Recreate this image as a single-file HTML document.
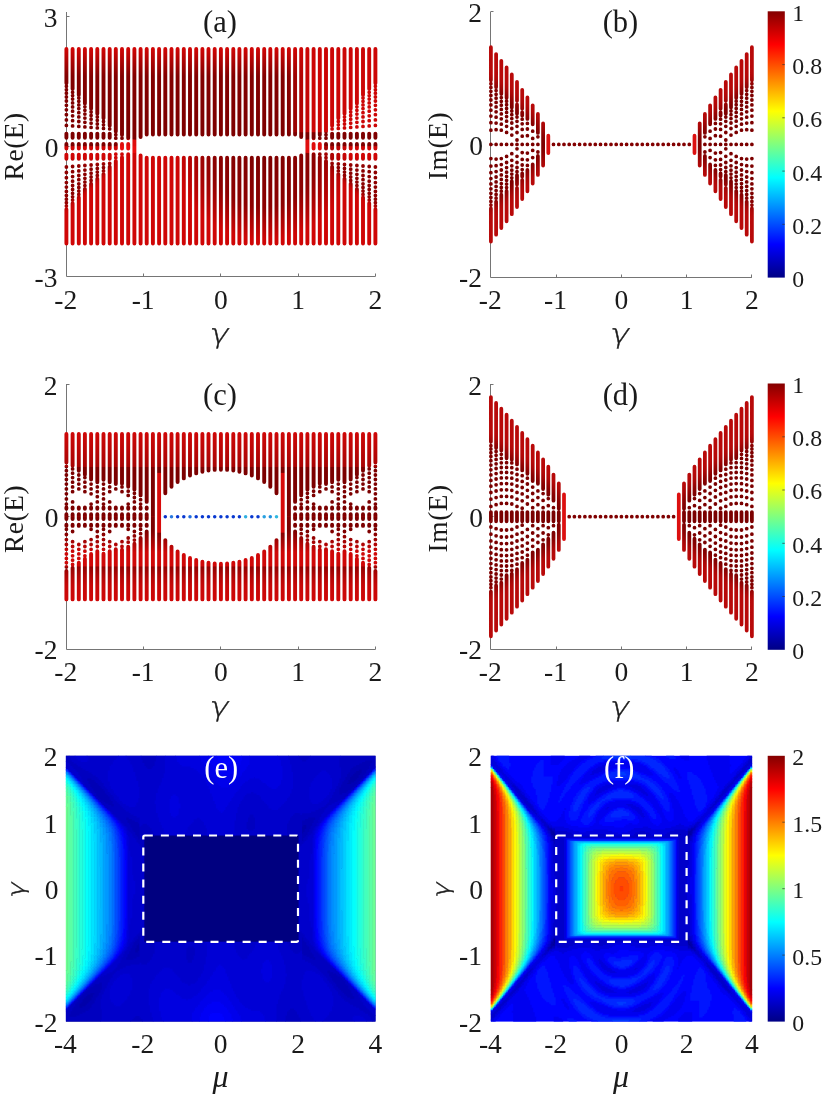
<!DOCTYPE html>
<html><head><meta charset="utf-8"><title>Figure</title>
<style>html,body{margin:0;padding:0;background:#fff}svg{display:block}text{font-family:'Liberation Serif','DejaVu Serif',serif;fill:#1a1a1a}</style>
</head><body>
<svg width="825" height="1097" viewBox="0 0 825 1097">
<rect width="825" height="1097" fill="#fff"/>
<rect x="66" y="755.8" width="309.4" height="265.8" fill="#000080"/>
<g fill="none" stroke-width="2">
<path stroke="#0000aa" d="M80.3 1003.3v5M81.8 1001.8v6.5M83.3 998.8v8M84.8 997.3v9.5M86.3 995.8v9.5M87.8 994.3v9.5M89.3 994.3v8M90.8 992.8v8M92.3 992.8v5M93.8 992.8v2M135.8 947.8v5M137.3 944.8v8M138.8 943.3v8M302.6 826.1v8M304.1 824.6v8M305.6 824.6v5M347.6 782.6v2M349.1 779.6v5M350.6 776.6v8M352.1 775.1v8M353.6 773.6v9.5M355.1 772.1v9.5M356.6 770.6v9.5M358.1 770.6v8M359.6 769.1v6.5M361.1 769.1v5"/>
<path stroke="#0000b5" d="M69.8 1013.8v3.5M71.3 1010.8v6.5M72.8 1007.8v9.5M74.3 1006.3v11M75.8 1003.3v14M77.3 1001.8v14M78.8 998.8v17M80.3 997.3v6.5M80.3 1007.8v6.5M81.8 995.8v6.5M81.8 1007.8v6.5M83.3 994.3v5M83.3 1006.3v6.5M84.8 992.8v5M84.8 1006.3v6.5M86.3 991.3v5M86.3 1004.8v6.5M87.8 778.1v3.5M87.8 989.8v5M87.8 1003.3v8M89.3 778.1v6.5M89.3 988.3v6.5M89.3 1001.8v8M90.8 778.1v9.5M90.8 986.8v6.5M90.8 1000.3v8M92.3 779.6v9.5M92.3 986.8v6.5M92.3 997.3v8M93.8 779.6v12.5M93.8 985.3v8M93.8 994.3v9.5M95.3 781.1v12.5M95.3 983.8v17M96.8 782.6v14M96.8 983.8v14M98.3 784.1v14M98.3 983.8v12.5M99.8 785.6v14M99.8 982.3v11M101.3 787.1v14M101.3 982.3v8M102.8 788.6v12.5M104.3 790.1v12.5M105.8 793.1v11M107.3 794.6v9.5M108.8 796.1v9.5M110.3 799.1v6.5M111.8 800.6v6.5M113.3 803.6v3.5M126.8 817.1v3.5M126.8 956.8v3.5M128.3 817.1v6.5M128.3 953.8v6.5M129.8 818.6v6.5M129.8 950.8v9.5M131.3 818.6v9.5M131.3 947.8v12.5M132.8 820.1v11M132.8 944.8v15.5M134.3 820.1v12.5M134.3 941.8v17M135.8 821.6v14M135.8 940.3v8M135.8 952.3v6.5M137.3 821.6v15.5M137.3 938.8v6.5M137.3 952.3v5M138.8 823.1v17M138.8 935.8v8M138.8 950.8v6.5M302.6 820.1v6.5M302.6 833.6v8M302.6 937.3v17M304.1 820.1v5M304.1 832.1v6.5M304.1 940.3v15.5M305.6 818.6v6.5M305.6 829.1v8M305.6 941.8v14M307.1 818.6v17M307.1 944.8v12.5M308.6 817.1v15.5M308.6 946.3v11M310.1 817.1v12.5M310.1 949.3v9.5M311.6 817.1v9.5M311.6 952.3v6.5M313.1 817.1v6.5M313.1 953.8v6.5M314.6 817.1v3.5M314.6 956.8v3.5M328.1 970.3v3.5M329.6 970.3v6.5M331.1 971.8v6.5M332.6 971.8v9.5M334.1 973.3v9.5M335.6 973.3v11M337.1 974.8v12.5M338.6 976.3v12.5M340.1 787.1v8M340.1 976.3v14M341.6 784.1v11M341.6 977.8v14M343.1 781.1v12.5M343.1 979.3v14M344.6 779.6v14M344.6 980.8v14M346.1 776.6v17M346.1 983.8v12.5M347.6 773.6v9.5M347.6 784.1v8M347.6 985.3v12.5M349.1 772.1v8M349.1 784.1v6.5M349.1 988.3v9.5M350.6 769.1v8M350.6 784.1v6.5M350.6 989.8v9.5M352.1 767.6v8M352.1 782.6v6.5M352.1 992.8v6.5M353.6 766.1v8M353.6 782.6v5M353.6 995.8v3.5M355.1 766.1v6.5M355.1 781.1v5M356.6 764.6v6.5M356.6 779.6v5M358.1 764.6v6.5M358.1 778.1v5M359.6 763.1v6.5M359.6 775.1v6.5M361.1 763.1v6.5M361.1 773.6v6.5M362.6 761.6v17M364.1 761.6v14M365.6 760.1v14M367.1 760.1v11M368.6 760.1v9.5M370.1 760.1v6.5M371.6 760.1v3.5"/>
<path stroke="#0000c0" d="M66.8 755.8v6.3M66.8 1010.8v10.8M68.3 755.8v7.8M68.3 1007.8v13.8M69.8 757.1v8M69.8 1006.3v8M69.8 1016.8v4.8M71.3 760.1v6.5M71.3 1004.8v6.5M71.3 1016.8v4.8M72.8 761.6v6.5M72.8 1003.3v5M72.8 1016.8v4.8M74.3 763.1v6.5M74.3 1001.8v5M74.3 1016.8v4.8M75.8 763.1v8M75.8 1000.3v3.5M75.8 1016.8v4.8M77.3 764.6v8M77.3 998.8v3.5M77.3 1015.3v6.3M78.8 766.1v9.5M78.8 997.3v2M78.8 1015.3v6.3M80.3 766.1v11M80.3 995.8v2M80.3 1013.8v7.8M81.8 767.6v12.5M81.8 992.8v3.5M81.8 1013.8v7.8M83.3 769.1v14M83.3 991.3v3.5M83.3 1012.3v9.3M84.8 769.1v17M84.8 989.8v3.5M84.8 1012.3v9.3M86.3 770.6v17M86.3 988.3v3.5M86.3 1010.8v10.8M87.8 770.6v8M87.8 781.1v8M87.8 986.8v3.5M87.8 1010.8v10.8M89.3 772.1v6.5M89.3 784.1v6.5M89.3 986.8v2M89.3 1009.3v12.3M90.8 772.1v6.5M90.8 787.1v5M90.8 985.3v2M90.8 1007.8v13.8M92.3 773.6v6.5M92.3 788.6v5M92.3 983.8v3.5M92.3 1004.8v16.8M93.8 775.1v5M93.8 791.6v5M93.8 982.3v3.5M93.8 1003.3v18.3M95.3 775.1v6.5M95.3 793.1v5M95.3 980.8v3.5M95.3 1000.3v21.3M96.8 776.6v6.5M96.8 796.1v3.5M96.8 979.3v5M96.8 997.3v24.3M98.3 778.1v6.5M98.3 797.6v3.5M98.3 977.8v6.5M98.3 995.8v25.8M99.8 779.6v6.5M99.8 799.1v3.5M99.8 977.8v5M99.8 992.8v28.8M101.3 781.1v6.5M101.3 800.6v3.5M101.3 976.3v6.5M101.3 989.8v9.5M101.3 1009.3v11M102.8 782.6v6.5M102.8 800.6v5M102.8 976.3v18.5M104.3 785.6v5M104.3 802.1v5M104.3 974.8v17M105.8 787.1v6.5M105.8 803.6v5M105.8 974.8v14M107.3 788.6v6.5M107.3 803.6v6.5M107.3 973.3v12.5M108.8 791.6v5M108.8 805.1v5M108.8 973.3v9.5M110.3 793.1v6.5M110.3 805.1v6.5M110.3 971.8v8M111.8 794.6v6.5M111.8 806.6v6.5M111.8 971.8v6.5M113.3 796.1v8M113.3 806.6v8M113.3 970.3v5M114.8 799.1v17M114.8 968.8v5M116.3 800.6v17M116.3 967.3v5M117.8 802.1v17M117.8 964.3v6.5M119.3 803.6v17M119.3 962.8v8M120.8 805.1v17M120.8 959.8v9.5M122.3 806.6v17M122.3 956.8v12.5M123.8 808.1v17M123.8 953.8v14M125.3 809.6v17M125.3 950.8v17M126.8 811.1v6.5M126.8 820.1v8M126.8 949.3v8M126.8 959.8v6.5M128.3 811.1v6.5M128.3 823.1v8M128.3 946.3v8M128.3 959.8v6.5M129.8 812.6v6.5M129.8 824.6v8M129.8 943.3v8M129.8 959.8v6.5M131.3 814.1v5M131.3 827.6v6.5M131.3 941.8v6.5M131.3 959.8v5M131.3 1019.8v1.8M132.8 814.1v6.5M132.8 830.6v6.5M132.8 940.3v5M132.8 959.8v5M132.8 1018.3v3.3M134.3 815.6v5M134.3 832.1v6.5M134.3 937.3v5M134.3 958.3v6.5M134.3 1016.8v4.8M135.8 815.6v6.5M135.8 835.1v5M135.8 935.8v5M135.8 958.3v6.5M135.8 1015.3v6.3M137.3 817.1v5M137.3 836.6v6.5M137.3 934.3v5M137.3 956.8v8M137.3 1015.3v6.3M138.8 817.1v6.5M138.8 839.6v5M138.8 932.8v3.5M138.8 956.8v8M138.8 1015.3v6.3M140.3 826.1v20M140.3 931.2v32M140.3 1016.8v4.8M141.8 755.8v4.8M141.8 824.6v23M141.8 929.7v35M141.8 1018.3v3.3M143.3 755.8v7.8M143.3 823.1v26M143.3 928.2v36.5M144.9 755.8v10.8M144.9 823.1v12.5M144.9 941.8v23M146.4 755.8v12.3M146.4 823.1v12.5M146.4 941.8v23M147.9 755.8v13.8M147.9 824.6v11M147.9 941.8v21.5M149.4 755.8v13.8M149.4 826.1v9.5M149.4 941.8v20M150.9 755.8v13.8M150.9 827.6v8M150.9 941.8v18.5M152.4 755.8v12.3M152.4 830.6v5M152.4 941.8v15.5M153.9 755.8v10.8M153.9 833.6v2M153.9 941.8v12.5M155.4 755.8v6.3M186.9 947.8v12.5M188.4 946.3v17M189.9 946.3v17M191.4 946.3v17M192.9 946.3v14M194.4 947.8v8M247 821.6v8M248.5 817.1v14M250 814.1v17M251.5 814.1v17M253 814.1v17M254.5 817.1v12.5M286 1015.3v6.3M287.5 823.1v12.5M287.5 941.8v2M287.5 1010.8v10.8M289 820.1v15.5M289 941.8v5M289 1009.3v12.3M290.5 817.1v18.5M290.5 941.8v8M290.5 1007.8v13.8M292 815.6v20M292 941.8v9.5M292 1007.8v13.8M293.5 814.1v21.5M293.5 941.8v11M293.5 1007.8v13.8M295 812.6v23M295 941.8v12.5M295 1009.3v12.3M296.5 812.6v23M296.5 941.8v12.5M296.5 1010.8v10.8M298 812.6v23M298 941.8v12.5M298 1013.8v7.8M299.6 755.8v3.3M299.6 812.6v35M299.6 929.7v23M299.6 1016.8v4.8M301.1 755.8v4.8M301.1 814.1v32M301.1 931.2v20M302.6 755.8v6.3M302.6 812.6v8M302.6 841.1v3.5M302.6 932.8v5M302.6 953.8v6.5M304.1 755.8v6.3M304.1 812.6v8M304.1 838.1v5M304.1 934.3v6.5M304.1 955.3v5M305.6 755.8v6.3M305.6 812.6v6.5M305.6 836.6v5M305.6 937.3v5M305.6 955.3v6.5M307.1 755.8v4.8M307.1 812.6v6.5M307.1 835.1v5M307.1 938.8v6.5M307.1 956.8v5M308.6 755.8v3.3M308.6 812.6v5M308.6 832.1v5M308.6 940.3v6.5M308.6 956.8v6.5M310.1 755.8v1.8M310.1 812.6v5M310.1 829.1v6.5M310.1 943.3v6.5M310.1 958.3v5M311.6 811.1v6.5M311.6 826.1v8M311.6 944.8v8M311.6 958.3v6.5M313.1 811.1v6.5M313.1 823.1v8M313.1 946.3v8M313.1 959.8v6.5M314.6 811.1v6.5M314.6 820.1v8M314.6 949.3v8M314.6 959.8v6.5M316.1 809.6v17M316.1 950.8v17M317.6 809.6v14M317.6 952.3v17M319.1 808.1v12.5M319.1 953.8v17M320.6 808.1v9.5M320.6 955.3v17M322.1 806.6v8M322.1 956.8v17M323.6 806.6v6.5M323.6 958.3v17M325.1 805.1v5M325.1 959.8v17M326.6 803.6v5M326.6 961.3v17M328.1 802.1v5M328.1 962.8v8M328.1 973.3v8M329.6 799.1v6.5M329.6 964.3v6.5M329.6 976.3v6.5M331.1 797.6v8M331.1 965.8v6.5M331.1 977.8v6.5M332.6 794.6v9.5M332.6 967.3v5M332.6 980.8v5M334.1 791.6v12.5M334.1 967.3v6.5M334.1 982.3v6.5M335.6 788.6v14M335.6 968.8v5M335.6 983.8v6.5M337.1 785.6v17M337.1 970.3v5M337.1 986.8v5M338.6 782.6v18.5M338.6 971.8v5M338.6 988.3v6.5M340.1 757.1v11M340.1 778.1v9.5M340.1 794.6v6.5M340.1 973.3v3.5M340.1 989.8v6.5M341.6 755.8v28.8M341.6 794.6v5M341.6 974.8v3.5M341.6 991.3v6.5M343.1 755.8v25.8M343.1 793.1v6.5M343.1 976.3v3.5M343.1 992.8v6.5M344.6 755.8v24.3M344.6 793.1v5M344.6 977.8v3.5M344.6 994.3v6.5M346.1 755.8v21.3M346.1 793.1v3.5M346.1 979.3v5M346.1 995.8v6.5M347.6 755.8v18.3M347.6 791.6v3.5M347.6 980.8v5M347.6 997.3v5M349.1 755.8v16.8M349.1 790.1v3.5M349.1 983.8v5M349.1 997.3v6.5M350.6 755.8v13.8M350.6 790.1v2M350.6 985.3v5M350.6 998.8v6.5M352.1 755.8v12.3M352.1 788.6v2M352.1 986.8v6.5M352.1 998.8v6.5M353.6 755.8v10.8M353.6 787.1v3.5M353.6 988.3v8M353.6 998.8v8M355.1 755.8v10.8M355.1 785.6v3.5M355.1 989.8v17M356.6 755.8v9.3M356.6 784.1v3.5M356.6 991.3v17M358.1 755.8v9.3M358.1 782.6v3.5M358.1 994.3v14M359.6 755.8v7.8M359.6 781.1v3.5M359.6 997.3v12.5M361.1 755.8v7.8M361.1 779.6v2M361.1 1000.3v11M362.6 755.8v6.3M362.6 778.1v2M362.6 1001.8v9.5M364.1 755.8v6.3M364.1 775.1v3.5M364.1 1004.8v8M365.6 755.8v4.8M365.6 773.6v3.5M365.6 1006.3v8M367.1 755.8v4.8M367.1 770.6v5M367.1 1007.8v6.5M368.6 755.8v4.8M368.6 769.1v5M368.6 1009.3v6.5M370.1 755.8v4.8M370.1 766.1v6.5M370.1 1010.8v6.5M371.6 755.8v4.8M371.6 763.1v8M371.6 1012.3v8M373.1 755.8v13.8M373.1 1013.8v7.8M374.6 755.8v10.8M374.6 1015.3v6.3"/>
<path stroke="#0000cb" d="M66.8 761.6v6.5M66.8 1009.3v2M68.3 763.1v6.5M68.3 1006.3v2M69.8 755.8v1.8M69.8 764.6v6.5M69.8 1004.8v2M71.3 755.8v4.8M71.3 766.1v6.5M71.3 1003.3v2M72.8 755.8v6.3M72.8 767.6v6.5M72.8 1001.8v2M74.3 755.8v7.8M74.3 769.1v6.5M74.3 1000.3v2M75.8 757.1v6.5M75.8 770.6v6.5M75.8 998.8v2M77.3 758.6v6.5M77.3 772.1v6.5M77.3 997.3v2M78.8 760.1v6.5M78.8 775.1v5M78.8 995.8v2M80.3 760.1v6.5M80.3 776.6v5M80.3 994.3v2M81.8 761.6v6.5M81.8 779.6v3.5M83.3 761.6v8M83.3 782.6v3.5M84.8 761.6v8M84.8 785.6v2M86.3 761.6v9.5M86.3 787.1v2M87.8 755.8v1.8M87.8 760.1v11M87.8 788.6v2M89.3 755.8v16.8M89.3 790.1v2M89.3 985.3v2M90.8 755.8v16.8M90.8 791.6v2M90.8 983.8v2M92.3 755.8v18.3M92.3 793.1v2M92.3 982.3v2M93.8 755.8v19.8M93.8 980.8v2M95.3 755.8v19.8M95.3 979.3v2M96.8 755.8v21.3M96.8 977.8v2M98.3 755.8v22.8M98.3 976.3v2M99.8 755.8v24.3M99.8 974.8v3.5M101.3 755.8v25.8M101.3 973.3v3.5M101.3 998.8v11M101.3 1019.8v1.8M102.8 755.8v27.3M102.8 971.8v5M102.8 994.3v27.3M104.3 755.8v30.3M104.3 971.8v3.5M104.3 991.3v30.3M105.8 755.8v31.8M105.8 970.3v5M105.8 988.3v33.3M107.3 755.8v33.3M107.3 968.8v5M107.3 985.3v36.3M108.8 755.8v15.3M108.8 781.1v11M108.8 809.6v2M108.8 967.3v6.5M108.8 982.3v39.3M110.3 755.8v10.8M110.3 785.6v8M110.3 811.1v2M110.3 965.8v6.5M110.3 979.3v9.5M110.3 998.8v22.8M111.8 755.8v9.3M111.8 788.6v6.5M111.8 812.6v2M111.8 964.3v8M111.8 977.8v8M111.8 1001.8v19.8M113.3 755.8v6.3M113.3 790.1v6.5M113.3 814.1v2M113.3 962.8v8M113.3 974.8v8M113.3 1003.3v18.3M114.8 755.8v4.8M114.8 793.1v6.5M114.8 815.6v2M114.8 961.3v8M114.8 973.3v8M114.8 1004.8v16.8M116.3 755.8v3.3M116.3 794.6v6.5M116.3 817.1v2M116.3 959.8v8M116.3 971.8v8M116.3 1006.3v15.3M117.8 755.8v1.8M117.8 796.1v6.5M117.8 818.6v2M117.8 958.3v6.5M117.8 970.3v8M117.8 1006.3v15.3M119.3 799.1v5M119.3 820.1v2M119.3 955.3v8M119.3 970.3v6.5M119.3 1006.3v15.3M120.8 800.6v5M120.8 821.6v2M120.8 953.8v6.5M120.8 968.8v6.5M120.8 1004.8v16.8M122.3 802.1v5M122.3 823.1v2M122.3 952.3v5M122.3 968.8v6.5M122.3 1003.3v18.3M123.8 803.6v5M123.8 824.6v2M123.8 950.8v3.5M123.8 967.3v6.5M123.8 1001.8v19.8M125.3 803.6v6.5M125.3 826.1v2M125.3 949.3v2M125.3 967.3v6.5M125.3 1000.3v21.3M126.8 755.8v1.8M126.8 805.1v6.5M126.8 827.6v3.5M126.8 946.3v3.5M126.8 965.8v8M126.8 998.8v22.8M128.3 755.8v4.8M128.3 805.1v6.5M128.3 830.6v6.5M128.3 938.8v8M128.3 965.8v8M128.3 995.8v25.8M129.8 755.8v6.3M129.8 806.6v6.5M129.8 832.1v18.5M129.8 923.7v20M129.8 965.8v9.5M129.8 994.3v27.3M131.3 755.8v9.3M131.3 806.6v8M131.3 833.6v23M131.3 917.7v24.5M131.3 964.3v14M131.3 989.8v30.5M132.8 755.8v12.3M132.8 806.6v8M132.8 836.6v38M132.8 898.2v42.5M132.8 964.3v54.6M134.3 755.8v16.8M134.3 806.6v9.5M134.3 838.1v42.5M134.3 893.7v44M134.3 964.3v53.1M135.8 755.8v21.3M135.8 805.1v11M135.8 839.6v96.6M135.8 964.3v51.6M137.3 755.8v25.8M137.3 802.1v15.5M137.3 842.6v92.1M137.3 964.3v51.6M138.8 755.8v31.8M138.8 797.6v20M138.8 844.1v89.1M138.8 964.3v51.6M140.3 755.8v70.8M140.3 845.7v86.1M140.3 962.8v54.6M141.8 760.1v65.1M141.8 847.2v83.1M141.8 964.3v54.6M143.3 763.1v60.6M143.3 848.7v80.1M143.3 964.3v57.3M144.9 766.1v57.6M144.9 964.3v57.3M146.4 767.6v56.1M146.4 964.3v57.3M147.9 769.1v56.1M147.9 962.8v58.8M149.4 769.1v57.6M149.4 961.3v27.5M149.4 1004.8v16.8M150.9 769.1v59.1M150.9 959.8v24.5M150.9 1012.3v9.3M152.4 767.6v63.6M152.4 956.8v24.5M152.4 1016.8v4.8M153.9 766.1v68.1M153.9 953.8v26M155.4 761.6v39.5M155.4 803.6v32M155.4 941.8v35M156.9 755.8v37.8M156.9 812.6v23M156.9 941.8v33.5M158.4 755.8v33.3M158.4 817.1v18.5M158.4 941.8v32M159.9 755.8v30.3M159.9 821.6v14M159.9 941.8v30.5M161.4 755.8v27.3M161.4 824.6v11M161.4 941.8v29M162.9 755.8v22.8M162.9 827.6v8M162.9 941.8v27.5M164.4 755.8v18.3M164.4 832.1v3.5M164.4 941.8v26M165.9 941.8v26M167.4 941.8v26M168.9 941.8v26M170.4 941.8v27.5M171.9 941.8v27.5M173.4 941.8v30.5M174.9 941.8v32M176.4 941.8v33.5M177.9 941.8v35M179.4 941.8v36.5M180.9 941.8v39.5M182.4 941.8v41M183.9 941.8v41M185.4 832.1v3.5M185.4 941.8v42.5M186.9 829.1v6.5M186.9 941.8v6.5M186.9 959.8v24.5M188.4 826.1v9.5M188.4 941.8v5M188.4 962.8v23M189.9 824.6v11M189.9 941.8v5M189.9 962.8v23M191.4 823.1v12.5M191.4 941.8v5M191.4 962.8v21.5M192.9 821.6v14M192.9 941.8v5M192.9 959.8v24.5M194.4 818.6v17M194.4 941.8v6.5M194.4 955.3v29M195.9 818.6v17M195.9 941.8v41M197.4 817.1v18.5M197.4 941.8v39.5M198.9 817.1v18.5M198.9 941.8v36.5M200.4 818.6v17M200.4 941.8v35M201.9 820.1v15.5M201.9 941.8v32M203.4 821.6v14M203.4 941.8v29M204.9 824.6v11M204.9 941.8v23M206.4 827.6v8M206.4 943.3v14M235 820.1v14M235 941.8v8M236.5 812.6v23M236.5 941.8v11M238 806.6v29M238 941.8v14M239.5 803.6v32M239.5 941.8v15.5M241 800.6v35M241 941.8v17M242.5 799.1v36.5M242.5 941.8v18.5M244 796.1v39.5M244 941.8v18.5M245.5 794.6v41M245.5 941.8v17M247 793.1v29M247 829.1v6.5M247 941.8v17M248.5 793.1v24.5M248.5 830.6v5M248.5 941.8v14M250 793.1v21.5M250 830.6v5M250 941.8v12.5M251.5 791.6v23M251.5 830.6v5M251.5 941.8v11M253 791.6v23M253 830.6v5M253 941.8v9.5M254.5 793.1v24.5M254.5 829.1v6.5M254.5 941.8v6.5M256 793.1v42.5M256 941.8v3.5M257.5 794.6v41M259 794.6v41M260.5 796.1v39.5M262 799.1v36.5M263.5 800.6v35M265 802.1v33.5M266.5 803.6v32M268 805.1v30.5M269.5 808.1v27.5M271 808.1v27.5M272.5 809.6v26M274 809.6v26M275.5 809.6v26M277 809.6v26M277 941.8v3.5M277 1003.3v18.3M278.5 808.1v27.5M278.5 941.8v8M278.5 998.8v22.8M280 806.6v29M280 941.8v11M280 994.3v27.3M281.5 805.1v30.5M281.5 941.8v14M281.5 991.3v30.3M283 803.6v32M283 941.8v18.5M283 988.3v33.3M284.5 802.1v33.5M284.5 941.8v23M284.5 983.8v37.8M286 800.6v35M286 941.8v32M286 976.3v39.5M287.5 797.6v26M287.5 943.3v68.1M289 755.8v4.8M289 796.1v24.5M289 946.3v63.6M290.5 755.8v9.3M290.5 793.1v24.5M290.5 949.3v59.1M292 755.8v16.8M292 788.6v27.5M292 950.8v57.6M293.5 755.8v58.8M293.5 952.3v56.1M295 755.8v57.3M295 953.8v56.1M296.5 755.8v57.3M296.5 953.8v57.6M298 755.8v57.3M298 953.8v60.6M299.6 758.6v54.6M299.6 847.2v83.1M299.6 952.3v65.1M301.1 760.1v54.6M301.1 845.7v86.1M301.1 950.8v70.8M302.6 761.6v51.6M302.6 844.1v89.1M302.6 959.8v20M302.6 989.8v31.8M304.1 761.6v51.6M304.1 842.6v92.1M304.1 959.8v15.5M304.1 995.8v25.8M305.6 761.6v51.6M305.6 841.1v96.6M305.6 961.3v11M305.6 1000.3v21.3M307.1 760.1v53.1M307.1 839.6v44M307.1 896.7v42.5M307.1 961.3v9.5M307.1 1004.8v16.8M308.6 758.6v54.6M308.6 836.6v42.5M308.6 902.7v38M308.6 962.8v8M308.6 1009.3v12.3M310.1 757.1v30.5M310.1 799.1v14M310.1 835.1v24.5M310.1 920.7v23M310.1 962.8v8M310.1 1012.3v9.3M311.6 755.8v27.3M311.6 802.1v9.5M311.6 833.6v20M311.6 926.7v18.5M311.6 964.3v6.5M311.6 1015.3v6.3M313.1 755.8v25.8M313.1 803.6v8M313.1 830.6v8M313.1 940.3v6.5M313.1 965.8v6.5M313.1 1016.8v4.8M314.6 755.8v22.8M314.6 803.6v8M314.6 827.6v3.5M314.6 946.3v3.5M314.6 965.8v6.5M314.6 1019.8v1.8M316.1 755.8v21.3M316.1 803.6v6.5M316.1 826.1v2M316.1 949.3v2M316.1 967.3v6.5M317.6 755.8v19.8M317.6 803.6v6.5M317.6 823.1v3.5M317.6 950.8v2M317.6 968.8v5M319.1 755.8v18.3M319.1 802.1v6.5M319.1 820.1v5M319.1 952.3v2M319.1 970.3v5M320.6 755.8v16.8M320.6 802.1v6.5M320.6 817.1v6.5M320.6 953.8v2M320.6 971.8v5M322.1 755.8v15.3M322.1 800.6v6.5M322.1 814.1v8M322.1 955.3v2M322.1 973.3v5M323.6 755.8v15.3M323.6 799.1v8M323.6 812.6v6.5M323.6 956.8v2M323.6 974.8v6.5M323.6 1019.8v1.8M325.1 755.8v15.3M325.1 797.6v8M325.1 809.6v8M325.1 958.3v2M325.1 976.3v6.5M325.1 1018.3v3.3M326.6 755.8v16.8M326.6 796.1v8M326.6 808.1v8M326.6 959.8v2M326.6 977.8v6.5M326.6 1016.8v4.8M328.1 755.8v18.3M328.1 794.6v8M328.1 806.6v8M328.1 961.3v2M328.1 980.8v6.5M328.1 1015.3v6.3M329.6 755.8v19.8M329.6 791.6v8M329.6 805.1v8M329.6 962.8v2M329.6 982.3v6.5M329.6 1012.3v9.3M331.1 755.8v22.8M331.1 788.6v9.5M331.1 805.1v6.5M331.1 964.3v2M331.1 983.8v8M331.1 1010.8v10.8M332.6 755.8v39.3M332.6 803.6v6.5M332.6 965.8v2M332.6 985.3v11M332.6 1006.3v15.3M334.1 755.8v36.3M334.1 803.6v5M334.1 988.3v33.3M335.6 755.8v33.3M335.6 802.1v5M335.6 989.8v31.8M337.1 755.8v30.3M337.1 802.1v3.5M337.1 991.3v30.3M338.6 755.8v27.3M338.6 800.6v5M338.6 994.3v27.3M340.1 755.8v1.8M340.1 767.6v11M340.1 800.6v3.5M340.1 995.8v25.8M341.6 799.1v3.5M341.6 997.3v24.3M343.1 799.1v2M343.1 998.8v22.8M344.6 797.6v2M344.6 1000.3v21.3M346.1 796.1v2M346.1 1001.8v19.8M347.6 794.6v2M347.6 1001.8v19.8M349.1 793.1v2M349.1 982.3v2M349.1 1003.3v18.3M350.6 791.6v2M350.6 983.8v2M350.6 1004.8v16.8M352.1 790.1v2M352.1 985.3v2M352.1 1004.8v16.8M353.6 986.8v2M353.6 1006.3v11M353.6 1019.8v1.8M355.1 988.3v2M355.1 1006.3v9.5M356.6 989.8v2M356.6 1007.8v8M358.1 991.3v3.5M358.1 1007.8v8M359.6 994.3v3.5M359.6 1009.3v6.5M361.1 781.1v2M361.1 995.8v5M361.1 1010.8v6.5M362.6 779.6v2M362.6 997.3v5M362.6 1010.8v6.5M364.1 778.1v2M364.1 998.8v6.5M364.1 1012.3v6.5M365.6 776.6v2M365.6 1000.3v6.5M365.6 1013.8v6.5M367.1 775.1v2M367.1 1001.8v6.5M367.1 1013.8v7.8M368.6 773.6v2M368.6 1003.3v6.5M368.6 1015.3v6.3M370.1 772.1v2M370.1 1004.8v6.5M370.1 1016.8v4.8M371.6 770.6v2M371.6 1006.3v6.5M371.6 1019.8v1.8M373.1 769.1v2M373.1 1007.8v6.5M374.6 766.1v2M374.6 1009.3v6.5"/>
<path stroke="#0000d5" d="M66.8 767.6v2M66.8 1007.8v2M68.3 769.1v2M69.8 770.6v2M71.3 772.1v2M72.8 773.6v2M74.3 775.1v2M75.8 755.8v1.8M75.8 776.6v2M77.3 755.8v3.3M77.3 778.1v2M78.8 755.8v4.8M78.8 779.6v2M80.3 755.8v4.8M80.3 781.1v2M81.8 755.8v6.3M81.8 782.6v2M83.3 755.8v6.3M84.8 755.8v6.3M86.3 755.8v6.3M87.8 757.1v3.5M104.3 970.3v2M105.8 968.8v2M107.3 967.3v2M108.8 770.6v11M108.8 965.8v2M110.3 766.1v20M110.3 964.3v2M110.3 988.3v11M111.8 764.6v24.5M111.8 962.8v2M111.8 985.3v17M113.3 761.6v29M113.3 961.3v2M113.3 982.3v21.5M114.8 760.1v33.5M114.8 959.8v2M114.8 980.8v24.5M116.3 758.6v36.5M116.3 958.3v2M116.3 979.3v27.5M117.8 757.1v39.5M117.8 956.8v2M117.8 977.8v29M119.3 755.8v43.8M119.3 976.3v30.5M120.8 755.8v45.3M120.8 823.1v2M120.8 974.8v30.5M122.3 755.8v46.8M122.3 824.6v2M122.3 950.8v2M122.3 974.8v29M123.8 755.8v48.3M123.8 826.1v2M123.8 949.3v2M123.8 973.3v29M125.3 755.8v48.3M125.3 827.6v3.5M125.3 946.3v3.5M125.3 973.3v27.5M126.8 757.1v48.6M126.8 830.6v5M126.8 941.8v5M126.8 973.3v26M128.3 760.1v45.6M128.3 836.6v102.6M128.3 973.3v23M129.8 761.6v45.6M129.8 850.2v74.1M129.8 974.8v20M131.3 764.6v42.5M131.3 856.2v62.1M131.3 977.8v12.5M132.8 767.6v39.5M132.8 874.2v24.5M134.3 772.1v35M134.3 880.2v14M135.8 776.6v29M137.3 781.1v21.5M138.8 787.1v11M149.4 988.3v17M150.9 983.8v29M152.4 980.8v36.5M153.9 979.3v42.3M155.4 800.6v3.5M155.4 976.3v45.3M156.9 793.1v20M156.9 974.8v46.8M158.4 788.6v29M158.4 973.3v48.3M159.9 785.6v36.5M159.9 971.8v26M159.9 1010.8v10.8M161.4 782.6v42.5M161.4 970.3v23M161.4 1016.8v4.8M162.9 778.1v50.1M162.9 968.8v23M162.9 1019.8v1.8M164.4 773.6v59.1M164.4 967.3v23M165.9 755.8v79.8M165.9 967.3v21.5M167.4 755.8v79.8M167.4 967.3v21.5M168.9 755.8v79.8M168.9 967.3v21.5M170.4 755.8v43.8M170.4 812.6v23M170.4 968.8v21.5M171.9 755.8v40.8M171.9 815.6v20M171.9 968.8v21.5M173.4 755.8v39.3M173.4 817.1v18.5M173.4 971.8v20M174.9 755.8v39.3M174.9 817.1v18.5M174.9 973.3v20M176.4 757.1v39.5M176.4 815.6v20M176.4 974.8v20M177.9 761.6v36.5M177.9 814.1v21.5M177.9 976.3v18.5M179.4 763.1v41M179.4 808.1v27.5M179.4 977.8v18.5M180.9 764.6v71.1M180.9 980.8v17M182.4 766.1v69.6M182.4 982.3v17M183.9 766.1v69.6M183.9 982.3v17M185.4 766.1v66.6M185.4 983.8v15.5M186.9 766.1v63.6M186.9 983.8v17M188.4 766.1v60.6M188.4 985.3v14M189.9 766.1v59.1M189.9 985.3v14M191.4 767.6v56.1M191.4 983.8v15.5M192.9 767.6v54.6M192.9 983.8v14M194.4 769.1v50.1M194.4 983.8v12.5M195.9 769.1v50.1M195.9 982.3v14M197.4 770.6v47.1M197.4 980.8v14M198.9 772.1v45.6M198.9 977.8v15.5M200.4 773.6v45.6M200.4 976.3v15.5M201.9 775.1v45.6M201.9 973.3v15.5M203.4 778.1v44M203.4 970.3v17M204.9 779.6v45.6M204.9 964.3v21.5M206.4 782.6v45.6M206.4 941.8v2M206.4 956.8v27.5M207.9 785.6v50.1M207.9 941.8v39.5M209.4 788.6v47.1M209.4 941.8v38M210.9 793.1v42.5M210.9 941.8v35M212.4 796.1v39.5M212.4 941.8v33.5M213.9 800.6v35M213.9 941.8v30.5M215.4 803.6v32M215.4 941.8v29M216.9 808.1v27.5M216.9 941.8v26M218.4 809.6v26M218.4 941.8v24.5M219.9 811.1v24.5M219.9 941.8v23M221.5 812.6v23M221.5 941.8v24.5M223 811.1v24.5M223 941.8v26M224.5 809.6v26M224.5 941.8v27.5M226 806.6v29M226 941.8v32M227.5 805.1v30.5M227.5 941.8v35M229 802.1v33.5M229 941.8v39.5M230.5 800.6v35M230.5 941.8v42.5M232 797.6v38M232 941.8v47.1M233.5 796.1v39.5M233.5 941.8v50.1M235 793.1v27.5M235 833.6v2M235 949.3v45.6M236.5 791.6v21.5M236.5 952.3v45.6M238 790.1v17M238 955.3v44M239.5 788.6v15.5M239.5 956.8v45.6M241 785.6v15.5M241 958.3v45.6M242.5 784.1v15.5M242.5 959.8v45.6M244 782.6v14M244 959.8v47.1M245.5 781.1v14M245.5 958.3v50.1M247 781.1v12.5M247 958.3v50.1M248.5 779.6v14M248.5 955.3v54.6M250 778.1v15.5M250 953.8v56.1M251.5 778.1v14M251.5 952.3v59.1M253 778.1v14M253 950.8v60.6M254.5 776.6v17M254.5 947.8v63.6M256 778.1v15.5M256 944.8v66.6M257.5 778.1v17M257.5 941.8v69.6M259 778.1v17M259 941.8v69.6M260.5 779.6v17M260.5 941.8v71.1M262 781.1v18.5M262 941.8v27.5M262 973.3v41M263.5 782.6v18.5M263.5 941.8v21.5M263.5 979.3v36.5M265 782.6v20M265 941.8v20M265 980.8v39.5M266.5 784.1v20M266.5 941.8v18.5M266.5 982.3v39.3M268 785.6v20M268 941.8v18.5M268 982.3v39.3M269.5 787.1v21.5M269.5 941.8v20M269.5 980.8v40.8M271 787.1v21.5M271 941.8v23M271 977.8v43.8M272.5 788.6v21.5M272.5 941.8v79.8M274 788.6v21.5M274 941.8v79.8M275.5 788.6v21.5M275.5 941.8v79.8M277 787.1v23M277 944.8v59.1M278.5 755.8v1.8M278.5 785.6v23M278.5 949.3v50.1M280 755.8v4.8M280 784.1v23M280 952.3v42.5M281.5 755.8v10.8M281.5 779.6v26M281.5 955.3v36.5M283 755.8v48.3M283 959.8v29M284.5 755.8v46.8M284.5 964.3v20M286 755.8v45.3M286 973.3v3.5M287.5 755.8v42.3M289 760.1v36.5M290.5 764.6v29M292 772.1v17M302.6 979.3v11M304.1 974.8v21.5M305.6 971.8v29M307.1 883.2v14M307.1 970.3v35M308.6 878.7v24.5M308.6 970.3v39.5M310.1 787.1v12.5M310.1 859.2v62.1M310.1 970.3v42.5M311.6 782.6v20M311.6 853.2v74.1M311.6 970.3v45.6M313.1 781.1v23M313.1 838.1v102.6M313.1 971.8v45.6M314.6 778.1v26M314.6 830.6v5M314.6 941.8v5M314.6 971.8v48.6M316.1 776.6v27.5M316.1 827.6v3.5M316.1 946.3v3.5M316.1 973.3v48.3M317.6 775.1v29M317.6 826.1v2M317.6 949.3v2M317.6 973.3v48.3M319.1 773.6v29M319.1 824.6v2M319.1 950.8v2M319.1 974.8v46.8M320.6 772.1v30.5M320.6 952.3v2M320.6 976.3v45.3M322.1 770.6v30.5M322.1 977.8v43.8M323.6 770.6v29M323.6 818.6v2M323.6 980.8v39.5M325.1 770.6v27.5M325.1 817.1v2M325.1 982.3v36.5M326.6 772.1v24.5M326.6 815.6v2M326.6 983.8v33.5M328.1 773.6v21.5M328.1 814.1v2M328.1 986.8v29M329.6 775.1v17M329.6 812.6v2M329.6 988.3v24.5M331.1 778.1v11M331.1 811.1v2M331.1 991.3v20M332.6 809.6v2M332.6 995.8v11M334.1 808.1v2M335.6 806.6v2M337.1 805.1v2M353.6 1016.8v3.5M355.1 1015.3v6.3M356.6 1015.3v6.3M358.1 1015.3v6.3M359.6 992.8v2M359.6 1015.3v6.3M361.1 994.3v2M361.1 1016.8v4.8M362.6 995.8v2M362.6 1016.8v4.8M364.1 997.3v2M364.1 1018.3v3.3M365.6 998.8v2M365.6 1019.8v1.8M367.1 1000.3v2M368.6 1001.8v2M370.1 1003.3v2M371.6 1004.8v2M373.1 1006.3v2M374.6 767.6v2M374.6 1007.8v2"/>
<path stroke="#0000e0" d="M111.8 814.1v2M113.3 815.6v2M114.8 817.1v2M116.3 818.6v2M117.8 820.1v2M117.8 955.3v2M119.3 821.6v2M119.3 953.8v2M120.8 952.3v2M122.3 826.1v2M122.3 949.3v2M123.8 827.6v3.5M123.8 946.3v3.5M125.3 830.6v3.5M125.3 943.3v3.5M126.8 835.1v11M126.8 929.7v12.5M159.9 997.3v14M161.4 992.8v24.5M162.9 991.3v29M164.4 989.8v31.8M165.9 988.3v33.3M167.4 988.3v33.3M168.9 988.3v33.3M170.4 799.1v14M170.4 989.8v31.8M171.9 796.1v20M171.9 989.8v31.8M173.4 794.6v23M173.4 991.3v30.3M174.9 794.6v23M174.9 992.8v28.8M176.4 755.8v1.8M176.4 796.1v20M176.4 994.3v27.3M177.9 755.8v6.3M177.9 797.6v17M177.9 994.3v27.3M179.4 755.8v7.8M179.4 803.6v5M179.4 995.8v25.8M180.9 755.8v9.3M180.9 997.3v24.3M182.4 755.8v10.8M182.4 998.8v22.8M183.9 755.8v10.8M183.9 998.8v22.8M185.4 755.8v10.8M185.4 998.8v22.8M186.9 755.8v10.8M186.9 1000.3v21.3M188.4 755.8v10.8M188.4 998.8v22.8M189.9 755.8v10.8M189.9 998.8v22.8M191.4 755.8v12.3M191.4 998.8v22.8M192.9 755.8v12.3M192.9 997.3v15.5M194.4 755.8v13.8M194.4 995.8v15.5M195.9 755.8v13.8M195.9 995.8v12.5M197.4 755.8v15.3M197.4 994.3v12.5M198.9 755.8v16.8M198.9 992.8v12.5M200.4 757.1v17M200.4 991.3v11M201.9 761.6v14M201.9 988.3v12.5M203.4 763.1v15.5M203.4 986.8v12.5M204.9 766.1v14M204.9 985.3v12.5M206.4 767.6v15.5M206.4 983.8v12.5M207.9 770.6v15.5M207.9 980.8v14M209.4 772.1v17M209.4 979.3v14M210.9 775.1v18.5M210.9 976.3v15.5M212.4 776.6v20M212.4 974.8v17M213.9 779.6v21.5M213.9 971.8v18.5M215.4 781.1v23M215.4 970.3v20M216.9 782.6v26M216.9 967.3v23M218.4 784.1v26M218.4 965.8v24.5M219.9 785.6v26M219.9 964.3v26M221.5 787.1v26M221.5 965.8v26M223 787.1v24.5M223 967.3v26M224.5 787.1v23M224.5 968.8v26M226 787.1v20M226 973.3v23M227.5 787.1v18.5M227.5 976.3v21.5M229 785.6v17M229 980.8v20M230.5 785.6v15.5M230.5 983.8v18.5M232 784.1v14M232 988.3v17M233.5 782.6v14M233.5 991.3v15.5M235 781.1v12.5M235 994.3v15.5M236.5 779.6v12.5M236.5 997.3v14M238 778.1v12.5M238 998.8v15.5M239.5 776.6v12.5M239.5 1001.8v14M241 775.1v11M241 1003.3v17M242.5 772.1v12.5M242.5 1004.8v16.8M244 770.6v12.5M244 1006.3v15.3M245.5 769.1v12.5M245.5 1007.8v13.8M247 766.1v15.5M247 1007.8v13.8M248.5 764.6v15.5M248.5 1009.3v12.3M250 755.8v22.8M250 1009.3v12.3M251.5 755.8v22.8M251.5 1010.8v10.8M253 755.8v22.8M253 1010.8v10.8M254.5 755.8v21.3M254.5 1010.8v10.8M256 755.8v22.8M256 1010.8v10.8M257.5 755.8v22.8M257.5 1010.8v10.8M259 755.8v22.8M259 1010.8v10.8M260.5 755.8v24.3M260.5 1012.3v9.3M262 755.8v25.8M262 968.8v5M262 1013.8v7.8M263.5 755.8v27.3M263.5 962.8v17M263.5 1015.3v6.3M265 755.8v27.3M265 961.3v20M265 1019.8v1.8M266.5 755.8v28.8M266.5 959.8v23M268 755.8v30.3M268 959.8v23M269.5 755.8v31.8M269.5 961.3v20M271 755.8v31.8M271 964.3v14M272.5 755.8v33.3M274 755.8v33.3M275.5 755.8v33.3M277 755.8v31.8M278.5 757.1v29M280 760.1v24.5M281.5 766.1v14M314.6 835.1v12.5M314.6 931.2v11M316.1 830.6v3.5M316.1 943.3v3.5M317.6 827.6v3.5M317.6 946.3v3.5M319.1 826.1v2M319.1 949.3v2M320.6 823.1v2M322.1 821.6v2M322.1 953.8v2M323.6 820.1v2M323.6 955.3v2M325.1 956.8v2M326.6 958.3v2M328.1 959.8v2M329.6 961.3v2"/>
<path stroke="#0000eb" d="M96.8 799.1v2M98.3 800.6v2M99.8 802.1v2M101.3 803.6v2M102.8 805.1v2M104.3 806.6v2M105.8 808.1v2M107.3 809.6v2M108.8 811.1v2M110.3 812.6v2M111.8 961.3v2M113.3 959.8v2M114.8 958.3v2M116.3 956.8v2M117.8 821.6v2M119.3 823.1v2M119.3 952.3v2M120.8 824.6v3.5M120.8 950.8v2M122.3 827.6v2M122.3 947.8v2M123.8 830.6v3.5M123.8 943.3v3.5M125.3 833.6v6.5M125.3 937.3v6.5M126.8 845.7v84.6M192.9 1012.3v9.3M194.4 1010.8v10.8M195.9 1007.8v13.8M197.4 1006.3v15.3M198.9 1004.8v16.8M200.4 755.8v1.8M200.4 1001.8v15.5M201.9 755.8v6.3M201.9 1000.3v12.5M203.4 755.8v7.8M203.4 998.8v12.5M204.9 755.8v10.8M204.9 997.3v11M206.4 755.8v12.3M206.4 995.8v11M207.9 755.8v15.3M207.9 994.3v11M209.4 758.6v14M209.4 992.8v11M210.9 763.1v12.5M210.9 991.3v12.5M212.4 764.6v12.5M212.4 991.3v11M213.9 767.6v12.5M213.9 989.8v12.5M215.4 769.1v12.5M215.4 989.8v12.5M216.9 770.6v12.5M216.9 989.8v12.5M218.4 772.1v12.5M218.4 989.8v12.5M219.9 773.6v12.5M219.9 989.8v12.5M221.5 775.1v12.5M221.5 991.3v12.5M223 775.1v12.5M223 992.8v12.5M224.5 775.1v12.5M224.5 994.3v12.5M226 775.1v12.5M226 995.8v12.5M227.5 775.1v12.5M227.5 997.3v12.5M229 775.1v11M229 1000.3v12.5M230.5 773.6v12.5M230.5 1001.8v12.5M232 773.6v11M232 1004.8v14M233.5 772.1v11M233.5 1006.3v15.3M235 770.6v11M235 1009.3v12.3M236.5 769.1v11M236.5 1010.8v10.8M238 766.1v12.5M238 1013.8v7.8M239.5 764.6v12.5M239.5 1015.3v6.3M241 760.1v15.5M241 1019.8v1.8M242.5 755.8v16.8M244 755.8v15.3M245.5 755.8v13.8M247 755.8v10.8M248.5 755.8v9.3M314.6 847.2v84.6M316.1 833.6v6.5M316.1 937.3v6.5M317.6 830.6v3.5M317.6 943.3v3.5M319.1 827.6v2M319.1 947.8v2M320.6 824.6v2M320.6 949.3v3.5M322.1 823.1v2M322.1 952.3v2M323.6 953.8v2M325.1 818.6v2M326.6 817.1v2M328.1 815.6v2M329.6 814.1v2M331.1 962.8v2M332.6 964.3v2M334.1 965.8v2M335.6 967.3v2M337.1 968.8v2M338.6 970.3v2M340.1 971.8v2M341.6 973.3v2M343.1 974.8v2M344.6 976.3v2"/>
<path stroke="#0000f6" d="M86.3 986.8v2M87.8 985.3v2M89.3 791.6v2M89.3 983.8v2M90.8 793.1v2M90.8 982.3v2M92.3 794.6v2M92.3 980.8v2M93.8 796.1v2M93.8 979.3v2M95.3 797.6v2M95.3 977.8v2M96.8 976.3v2M98.3 974.8v2M99.8 973.3v2M101.3 971.8v2M102.8 970.3v2M104.3 968.8v2M105.8 967.3v2M107.3 965.8v2M108.8 964.3v2M110.3 962.8v2M113.3 817.1v2M114.8 818.6v2M116.3 820.1v2M116.3 955.3v2M117.8 953.8v2M119.3 824.6v2M119.3 950.8v2M120.8 827.6v2M120.8 947.8v3.5M122.3 829.1v3.5M122.3 944.8v3.5M123.8 833.6v5M123.8 938.8v5M125.3 839.6v20M125.3 917.7v20M200.4 1016.8v4.8M201.9 1012.3v9.3M203.4 1010.8v10.8M204.9 1007.8v13.8M206.4 1006.3v15.3M207.9 1004.8v16.8M209.4 755.8v3.3M209.4 1003.3v12.5M210.9 755.8v7.8M210.9 1003.3v11M212.4 755.8v9.3M212.4 1001.8v11M213.9 755.8v12.3M213.9 1001.8v11M215.4 755.8v13.8M215.4 1001.8v11M216.9 757.1v14M216.9 1001.8v11M218.4 760.1v12.5M218.4 1001.8v11M219.9 763.1v11M219.9 1001.8v11M221.5 764.6v11M221.5 1003.3v11M223 764.6v11M223 1004.8v12.5M224.5 764.6v11M224.5 1006.3v14M226 764.6v11M226 1007.8v13.8M227.5 764.6v11M227.5 1009.3v12.3M229 764.6v11M229 1012.3v9.3M230.5 763.1v11M230.5 1013.8v7.8M232 761.6v12.5M232 1018.3v3.3M233.5 755.8v16.8M235 755.8v15.3M236.5 755.8v13.8M238 755.8v10.8M239.5 755.8v9.3M241 755.8v4.8M316.1 839.6v20M316.1 917.7v20M317.6 833.6v5M317.6 938.8v5M319.1 829.1v3.5M319.1 944.8v3.5M320.6 826.1v3.5M320.6 947.8v2M322.1 824.6v2M322.1 950.8v2M323.6 821.6v2M325.1 820.1v2M325.1 955.3v2M326.6 956.8v2M328.1 958.3v2M331.1 812.6v2M332.6 811.1v2M334.1 809.6v2M335.6 808.1v2M337.1 806.6v2M338.6 805.1v2M340.1 803.6v2M341.6 802.1v2M343.1 800.6v2M344.6 799.1v2M346.1 797.6v2M346.1 977.8v2M347.6 796.1v2M347.6 979.3v2M349.1 794.6v2M349.1 980.8v2M350.6 793.1v2M350.6 982.3v2M352.1 791.6v2M352.1 983.8v2M353.6 790.1v2M355.1 788.6v2"/>
<path stroke="#0001ff" d="M77.3 995.8v2M78.8 994.3v2M80.3 992.8v2M81.8 991.3v2M83.3 785.6v2M83.3 989.8v2M84.8 787.1v2M84.8 988.3v2M86.3 788.6v2M87.8 790.1v2M105.8 809.6v2M107.3 811.1v2M108.8 812.6v2M110.3 814.1v2M111.8 815.6v2M111.8 959.8v2M113.3 958.3v2M114.8 956.8v2M116.3 821.6v2M116.3 953.8v2M117.8 823.1v2M117.8 952.3v2M119.3 826.1v2M119.3 949.3v2M120.8 829.1v2M120.8 946.3v2M122.3 832.1v5M122.3 940.3v5M123.8 838.1v11M123.8 928.2v11M125.3 859.2v59.1M209.4 1015.3v6.3M210.9 1013.8v7.8M212.4 1012.3v9.3M213.9 1012.3v9.3M215.4 1012.3v9.3M216.9 755.8v1.8M216.9 1012.3v9.3M218.4 755.8v4.8M218.4 1012.3v9.3M219.9 755.8v7.8M219.9 1012.3v9.3M221.5 755.8v9.3M221.5 1013.8v7.8M223 755.8v9.3M223 1016.8v4.8M224.5 755.8v9.3M224.5 1019.8v1.8M226 755.8v9.3M227.5 755.8v9.3M229 755.8v9.3M230.5 755.8v7.8M232 755.8v6.3M316.1 859.2v59.1M317.6 838.1v11M317.6 928.2v11M319.1 832.1v5M319.1 940.3v5M320.6 829.1v2M320.6 946.3v2M322.1 826.1v2M322.1 949.3v2M323.6 823.1v2M323.6 952.3v2M325.1 821.6v2M325.1 953.8v2M326.6 818.6v2M328.1 817.1v2M329.6 815.6v2M329.6 959.8v2M331.1 961.3v2M332.6 962.8v2M334.1 964.3v2M335.6 965.8v2M353.6 985.3v2M355.1 986.8v2M356.6 787.1v2M356.6 988.3v2M358.1 785.6v2M358.1 989.8v2M359.6 784.1v2M361.1 782.6v2M362.6 781.1v2M364.1 779.6v2"/>
<path stroke="#000cff" d="M69.8 1003.3v2M71.3 1001.8v2M72.8 1000.3v2M74.3 998.8v2M75.8 778.1v2M75.8 997.3v2M77.3 779.6v2M78.8 781.1v2M80.3 782.6v2M81.8 784.1v2M98.3 802.1v2M99.8 803.6v2M101.3 805.1v2M102.8 806.6v2M104.3 808.1v2M105.8 965.8v2M107.3 964.3v2M108.8 962.8v2M110.3 961.3v2M111.8 817.1v2M113.3 818.6v2M114.8 820.1v2M114.8 955.3v2M116.3 823.1v2M117.8 824.6v3.5M117.8 950.8v2M119.3 827.6v3.5M119.3 946.3v3.5M120.8 830.6v5M120.8 941.8v5M122.3 836.6v8M122.3 932.8v8M123.8 848.7v80.1M317.6 848.7v80.1M319.1 836.6v8M319.1 932.8v8M320.6 830.6v5M320.6 941.8v5M322.1 827.6v3.5M322.1 946.3v3.5M323.6 824.6v2M323.6 949.3v3.5M325.1 952.3v2M326.6 820.1v2M326.6 955.3v2M328.1 956.8v2M329.6 958.3v2M331.1 814.1v2M332.6 812.6v2M334.1 811.1v2M335.6 809.6v2M337.1 967.3v2M338.6 968.8v2M340.1 970.3v2M341.6 971.8v2M343.1 973.3v2M359.6 991.3v2M361.1 992.8v2M362.6 994.3v2M364.1 995.8v2M365.6 778.1v2M365.6 997.3v2M367.1 776.6v2M368.6 775.1v2M370.1 773.6v2M371.6 772.1v2"/>
<path stroke="#0017ff" d="M66.8 769.1v2M66.8 1006.3v2M68.3 770.6v2M68.3 1004.8v2M69.8 772.1v2M71.3 773.6v2M72.8 775.1v2M74.3 776.6v2M93.8 797.6v2M95.3 799.1v2M95.3 976.3v2M96.8 800.6v2M96.8 974.8v2M98.3 973.3v2M99.8 971.8v2M101.3 970.3v2M102.8 968.8v2M104.3 967.3v2M107.3 812.6v2M108.8 814.1v2M110.3 815.6v2M111.8 958.3v2M113.3 820.1v2M113.3 956.8v2M114.8 821.6v2M114.8 953.8v2M116.3 824.6v2M116.3 950.8v3.5M117.8 827.6v2M117.8 947.8v3.5M119.3 830.6v3.5M119.3 943.3v3.5M120.8 835.1v6.5M120.8 935.8v6.5M122.3 844.1v89.1M319.1 844.1v89.1M320.6 835.1v6.5M320.6 935.8v6.5M322.1 830.6v3.5M322.1 943.3v3.5M323.6 826.1v3.5M323.6 947.8v2M325.1 823.1v3.5M325.1 950.8v2M326.6 821.6v2M326.6 953.8v2M328.1 818.6v2M328.1 955.3v2M329.6 817.1v2M331.1 959.8v2M332.6 961.3v2M334.1 962.8v2M337.1 808.1v2M338.6 806.6v2M340.1 805.1v2M341.6 803.6v2M343.1 802.1v2M344.6 800.6v2M344.6 974.8v2M346.1 799.1v2M346.1 976.3v2M347.6 977.8v2M367.1 998.8v2M368.6 1000.3v2M370.1 1001.8v2M371.6 1003.3v2M373.1 770.6v2M373.1 1004.8v2M374.6 769.1v2M374.6 1006.3v2"/>
<path stroke="#0022ff" d="M87.8 983.8v2M89.3 793.1v2M89.3 982.3v2M90.8 794.6v2M90.8 980.8v2M92.3 796.1v2M92.3 979.3v2M93.8 977.8v2M102.8 808.1v2M104.3 809.6v2M105.8 811.1v2M105.8 964.3v2M107.3 962.8v2M108.8 961.3v2M110.3 959.8v2M111.8 818.6v2M113.3 955.3v2M114.8 823.1v2M114.8 952.3v2M116.3 826.1v2M116.3 949.3v2M117.8 829.1v3.5M117.8 944.8v3.5M119.3 833.6v6.5M119.3 937.3v6.5M120.8 841.1v95.1M320.6 841.1v95.1M322.1 833.6v6.5M322.1 937.3v6.5M323.6 829.1v3.5M323.6 944.8v3.5M325.1 826.1v2M325.1 949.3v2M326.6 823.1v2M326.6 952.3v2M328.1 820.1v2M329.6 956.8v2M331.1 815.6v2M332.6 814.1v2M334.1 812.6v2M335.6 811.1v2M335.6 964.3v2M337.1 965.8v2M338.6 967.3v2M347.6 797.6v2M349.1 796.1v2M349.1 979.3v2M350.6 794.6v2M350.6 980.8v2M352.1 793.1v2M352.1 982.3v2M353.6 791.6v2"/>
<path stroke="#002cff" d="M80.3 991.3v2M81.8 989.8v2M83.3 988.3v2M84.8 788.6v2M84.8 986.8v2M86.3 790.1v2M86.3 985.3v2M87.8 791.6v2M98.3 803.6v2M99.8 805.1v2M101.3 806.6v2M101.3 968.8v2M102.8 967.3v2M104.3 965.8v2M107.3 814.1v2M108.8 815.6v2M108.8 959.8v2M110.3 817.1v2M110.3 958.3v2M111.8 820.1v2M111.8 956.8v2M113.3 821.6v2M113.3 953.8v2M114.8 824.6v2M114.8 950.8v2M116.3 827.6v3.5M116.3 946.3v3.5M117.8 832.1v5M117.8 940.3v5M119.3 839.6v17M119.3 920.7v17M322.1 839.6v17M322.1 920.7v17M323.6 832.1v5M323.6 940.3v5M325.1 827.6v3.5M325.1 946.3v3.5M326.6 824.6v2M326.6 950.8v2M328.1 821.6v2M328.1 953.8v2M329.6 818.6v2M329.6 955.3v2M331.1 817.1v2M331.1 958.3v2M332.6 815.6v2M332.6 959.8v2M334.1 961.3v2M337.1 809.6v2M338.6 808.1v2M340.1 806.6v2M340.1 968.8v2M341.6 970.3v2M343.1 971.8v2M353.6 983.8v2M355.1 790.1v2M355.1 985.3v2M356.6 788.6v2M356.6 986.8v2M358.1 787.1v2M359.6 785.6v2M361.1 784.1v2"/>
<path stroke="#0037ff" d="M75.8 995.8v2M77.3 994.3v2M78.8 782.6v2M78.8 992.8v2M80.3 784.1v2M81.8 785.6v2M83.3 787.1v2M93.8 799.1v2M95.3 800.6v2M95.3 974.8v2M96.8 802.1v2M96.8 973.3v2M98.3 971.8v2M99.8 970.3v2M102.8 809.6v2M104.3 811.1v2M105.8 812.6v2M105.8 962.8v2M107.3 961.3v2M108.8 817.1v2M110.3 818.6v2M110.3 956.8v2M111.8 821.6v2M111.8 955.3v2M113.3 823.1v3.5M113.3 952.3v2M114.8 826.1v3.5M114.8 947.8v3.5M116.3 830.6v5M116.3 941.8v5M117.8 836.6v11M117.8 929.7v11M119.3 856.2v65.1M322.1 856.2v65.1M323.6 836.6v11M323.6 929.7v11M325.1 830.6v5M325.1 941.8v5M326.6 826.1v3.5M326.6 947.8v3.5M328.1 823.1v2M328.1 950.8v3.5M329.6 820.1v2M329.6 953.8v2M331.1 818.6v2M331.1 956.8v2M332.6 958.3v2M334.1 814.1v2M335.6 812.6v2M335.6 962.8v2M337.1 964.3v2M338.6 965.8v2M341.6 805.1v2M343.1 803.6v2M344.6 802.1v2M344.6 973.3v2M346.1 800.6v2M346.1 974.8v2M347.6 976.3v2M358.1 988.3v2M359.6 989.8v2M361.1 991.3v2M362.6 782.6v2M362.6 992.8v2M364.1 781.1v2M365.6 779.6v2"/>
<path stroke="#0042ff" d="M69.8 1001.8v2M71.3 1000.3v2M72.8 998.8v2M74.3 778.1v2M74.3 997.3v2M75.8 779.6v2M77.3 781.1v2M89.3 794.6v2M89.3 980.8v2M90.8 796.1v2M90.8 979.3v2M92.3 797.6v2M92.3 977.8v2M93.8 976.3v2M98.3 805.1v2M99.8 806.6v2M101.3 808.1v2M101.3 967.3v2M102.8 965.8v2M104.3 964.3v2M105.8 814.1v2M107.3 815.6v2M107.3 959.8v2M108.8 958.3v2M110.3 820.1v2M110.3 955.3v2M111.8 823.1v2M111.8 953.8v2M113.3 826.1v2M113.3 949.3v3.5M114.8 829.1v5M114.8 944.8v3.5M116.3 835.1v8M116.3 934.3v8M117.8 847.2v83.1M323.6 847.2v83.1M325.1 835.1v8M325.1 934.3v8M326.6 829.1v3.5M326.6 943.3v5M328.1 824.6v3.5M328.1 949.3v2M329.6 821.6v2M329.6 952.3v2M331.1 820.1v2M331.1 955.3v2M332.6 817.1v2M334.1 815.6v2M334.1 959.8v2M335.6 961.3v2M337.1 811.1v2M338.6 809.6v2M340.1 808.1v2M340.1 967.3v2M341.6 968.8v2M343.1 970.3v2M347.6 799.1v2M349.1 797.6v2M349.1 977.8v2M350.6 796.1v2M350.6 979.3v2M352.1 794.6v2M352.1 980.8v2M364.1 994.3v2M365.6 995.8v2M367.1 778.1v2M367.1 997.3v2M368.6 776.6v2M370.1 775.1v2M371.6 773.6v2"/>
<path stroke="#004dff" d="M66.8 770.6v2M66.8 1004.8v2M68.3 772.1v2M68.3 1003.3v2M69.8 773.6v2M71.3 775.1v2M72.8 776.6v2M84.8 985.3v2M86.3 791.6v2M86.3 983.8v2M87.8 793.1v2M87.8 982.3v2M95.3 802.1v2M96.8 803.6v2M96.8 971.8v2M98.3 970.3v2M99.8 968.8v2M101.3 809.6v2M102.8 811.1v2M104.3 812.6v2M104.3 962.8v2M105.8 815.6v2M105.8 961.3v2M107.3 817.1v2M107.3 958.3v2M108.8 818.6v2M108.8 956.8v2M110.3 821.6v2M110.3 953.8v2M111.8 824.6v2M111.8 950.8v3.5M113.3 827.6v3.5M113.3 946.3v3.5M114.8 833.6v6.5M114.8 937.3v8M116.3 842.6v92.1M325.1 842.6v92.1M326.6 832.1v8M326.6 937.3v6.5M328.1 827.6v3.5M328.1 946.3v3.5M329.6 823.1v3.5M329.6 950.8v2M331.1 821.6v2M331.1 953.8v2M332.6 818.6v2M332.6 956.8v2M334.1 817.1v2M334.1 958.3v2M335.6 814.1v2M335.6 959.8v2M337.1 812.6v2M337.1 962.8v2M338.6 964.3v2M340.1 965.8v2M341.6 806.6v2M343.1 805.1v2M344.6 803.6v2M344.6 971.8v2M346.1 973.3v2M353.6 793.1v2M353.6 982.3v2M355.1 791.6v2M355.1 983.8v2M356.6 790.1v2M368.6 998.8v2M370.1 1000.3v2M371.6 1001.8v2M373.1 772.1v2M373.1 1003.3v2M374.6 770.6v2M374.6 1004.8v2"/>
<path stroke="#0057ff" d="M80.3 989.8v2M81.8 787.1v2M81.8 988.3v2M83.3 788.6v2M83.3 986.8v2M84.8 790.1v2M92.3 799.1v2M92.3 976.3v2M93.8 800.6v2M93.8 974.8v2M95.3 973.3v2M98.3 806.6v2M99.8 808.1v2M99.8 967.3v2M101.3 965.8v2M102.8 812.6v2M102.8 964.3v2M104.3 814.1v2M104.3 961.3v2M105.8 959.8v2M107.3 818.6v2M107.3 956.8v2M108.8 820.1v3.5M108.8 955.3v2M110.3 823.1v3.5M110.3 952.3v2M111.8 826.1v3.5M111.8 947.8v3.5M113.3 830.6v6.5M113.3 940.3v6.5M114.8 839.6v98.1M326.6 839.6v98.1M328.1 830.6v6.5M328.1 940.3v6.5M329.6 826.1v3.5M329.6 947.8v3.5M331.1 823.1v2M331.1 950.8v3.5M332.6 820.1v2M332.6 953.8v3.5M334.1 818.6v2M334.1 956.8v2M335.6 815.6v2M337.1 814.1v2M337.1 961.3v2M338.6 811.1v2M338.6 962.8v2M340.1 809.6v2M341.6 808.1v2M341.6 967.3v2M343.1 968.8v2M346.1 802.1v2M347.6 800.6v2M347.6 974.8v2M349.1 799.1v2M349.1 976.3v2M356.6 985.3v2M358.1 788.6v2M358.1 986.8v2M359.6 787.1v2M359.6 988.3v2M361.1 785.6v2"/>
<path stroke="#0062ff" d="M75.8 994.3v2M77.3 782.6v2M77.3 992.8v2M78.8 784.1v2M78.8 991.3v2M80.3 785.6v2M87.8 980.8v2M89.3 796.1v2M89.3 979.3v2M90.8 797.6v2M90.8 977.8v2M95.3 803.6v2M96.8 805.1v2M96.8 970.3v2M98.3 968.8v2M99.8 809.6v2M101.3 811.1v2M101.3 964.3v2M102.8 962.8v2M104.3 815.6v2M104.3 959.8v2M105.8 817.1v3.5M105.8 958.3v2M107.3 820.1v2M107.3 955.3v2M108.8 823.1v2M108.8 952.3v3.5M110.3 826.1v2M110.3 949.3v3.5M111.8 829.1v5M111.8 943.3v5M113.3 836.6v15.5M113.3 925.2v15.5M328.1 836.6v15.5M328.1 925.2v15.5M329.6 829.1v5M329.6 943.3v5M331.1 824.6v3.5M331.1 949.3v2M332.6 821.6v3.5M332.6 952.3v2M334.1 820.1v2M334.1 955.3v2M335.6 817.1v2M335.6 956.8v3.5M337.1 815.6v2M337.1 959.8v2M338.6 812.6v2M340.1 811.1v2M340.1 964.3v2M341.6 965.8v2M343.1 806.6v2M344.6 805.1v2M344.6 970.3v2M346.1 971.8v2M350.6 797.6v2M350.6 977.8v2M352.1 796.1v2M352.1 979.3v2M353.6 794.6v2M361.1 989.8v2M362.6 784.1v2M362.6 991.3v2M364.1 782.6v2M364.1 992.8v2M365.6 781.1v2"/>
<path stroke="#006dff" d="M71.3 998.8v2M72.8 778.1v2M72.8 997.3v2M74.3 779.6v2M74.3 995.8v2M75.8 781.1v2M84.8 791.6v2M84.8 983.8v2M86.3 793.1v2M86.3 982.3v2M87.8 794.6v2M92.3 800.6v2M93.8 802.1v2M93.8 973.3v2M95.3 971.8v2M96.8 806.6v2M98.3 808.1v2M98.3 967.3v2M99.8 965.8v2M101.3 812.6v2M102.8 814.1v2M102.8 961.3v2M104.3 817.1v2M104.3 958.3v2M105.8 820.1v2M105.8 956.8v2M107.3 821.6v3.5M107.3 952.3v3.5M108.8 824.6v3.5M108.8 949.3v3.5M110.3 827.6v5M110.3 944.8v5M111.8 833.6v11M111.8 932.8v11M113.3 851.7v74.1M328.1 851.7v74.1M329.6 833.6v11M329.6 932.8v11M331.1 827.6v5M331.1 944.8v5M332.6 824.6v3.5M332.6 949.3v3.5M334.1 821.6v3.5M334.1 952.3v3.5M335.6 818.6v2M335.6 955.3v2M337.1 817.1v2M337.1 958.3v2M338.6 814.1v2M338.6 961.3v2M340.1 962.8v2M341.6 809.6v2M343.1 808.1v2M343.1 967.3v2M344.6 968.8v2M346.1 803.6v2M347.6 802.1v2M347.6 973.3v2M349.1 974.8v2M353.6 980.8v2M355.1 793.1v2M355.1 982.3v2M356.6 791.6v2M356.6 983.8v2M365.6 994.3v2M367.1 779.6v2M367.1 995.8v2M368.6 778.1v2M368.6 997.3v2M370.1 776.6v2"/>
<path stroke="#0077ff" d="M66.8 1003.3v2M68.3 773.6v2M68.3 1001.8v2M69.8 775.1v2M69.8 1000.3v2M71.3 776.6v2M80.3 988.3v2M81.8 788.6v2M81.8 986.8v2M83.3 790.1v2M83.3 985.3v2M89.3 797.6v2M89.3 977.8v2M90.8 799.1v2M90.8 976.3v2M92.3 974.8v2M93.8 803.6v2M95.3 805.1v2M95.3 970.3v2M96.8 968.8v2M98.3 809.6v2M99.8 811.1v2M99.8 964.3v2M101.3 814.1v2M101.3 962.8v2M102.8 815.6v3.5M102.8 959.8v2M104.3 818.6v2M104.3 956.8v2M105.8 821.6v3.5M105.8 953.8v3.5M107.3 824.6v3.5M107.3 949.3v3.5M108.8 827.6v5M108.8 944.8v5M110.3 832.1v9.5M110.3 935.8v9.5M111.8 844.1v89.1M329.6 844.1v89.1M331.1 832.1v9.5M331.1 935.8v9.5M332.6 827.6v5M332.6 944.8v5M334.1 824.6v3.5M334.1 949.3v3.5M335.6 820.1v3.5M335.6 952.3v3.5M337.1 818.6v2M337.1 956.8v2M338.6 815.6v2M338.6 958.3v3.5M340.1 812.6v2M340.1 961.3v2M341.6 811.1v2M341.6 964.3v2M343.1 965.8v2M344.6 806.6v2M346.1 805.1v2M346.1 970.3v2M347.6 971.8v2M349.1 800.6v2M350.6 799.1v2M350.6 976.3v2M352.1 797.6v2M352.1 977.8v2M358.1 790.1v2M358.1 985.3v2M359.6 788.6v2M359.6 986.8v2M361.1 787.1v2M370.1 998.8v2M371.6 775.1v2M371.6 1000.3v2M373.1 773.6v2M373.1 1001.8v2M374.6 772.1v2"/>
<path stroke="#0082ff" d="M66.8 772.1v2M77.3 991.3v2M78.8 785.6v2M78.8 989.8v2M80.3 787.1v2M86.3 794.6v2M86.3 980.8v2M87.8 796.1v2M87.8 979.3v2M92.3 802.1v2M92.3 973.3v2M93.8 971.8v2M95.3 806.6v2M96.8 808.1v2M96.8 967.3v2M98.3 811.1v2M98.3 965.8v2M99.8 812.6v2M99.8 962.8v2M101.3 815.6v2M101.3 959.8v3.5M102.8 818.6v2M102.8 956.8v3.5M104.3 820.1v3.5M104.3 953.8v3.5M105.8 824.6v3.5M105.8 949.3v5M107.3 827.6v6.5M107.3 943.3v6.5M108.8 832.1v14M108.8 931.2v14M110.3 841.1v95.1M331.1 841.1v95.1M332.6 832.1v14M332.6 931.2v14M334.1 827.6v6.5M334.1 943.3v6.5M335.6 823.1v5M335.6 949.3v3.5M337.1 820.1v3.5M337.1 953.8v3.5M338.6 817.1v3.5M338.6 956.8v2M340.1 814.1v3.5M340.1 959.8v2M341.6 812.6v2M341.6 962.8v2M343.1 809.6v2M343.1 964.3v2M344.6 808.1v2M344.6 967.3v2M346.1 968.8v2M347.6 803.6v2M349.1 802.1v2M349.1 973.3v2M353.6 796.1v2M353.6 979.3v2M355.1 794.6v2M355.1 980.8v2M361.1 988.3v2M362.6 785.6v2M362.6 989.8v2M364.1 784.1v2M374.6 1003.3v2"/>
<path stroke="#008dff" d="M72.8 995.8v2M74.3 781.1v2M74.3 994.3v2M75.8 782.6v2M75.8 992.8v2M77.3 784.1v2M81.8 985.3v2M83.3 791.6v2M83.3 983.8v2M84.8 793.1v2M84.8 982.3v2M89.3 799.1v2M89.3 976.3v2M90.8 800.6v2M90.8 974.8v2M93.8 805.1v2M93.8 970.3v2M95.3 968.8v2M96.8 809.6v2M96.8 965.8v2M98.3 812.6v2M98.3 964.3v2M99.8 814.1v3.5M99.8 961.3v2M101.3 817.1v3.5M101.3 958.3v2M102.8 820.1v3.5M102.8 953.8v3.5M104.3 823.1v5M104.3 949.3v5M105.8 827.6v6.5M105.8 943.3v6.5M107.3 833.6v20M107.3 923.7v20M108.8 845.7v86.1M332.6 845.7v86.1M334.1 833.6v20M334.1 923.7v20M335.6 827.6v6.5M335.6 943.3v6.5M337.1 823.1v5M337.1 949.3v5M338.6 820.1v3.5M338.6 953.8v3.5M340.1 817.1v2M340.1 956.8v3.5M341.6 814.1v2M341.6 959.8v3.5M343.1 811.1v2M343.1 962.8v2M344.6 809.6v2M344.6 965.8v2M346.1 806.6v2M347.6 805.1v2M347.6 970.3v2M350.6 800.6v2M350.6 974.8v2M352.1 799.1v2M352.1 976.3v2M356.6 793.1v2M356.6 982.3v2M358.1 791.6v2M358.1 983.8v2M359.6 790.1v2M364.1 991.3v2M365.6 782.6v2M365.6 992.8v2M367.1 781.1v2M367.1 994.3v2M368.6 779.6v2"/>
<path stroke="#0098ff" d="M69.8 998.8v2M71.3 778.1v2M71.3 997.3v2M72.8 779.6v2M78.8 988.3v2M80.3 788.6v2M80.3 986.8v2M81.8 790.1v2M86.3 796.1v2M86.3 979.3v2M87.8 797.6v2M87.8 977.8v2M90.8 802.1v2M90.8 973.3v2M92.3 803.6v2M92.3 971.8v2M93.8 806.6v2M93.8 968.8v2M95.3 808.1v2M95.3 967.3v2M96.8 811.1v2M96.8 964.3v2M98.3 814.1v2M98.3 961.3v3.5M99.8 817.1v2M99.8 958.3v3.5M101.3 820.1v3.5M101.3 955.3v3.5M102.8 823.1v5M102.8 949.3v5M104.3 827.6v8M104.3 941.8v8M105.8 833.6v110.1M107.3 853.2v71.1M334.1 853.2v71.1M335.6 833.6v110.1M337.1 827.6v8M337.1 941.8v8M338.6 823.1v5M338.6 949.3v5M340.1 818.6v3.5M340.1 953.8v3.5M341.6 815.6v3.5M341.6 958.3v2M343.1 812.6v3.5M343.1 961.3v2M344.6 811.1v2M344.6 964.3v2M346.1 808.1v2M346.1 967.3v2M347.6 806.6v2M347.6 968.8v2M349.1 803.6v2M349.1 971.8v2M350.6 802.1v2M350.6 973.3v2M353.6 797.6v2M353.6 977.8v2M355.1 796.1v2M355.1 979.3v2M359.6 985.3v2M361.1 788.6v2M361.1 986.8v2M362.6 787.1v2M368.6 995.8v2M370.1 778.1v2M370.1 997.3v2M371.6 776.6v2"/>
<path stroke="#00a2ff" d="M66.8 773.6v2M66.8 1001.8v2M68.3 775.1v2M68.3 1000.3v2M69.8 776.6v2M75.8 991.3v2M77.3 785.6v2M77.3 989.8v2M78.8 787.1v2M83.3 793.1v2M83.3 982.3v2M84.8 794.6v2M84.8 980.8v2M87.8 799.1v2M87.8 976.3v2M89.3 800.6v2M89.3 974.8v2M90.8 803.6v2M92.3 805.1v2M92.3 970.3v2M93.8 808.1v2M93.8 967.3v2M95.3 809.6v3.5M95.3 965.8v2M96.8 812.6v3.5M96.8 962.8v2M98.3 815.6v3.5M98.3 958.3v3.5M99.8 818.6v5M99.8 955.3v3.5M101.3 823.1v5M101.3 949.3v6.5M102.8 827.6v11M102.8 938.8v11M104.3 835.1v107.1M337.1 835.1v107.1M338.6 827.6v11M338.6 938.8v11M340.1 821.6v6.5M340.1 949.3v5M341.6 818.6v3.5M341.6 953.8v5M343.1 815.6v3.5M343.1 958.3v3.5M344.6 812.6v2M344.6 961.3v3.5M346.1 809.6v2M346.1 964.3v3.5M347.6 808.1v2M347.6 967.3v2M349.1 805.1v2M349.1 970.3v2M350.6 971.8v2M352.1 800.6v2M352.1 974.8v2M353.6 799.1v2M353.6 976.3v2M356.6 794.6v2M356.6 980.8v2M358.1 793.1v2M358.1 982.3v2M362.6 988.3v2M364.1 785.6v2M364.1 989.8v2M365.6 784.1v2M371.6 998.8v2M373.1 775.1v2M373.1 1000.3v2M374.6 773.6v2M374.6 1001.8v2"/>
<path stroke="#00adff" d="M72.8 994.3v2M74.3 782.6v2M74.3 992.8v2M75.8 784.1v2M80.3 790.1v2M80.3 985.3v2M81.8 791.6v2M81.8 983.8v2M84.8 796.1v2M84.8 979.3v2M86.3 797.6v2M86.3 977.8v2M89.3 802.1v2M89.3 973.3v2M90.8 805.1v2M90.8 971.8v2M92.3 806.6v2M92.3 968.8v2M93.8 809.6v2M93.8 965.8v2M95.3 812.6v2M95.3 962.8v3.5M96.8 815.6v2M96.8 959.8v3.5M98.3 818.6v3.5M98.3 955.3v3.5M99.8 823.1v5M99.8 949.3v6.5M101.3 827.6v15.5M101.3 934.3v15.5M102.8 838.1v101.1M338.6 838.1v101.1M340.1 827.6v15.5M340.1 934.3v15.5M341.6 821.6v6.5M341.6 949.3v5M343.1 818.6v3.5M343.1 955.3v3.5M344.6 814.1v3.5M344.6 959.8v2M346.1 811.1v3.5M346.1 962.8v2M347.6 809.6v2M347.6 965.8v2M349.1 806.6v2M349.1 968.8v2M350.6 803.6v2M350.6 970.3v2M352.1 802.1v2M352.1 973.3v2M355.1 797.6v2M355.1 977.8v2M356.6 796.1v2M356.6 979.3v2M359.6 791.6v2M359.6 983.8v2M361.1 790.1v2M361.1 985.3v2M365.6 991.3v2M367.1 782.6v2M367.1 992.8v2M368.6 781.1v2"/>
<path stroke="#00b8ff" d="M69.8 778.1v2M69.8 997.3v2M71.3 779.6v2M71.3 995.8v2M72.8 781.1v2M77.3 787.1v2M77.3 988.3v2M78.8 788.6v2M78.8 986.8v2M81.8 982.3v2M83.3 794.6v2M83.3 980.8v2M86.3 799.1v2M86.3 976.3v2M87.8 800.6v2M87.8 974.8v2M89.3 803.6v2M89.3 971.8v2M90.8 806.6v2M90.8 970.3v2M92.3 808.1v3.5M92.3 967.3v2M93.8 811.1v3.5M93.8 964.3v2M95.3 814.1v3.5M95.3 959.8v3.5M96.8 817.1v5M96.8 955.3v5M98.3 821.6v8M98.3 947.8v8M99.8 827.6v39.5M99.8 908.7v41M101.3 842.6v92.1M340.1 842.6v92.1M341.6 827.6v41M341.6 910.2v39.5M343.1 821.6v8M343.1 947.8v8M344.6 817.1v5M344.6 955.3v5M346.1 814.1v3.5M346.1 959.8v3.5M347.6 811.1v2M347.6 962.8v3.5M349.1 808.1v2M349.1 965.8v3.5M350.6 805.1v2M350.6 968.8v2M352.1 803.6v2M352.1 971.8v2M353.6 800.6v2M353.6 974.8v2M355.1 799.1v2M355.1 976.3v2M358.1 794.6v2M358.1 980.8v2M359.6 793.1v2M362.6 788.6v2M362.6 986.8v2M364.1 787.1v2M364.1 988.3v2M368.6 994.3v2M370.1 779.6v2M370.1 995.8v2M371.6 778.1v2M371.6 997.3v2"/>
<path stroke="#00c3ff" d="M66.8 775.1v2M66.8 1000.3v2M68.3 776.6v2M68.3 998.8v2M74.3 784.1v2M74.3 991.3v2M75.8 785.6v2M75.8 989.8v2M78.8 985.3v2M80.3 791.6v2M80.3 983.8v2M81.8 793.1v2M83.3 796.1v2M83.3 979.3v2M84.8 797.6v2M84.8 977.8v2M86.3 800.6v2M86.3 974.8v2M87.8 802.1v2M87.8 973.3v2M89.3 805.1v2M89.3 970.3v2M90.8 808.1v2M90.8 967.3v3.5M92.3 811.1v2M92.3 964.3v3.5M93.8 814.1v3.5M93.8 959.8v5M95.3 817.1v5M95.3 955.3v5M96.8 821.6v9.5M96.8 946.3v9.5M98.3 829.1v119.1M99.8 866.7v42.5M341.6 868.2v42.5M343.1 829.1v119.1M344.6 821.6v9.5M344.6 946.3v9.5M346.1 817.1v5M346.1 955.3v5M347.6 812.6v5M347.6 959.8v3.5M349.1 809.6v3.5M349.1 964.3v2M350.6 806.6v3.5M350.6 967.3v2M352.1 805.1v2M352.1 970.3v2M353.6 802.1v2M353.6 973.3v2M355.1 800.6v2M355.1 974.8v2M356.6 797.6v2M356.6 977.8v2M358.1 796.1v2M358.1 979.3v2M359.6 982.3v2M361.1 791.6v2M361.1 983.8v2M362.6 790.1v2M365.6 785.6v2M365.6 989.8v2M367.1 784.1v2M367.1 991.3v2M373.1 776.6v2M373.1 998.8v2M374.6 775.1v2M374.6 1000.3v2"/>
<path stroke="#00cdff" d="M71.3 781.1v2M71.3 994.3v2M72.8 782.6v2M72.8 992.8v2M77.3 788.6v2M77.3 986.8v2M78.8 790.1v2M80.3 982.3v2M81.8 794.6v2M81.8 980.8v2M84.8 799.1v2M84.8 976.3v2M86.3 802.1v2M86.3 973.3v2M87.8 803.6v2M87.8 971.8v2M89.3 806.6v3.5M89.3 968.8v2M90.8 809.6v3.5M90.8 964.3v3.5M92.3 812.6v5M92.3 961.3v3.5M93.8 817.1v6.5M93.8 955.3v5M95.3 821.6v12.5M95.3 943.3v12.5M96.8 830.6v116.1M344.6 830.6v116.1M346.1 821.6v12.5M346.1 943.3v12.5M347.6 817.1v5M347.6 953.8v6.5M349.1 812.6v3.5M349.1 959.8v5M350.6 809.6v3.5M350.6 964.3v3.5M352.1 806.6v2M352.1 967.3v3.5M353.6 803.6v2M353.6 971.8v2M355.1 802.1v2M355.1 973.3v2M356.6 799.1v2M356.6 976.3v2M359.6 794.6v2M359.6 980.8v2M361.1 793.1v2M362.6 985.3v2M364.1 788.6v2M364.1 986.8v2M368.6 782.6v2M368.6 992.8v2M370.1 781.1v2M370.1 994.3v2"/>
<path stroke="#00d8ff" d="M68.3 778.1v2M68.3 997.3v2M69.8 779.6v2M69.8 995.8v2M74.3 785.6v2M74.3 989.8v2M75.8 787.1v2M75.8 988.3v2M78.8 791.6v2M78.8 983.8v2M80.3 793.1v2M81.8 796.1v2M81.8 979.3v2M83.3 797.6v2M83.3 977.8v2M84.8 800.6v2M84.8 974.8v2M86.3 803.6v2M86.3 971.8v2M87.8 805.1v3.5M87.8 968.8v3.5M89.3 809.6v2M89.3 965.8v3.5M90.8 812.6v5M90.8 961.3v3.5M92.3 817.1v6.5M92.3 953.8v8M93.8 823.1v18.5M93.8 935.8v20M95.3 833.6v110.1M346.1 833.6v110.1M347.6 821.6v20M347.6 935.8v18.5M349.1 815.6v8M349.1 953.8v6.5M350.6 812.6v3.5M350.6 959.8v5M352.1 808.1v3.5M352.1 965.8v2M353.6 805.1v3.5M353.6 968.8v3.5M355.1 803.6v2M355.1 971.8v2M356.6 800.6v2M356.6 974.8v2M358.1 797.6v2M358.1 977.8v2M359.6 796.1v2M359.6 979.3v2M361.1 982.3v2M362.6 791.6v2M362.6 983.8v2M365.6 787.1v2M365.6 988.3v2M367.1 785.6v2M367.1 989.8v2M371.6 779.6v2M371.6 995.8v2M373.1 778.1v2M373.1 997.3v2"/>
<path stroke="#00e3ff" d="M66.8 776.6v2M66.8 998.8v2M71.3 782.6v2M71.3 992.8v2M72.8 784.1v2M72.8 991.3v2M75.8 788.6v2M75.8 986.8v2M77.3 790.1v2M77.3 985.3v2M78.8 793.1v2M78.8 982.3v2M80.3 794.6v2M80.3 980.8v2M81.8 797.6v2M81.8 977.8v2M83.3 799.1v3.5M83.3 974.8v3.5M84.8 802.1v3.5M84.8 973.3v2M86.3 805.1v3.5M86.3 968.8v3.5M87.8 808.1v3.5M87.8 965.8v3.5M89.3 811.1v5M89.3 961.3v5M90.8 817.1v8M90.8 953.8v8M92.3 823.1v131.1M93.8 841.1v95.1M347.6 841.1v95.1M349.1 823.1v131.1M350.6 815.6v8M350.6 952.3v8M352.1 811.1v5M352.1 961.3v5M353.6 808.1v3.5M353.6 965.8v3.5M355.1 805.1v3.5M355.1 968.8v3.5M356.6 802.1v2M356.6 971.8v3.5M358.1 799.1v3.5M358.1 974.8v3.5M359.6 797.6v2M359.6 977.8v2M361.1 794.6v2M361.1 980.8v2M362.6 793.1v2M362.6 982.3v2M364.1 790.1v2M364.1 985.3v2M365.6 788.6v2M365.6 986.8v2M368.6 784.1v2M368.6 991.3v2M370.1 782.6v2M370.1 992.8v2M374.6 776.6v2M374.6 998.8v2"/>
<path stroke="#00eeff" d="M68.3 779.6v2M68.3 995.8v2M69.8 781.1v2M69.8 994.3v2M72.8 785.6v2M72.8 989.8v2M74.3 787.1v2M74.3 988.3v2M75.8 985.3v2M77.3 791.6v2M77.3 983.8v2M78.8 794.6v2M78.8 980.8v2M80.3 796.1v2M80.3 979.3v2M81.8 799.1v2M81.8 976.3v2M83.3 802.1v2M83.3 973.3v2M84.8 805.1v2M84.8 970.3v3.5M86.3 808.1v3.5M86.3 965.8v3.5M87.8 811.1v6.5M87.8 961.3v5M89.3 815.6v11M89.3 950.8v11M90.8 824.6v129.6M350.6 823.1v129.6M352.1 815.6v11M352.1 950.8v11M353.6 811.1v5M353.6 959.8v6.5M355.1 808.1v3.5M355.1 965.8v3.5M356.6 803.6v3.5M356.6 970.3v2M358.1 802.1v2M358.1 973.3v2M359.6 799.1v2M359.6 976.3v2M361.1 796.1v2M361.1 979.3v2M362.6 794.6v2M362.6 980.8v2M364.1 791.6v2M364.1 983.8v2M365.6 790.1v2M367.1 787.1v2M367.1 988.3v2M368.6 785.6v2M368.6 989.8v2M371.6 781.1v2M371.6 994.3v2M373.1 779.6v2M373.1 995.8v2"/>
<path stroke="#00f8ff" d="M66.8 778.1v2M66.8 997.3v2M69.8 782.6v2M69.8 992.8v2M71.3 784.1v2M71.3 991.3v2M74.3 788.6v2M74.3 986.8v2M75.8 790.1v2M77.3 793.1v2M77.3 982.3v2M78.8 796.1v2M78.8 979.3v2M80.3 797.6v3.5M80.3 976.3v3.5M81.8 800.6v3.5M81.8 973.3v3.5M83.3 803.6v3.5M83.3 970.3v3.5M84.8 806.6v5M84.8 965.8v5M86.3 811.1v6.5M86.3 959.8v6.5M87.8 817.1v14M87.8 946.3v15.5M89.3 826.1v125.1M352.1 826.1v125.1M353.6 815.6v15.5M353.6 946.3v14M355.1 811.1v6.5M355.1 959.8v6.5M356.6 806.6v5M356.6 965.8v5M358.1 803.6v3.5M358.1 970.3v3.5M359.6 800.6v3.5M359.6 973.3v3.5M361.1 797.6v3.5M361.1 976.3v3.5M362.6 796.1v2M362.6 979.3v2M364.1 793.1v2M364.1 982.3v2M365.6 985.3v2M367.1 788.6v2M367.1 986.8v2M370.1 784.1v2M370.1 991.3v2M371.6 782.6v2M371.6 992.8v2M374.6 778.1v2M374.6 997.3v2"/>
<path stroke="#04fffb" d="M66.8 995.8v2M68.3 781.1v2M68.3 994.3v2M71.3 785.6v2M71.3 989.8v2M72.8 787.1v2M72.8 988.3v2M74.3 790.1v2M74.3 985.3v2M75.8 791.6v2M75.8 983.8v2M77.3 794.6v2M77.3 980.8v2M78.8 797.6v2M78.8 977.8v2M80.3 800.6v2M80.3 974.8v2M81.8 803.6v3.5M81.8 970.3v3.5M83.3 806.6v5M83.3 965.8v5M84.8 811.1v8M84.8 958.3v8M86.3 817.1v143.2M87.8 830.6v116.1M353.6 830.6v116.1M355.1 817.1v143.2M356.6 811.1v8M356.6 958.3v8M358.1 806.6v5M358.1 965.8v5M359.6 803.6v3.5M359.6 970.3v3.5M361.1 800.6v2M361.1 974.8v2M362.6 797.6v2M362.6 977.8v2M364.1 794.6v2M364.1 980.8v2M365.6 791.6v2M365.6 983.8v2M367.1 790.1v2M367.1 985.3v2M368.6 787.1v2M368.6 988.3v2M370.1 785.6v2M370.1 989.8v2M373.1 781.1v2M373.1 994.3v2M374.6 779.6v2"/>
<path stroke="#0ffff0" d="M66.8 779.6v2M68.3 782.6v2M68.3 992.8v2M69.8 784.1v2M69.8 991.3v2M71.3 988.3v2M72.8 788.6v2M72.8 986.8v2M74.3 791.6v2M74.3 983.8v2M75.8 793.1v3.5M75.8 980.8v3.5M77.3 796.1v3.5M77.3 977.8v3.5M78.8 799.1v3.5M78.8 974.8v3.5M80.3 802.1v5M80.3 970.3v5M81.8 806.6v5M81.8 965.8v5M83.3 811.1v11M83.3 955.3v11M84.8 818.6v140.2M356.6 818.6v140.2M358.1 811.1v11M358.1 955.3v11M359.6 806.6v5M359.6 965.8v5M361.1 802.1v5M361.1 970.3v5M362.6 799.1v3.5M362.6 974.8v3.5M364.1 796.1v3.5M364.1 977.8v3.5M365.6 793.1v3.5M365.6 980.8v3.5M367.1 791.6v2M367.1 983.8v2M368.6 788.6v2M368.6 986.8v2M370.1 787.1v2M371.6 784.1v2M371.6 991.3v2M373.1 782.6v2M373.1 992.8v2M374.6 995.8v2"/>
<path stroke="#1affe5" d="M66.8 781.1v2M66.8 994.3v2M69.8 785.6v2M69.8 989.8v2M71.3 787.1v2M71.3 986.8v2M72.8 790.1v2M72.8 985.3v2M74.3 793.1v2M74.3 982.3v2M75.8 796.1v2M75.8 979.3v2M77.3 799.1v3.5M77.3 974.8v3.5M78.8 802.1v5M78.8 970.3v5M80.3 806.6v6.5M80.3 964.3v6.5M81.8 811.1v18.5M81.8 949.3v17M83.3 821.6v134.2M358.1 821.6v134.2M359.6 811.1v17M359.6 947.8v18.5M361.1 806.6v6.5M361.1 964.3v6.5M362.6 802.1v5M362.6 970.3v5M364.1 799.1v3.5M364.1 974.8v3.5M365.6 796.1v2M365.6 979.3v2M367.1 793.1v2M367.1 982.3v2M368.6 790.1v2M368.6 985.3v2M370.1 788.6v2M370.1 988.3v2M371.6 785.6v2M371.6 989.8v2M374.6 781.1v2M374.6 994.3v2"/>
<path stroke="#24ffdb" d="M66.8 782.6v2M66.8 992.8v2M68.3 784.1v2M68.3 991.3v2M69.8 787.1v2M69.8 988.3v2M71.3 788.6v3.5M71.3 985.3v2M72.8 791.6v3.5M72.8 982.3v3.5M74.3 794.6v3.5M74.3 979.3v3.5M75.8 797.6v5M75.8 976.3v3.5M77.3 802.1v5M77.3 970.3v5M78.8 806.6v8M78.8 962.8v8M80.3 812.6v152.2M81.8 829.1v120.6M359.6 827.6v120.6M361.1 812.6v152.2M362.6 806.6v8M362.6 962.8v8M364.1 802.1v5M364.1 970.3v5M365.6 797.6v3.5M365.6 974.8v5M367.1 794.6v3.5M367.1 979.3v3.5M368.6 791.6v3.5M368.6 982.3v3.5M370.1 790.1v2M370.1 985.3v3.5M371.6 787.1v2M371.6 988.3v2M373.1 784.1v2M373.1 991.3v2M374.6 782.6v2M374.6 992.8v2"/>
<path stroke="#2fffd0" d="M66.8 784.1v2M66.8 991.3v2M68.3 785.6v2M68.3 989.8v2M69.8 788.6v2M69.8 986.8v2M71.3 791.6v2M71.3 983.8v2M72.8 794.6v3.5M72.8 979.3v3.5M74.3 797.6v3.5M74.3 976.3v3.5M75.8 802.1v5M75.8 970.3v6.5M77.3 806.6v12.5M77.3 958.3v12.5M78.8 814.1v149.2M362.6 814.1v149.2M364.1 806.6v12.5M364.1 958.3v12.5M365.6 800.6v6.5M365.6 970.3v5M367.1 797.6v3.5M367.1 976.3v3.5M368.6 794.6v3.5M368.6 979.3v3.5M370.1 791.6v2M370.1 983.8v2M371.6 788.6v2M371.6 986.8v2M373.1 785.6v2M373.1 989.8v2M374.6 784.1v2M374.6 991.3v2"/>
<path stroke="#3affc5" d="M66.8 785.6v2M66.8 989.8v2M68.3 787.1v3.5M68.3 986.8v3.5M69.8 790.1v3.5M69.8 983.8v3.5M71.3 793.1v3.5M71.3 980.8v3.5M72.8 797.6v5M72.8 976.3v3.5M74.3 800.6v8M74.3 968.8v8M75.8 806.6v23M75.8 947.8v23M77.3 818.6v140.2M364.1 818.6v140.2M365.6 806.6v23M365.6 947.8v23M367.1 800.6v8M367.1 968.8v8M368.6 797.6v3.5M368.6 974.8v5M370.1 793.1v3.5M370.1 980.8v3.5M371.6 790.1v3.5M371.6 983.8v3.5M373.1 787.1v3.5M373.1 986.8v3.5M374.6 785.6v2M374.6 989.8v2"/>
<path stroke="#44ffbb" d="M66.8 787.1v2M66.8 988.3v2M68.3 790.1v3.5M68.3 983.8v3.5M69.8 793.1v3.5M69.8 980.8v3.5M71.3 796.1v6.5M71.3 974.8v6.5M72.8 802.1v9.5M72.8 967.3v9.5M74.3 808.1v161.2M75.8 829.1v119.1M365.6 829.1v119.1M367.1 808.1v161.2M368.6 800.6v9.5M368.6 965.8v9.5M370.1 796.1v6.5M370.1 974.8v6.5M371.6 793.1v3.5M371.6 980.8v3.5M373.1 790.1v3.5M373.1 983.8v3.5M374.6 787.1v2M374.6 988.3v2"/>
<path stroke="#4fffb0" d="M66.8 788.6v3.5M66.8 985.3v3.5M68.3 793.1v3.5M68.3 980.8v3.5M69.8 796.1v6.5M69.8 974.8v6.5M71.3 802.1v14M71.3 961.3v14M72.8 811.1v156.7M368.6 809.6v156.7M370.1 802.1v14M370.1 961.3v14M371.6 796.1v6.5M371.6 974.8v6.5M373.1 793.1v3.5M373.1 980.8v3.5M374.6 788.6v3.5M374.6 985.3v3.5"/>
<path stroke="#5affa5" d="M66.8 791.6v5M66.8 980.8v5M68.3 796.1v8M68.3 973.3v8M69.8 802.1v173.2M71.3 815.6v146.2M370.1 815.6v146.2M371.6 802.1v173.2M373.1 796.1v8M373.1 973.3v8M374.6 791.6v5M374.6 980.8v5"/>
<path stroke="#65ff9a" d="M66.8 796.1v11M66.8 970.3v11M68.3 803.6v170.2M373.1 803.6v170.2M374.6 796.1v11M374.6 970.3v11"/>
<path stroke="#6fff90" d="M66.8 806.6v164.2M374.6 806.6v164.2"/>
</g>
<rect x="491" y="755.8" width="260.9" height="265.8" fill="#0002ff"/>
<g fill="none" stroke-width="2">
<path stroke="#000092" d="M553.2 832.1v2M553.2 943.3v2M554.7 833.6v5M554.7 938.8v5M688.2 833.6v5M688.2 938.8v5M689.7 832.1v2M689.7 943.3v2"/>
<path stroke="#0000a5" d="M550.2 829.1v2M550.2 946.3v2M551.7 829.1v6.5M551.7 941.8v6.5M553.2 830.6v2M553.2 833.6v5M553.2 938.8v5M553.2 944.8v2M554.7 832.1v2M554.7 838.1v2M554.7 937.3v2M554.7 943.3v3.5M688.2 830.6v3.5M688.2 838.1v2M688.2 937.3v2M688.2 943.3v2M689.7 830.6v2M689.7 833.6v5M689.7 938.8v5M689.7 944.8v2M691.2 829.1v6.5M691.2 941.8v6.5M692.7 829.1v2M692.7 946.3v2"/>
<path stroke="#0000b7" d="M547.2 826.1v2M547.2 949.3v2M548.7 826.1v5M548.7 946.3v5M550.2 827.6v2M550.2 830.6v3.5M550.2 943.3v3.5M550.2 947.8v2M551.7 827.6v2M551.7 835.1v2M551.7 940.3v2M551.7 947.8v2M553.2 829.1v2M553.2 838.1v3.5M553.2 937.3v2M553.2 946.3v2M554.7 829.1v3.5M554.7 839.6v5M554.7 932.8v5M554.7 946.3v2M562.2 941.8v2M563.7 941.8v2M679.2 833.6v2M680.7 833.6v2M688.2 829.1v2M688.2 839.6v5M688.2 932.8v5M688.2 944.8v3.5M689.7 829.1v2M689.7 838.1v2M689.7 935.8v3.5M689.7 946.3v2M691.2 827.6v2M691.2 835.1v2M691.2 940.3v2M691.2 947.8v2M692.7 827.6v2M692.7 830.6v3.5M692.7 943.3v3.5M692.7 947.8v2M694.2 826.1v5M694.2 946.3v5M695.7 826.1v2M695.7 949.3v2"/>
<path stroke="#0000ca" d="M491.7 1013.8v6.5M493.2 1012.3v6.5M494.7 1010.8v6.5M496.2 1009.3v5M497.7 1006.3v6.5M499.2 1004.8v6.5M500.7 1003.3v6.5M502.2 1001.8v5M503.7 1000.3v5M505.2 998.8v5M506.7 997.3v5M508.2 995.8v5M509.7 992.8v5M511.2 782.6v2M511.2 991.3v5M512.7 784.1v3.5M512.7 989.8v5M514.2 784.1v5M514.2 988.3v5M515.7 785.6v6.5M515.7 985.3v6.5M517.2 787.1v6.5M517.2 983.8v6.5M518.7 788.6v8M518.7 982.3v6.5M520.2 790.1v8M520.2 980.8v6.5M521.7 793.1v6.5M521.7 979.3v5M523.2 794.6v6.5M523.2 977.8v5M524.7 796.1v8M524.7 974.8v5M526.2 797.6v8M526.2 973.3v5M527.7 800.6v6.5M527.7 971.8v5M529.2 802.1v6.5M529.2 970.3v3.5M530.7 803.6v6.5M530.7 968.8v3.5M532.2 805.1v6.5M532.2 967.3v3.5M533.7 808.1v5M535.2 809.6v5M536.7 812.6v3.5M538.2 815.6v2M539.7 817.1v2M541.2 818.6v3.5M542.7 818.6v5M542.7 953.8v3.5M544.2 820.1v6.5M544.2 952.3v3.5M545.7 821.6v6.5M545.7 949.3v6.5M547.2 823.1v3.5M547.2 827.6v3.5M547.2 946.3v3.5M547.2 950.8v3.5M548.7 824.6v2M548.7 830.6v3.5M548.7 943.3v3.5M548.7 950.8v2M550.2 826.1v2M550.2 833.6v3.5M550.2 940.3v3.5M550.2 949.3v2M551.7 826.1v2M551.7 836.6v5M551.7 935.8v5M551.7 949.3v2M553.2 827.6v2M553.2 841.1v23M553.2 922.2v15.5M553.2 947.8v2M554.7 827.6v2M554.7 844.1v32M554.7 911.7v21.5M554.7 947.8v2M556.2 830.6v116.1M557.7 830.6v117.6M559.2 830.6v117.6M560.7 830.6v117.6M562.2 830.6v111.6M562.2 943.3v5M563.7 830.6v111.6M563.7 943.3v5M565.2 830.6v8M565.2 938.8v9.5M566.7 830.6v8M566.7 938.8v9.5M568.2 832.1v6.5M568.2 938.8v9.5M569.7 832.1v6.5M569.7 938.8v8M571.2 832.1v6.5M571.2 938.8v8M572.7 833.6v5M572.7 938.8v8M574.2 835.1v3.5M574.2 938.8v6.5M575.7 835.1v3.5M575.7 938.8v6.5M577.2 835.1v3.5M577.2 938.8v5M578.7 835.1v3.5M578.7 938.8v3.5M580.2 835.1v3.5M580.2 938.8v3.5M581.7 835.1v3.5M581.7 938.8v3.5M583.2 835.1v3.5M583.2 938.8v3.5M584.7 835.1v3.5M584.7 938.8v3.5M586.2 835.1v3.5M586.2 938.8v3.5M587.7 835.1v3.5M587.7 938.8v3.5M589.2 835.1v3.5M589.2 938.8v3.5M590.7 835.1v3.5M590.7 938.8v3.5M592.2 835.1v3.5M592.2 938.8v5M593.7 835.1v3.5M593.7 938.8v6.5M595.2 833.6v5M595.2 938.8v6.5M596.7 833.6v5M596.7 938.8v6.5M598.2 833.6v5M598.2 938.8v8M599.7 833.6v5M599.7 938.8v8M601.2 833.6v5M601.2 938.8v8M602.7 833.6v5M602.7 938.8v8M604.2 833.6v5M604.2 938.8v6.5M605.7 835.1v3.5M605.7 938.8v6.5M607.2 835.1v3.5M607.2 938.8v6.5M608.7 835.1v3.5M608.7 938.8v5M610.2 835.1v3.5M610.2 938.8v3.5M611.7 835.1v3.5M611.7 938.8v3.5M613.2 835.1v3.5M613.2 938.8v3.5M614.7 835.1v3.5M614.7 938.8v3.5M616.2 835.1v3.5M616.2 938.8v3.5M617.7 835.1v3.5M617.7 938.8v3.5M619.2 835.1v3.5M619.2 938.8v3.5M620.7 835.1v3.5M620.7 938.8v3.5M622.2 835.1v3.5M622.2 938.8v3.5M623.7 835.1v3.5M623.7 938.8v3.5M625.2 835.1v3.5M625.2 938.8v3.5M626.7 835.1v3.5M626.7 938.8v3.5M628.2 835.1v3.5M628.2 938.8v3.5M629.7 835.1v3.5M629.7 938.8v3.5M631.2 835.1v3.5M631.2 938.8v3.5M632.7 835.1v3.5M632.7 938.8v3.5M634.2 833.6v5M634.2 938.8v3.5M635.7 832.1v6.5M635.7 938.8v3.5M637.2 832.1v6.5M637.2 938.8v3.5M638.7 832.1v6.5M638.7 938.8v5M640.2 830.6v8M640.2 938.8v5M641.7 830.6v8M641.7 938.8v5M643.2 830.6v8M643.2 938.8v5M644.7 830.6v8M644.7 938.8v5M646.2 832.1v6.5M646.2 938.8v5M647.7 832.1v6.5M647.7 938.8v5M649.2 832.1v6.5M649.2 938.8v3.5M650.7 833.6v5M650.7 938.8v3.5M652.2 835.1v3.5M652.2 938.8v3.5M653.7 835.1v3.5M653.7 938.8v3.5M655.2 835.1v3.5M655.2 938.8v3.5M656.7 835.1v3.5M656.7 938.8v3.5M658.2 835.1v3.5M658.2 938.8v3.5M659.7 835.1v3.5M659.7 938.8v3.5M661.2 835.1v3.5M661.2 938.8v3.5M662.7 835.1v3.5M662.7 938.8v3.5M664.2 835.1v3.5M664.2 938.8v3.5M665.7 833.6v5M665.7 938.8v3.5M667.2 832.1v6.5M667.2 938.8v3.5M668.7 832.1v6.5M668.7 938.8v3.5M670.2 830.6v8M670.2 938.8v5M671.7 830.6v8M671.7 938.8v6.5M673.2 830.6v8M673.2 938.8v6.5M674.7 829.1v9.5M674.7 938.8v6.5M676.2 829.1v9.5M676.2 938.8v8M677.7 829.1v9.5M677.7 938.8v8M679.2 829.1v5M679.2 835.1v111.6M680.7 829.1v5M680.7 835.1v111.6M682.2 829.1v117.6M683.7 829.1v117.6M685.2 829.1v117.6M686.7 830.6v116.1M688.2 827.6v2M688.2 844.1v21.5M688.2 901.2v32M688.2 947.8v2M689.7 827.6v2M689.7 839.6v15.5M689.7 913.2v23M689.7 947.8v2M691.2 826.1v2M691.2 836.6v5M691.2 935.8v5M691.2 949.3v2M692.7 826.1v2M692.7 833.6v3.5M692.7 940.3v3.5M692.7 949.3v2M694.2 824.6v2M694.2 830.6v3.5M694.2 943.3v3.5M694.2 950.8v2M695.7 823.1v3.5M695.7 827.6v3.5M695.7 946.3v3.5M695.7 950.8v3.5M697.2 821.6v6.5M697.2 949.3v6.5M698.7 821.6v3.5M698.7 950.8v6.5M700.2 820.1v3.5M700.2 953.8v5M701.7 955.3v3.5M703.2 958.3v2M704.7 959.8v2M706.2 961.3v3.5M707.7 962.8v5M709.2 964.3v5M710.7 806.6v3.5M710.7 965.8v6.5M712.2 805.1v3.5M712.2 967.3v6.5M713.7 803.6v3.5M713.7 968.8v6.5M715.2 800.6v5M715.2 970.3v6.5M716.7 799.1v5M716.7 971.8v8M718.2 797.6v5M718.2 973.3v8M719.7 794.6v5M719.7 976.3v6.5M721.2 793.1v5M721.2 977.8v6.5M722.7 790.1v6.5M722.7 979.3v8M724.2 788.6v6.5M724.2 980.8v8M725.7 787.1v6.5M725.7 983.8v6.5M727.2 785.6v6.5M727.2 985.3v6.5M728.7 784.1v5M728.7 988.3v5M730.2 782.6v5M730.2 989.8v3.5M731.7 781.1v5M731.7 992.8v2M733.2 779.6v5M734.7 776.6v5M736.2 775.1v5M737.7 773.6v5M739.2 772.1v5M740.7 770.6v5M742.2 767.6v6.5M743.7 766.1v6.5M745.2 764.6v6.5M746.7 763.1v5M748.2 760.1v6.5M749.7 758.6v6.5M751.2 757.1v6.5"/>
<path stroke="#0000dc" d="M491.7 755.8v9.3M491.7 1010.8v3.5M491.7 1019.8v1.8M493.2 758.6v8M493.2 1009.3v3.5M493.2 1018.3v3.3M494.7 760.1v8M494.7 1007.8v3.5M494.7 1016.8v2M496.2 761.6v8M496.2 1006.3v3.5M496.2 1013.8v3.5M497.7 764.6v6.5M497.7 1004.8v2M497.7 1012.3v3.5M499.2 766.1v6.5M499.2 1003.3v2M499.2 1010.8v3.5M500.7 767.6v6.5M500.7 1001.8v2M500.7 1009.3v2M502.2 769.1v6.5M502.2 998.8v3.5M502.2 1006.3v3.5M503.7 772.1v5M503.7 997.3v3.5M503.7 1004.8v3.5M505.2 773.6v6.5M505.2 995.8v3.5M505.2 1003.3v3.5M506.7 775.1v6.5M506.7 994.3v3.5M506.7 1001.8v3.5M508.2 776.6v8M508.2 992.8v3.5M508.2 1000.3v2M509.7 778.1v8M509.7 991.3v2M509.7 997.3v3.5M511.2 779.6v3.5M511.2 784.1v3.5M511.2 989.8v2M511.2 995.8v3.5M512.7 781.1v3.5M512.7 787.1v3.5M512.7 986.8v3.5M512.7 994.3v3.5M514.2 782.6v2M514.2 788.6v3.5M514.2 985.3v3.5M514.2 992.8v3.5M515.7 784.1v2M515.7 791.6v3.5M515.7 983.8v2M515.7 991.3v3.5M517.2 785.6v2M517.2 793.1v3.5M517.2 980.8v3.5M517.2 989.8v3.5M518.7 787.1v2M518.7 796.1v3.5M518.7 979.3v3.5M518.7 988.3v3.5M520.2 788.6v2M520.2 797.6v3.5M520.2 977.8v3.5M520.2 986.8v2M521.7 790.1v3.5M521.7 799.1v3.5M521.7 976.3v3.5M521.7 983.8v3.5M523.2 791.6v3.5M523.2 800.6v3.5M523.2 974.8v3.5M523.2 982.3v3.5M524.7 793.1v3.5M524.7 803.6v2M524.7 973.3v2M524.7 979.3v3.5M526.2 796.1v2M526.2 805.1v3.5M526.2 971.8v2M526.2 977.8v3.5M527.7 797.6v3.5M527.7 806.6v3.5M527.7 968.8v3.5M527.7 976.3v3.5M529.2 799.1v3.5M529.2 808.1v3.5M529.2 967.3v3.5M529.2 973.3v3.5M530.7 802.1v2M530.7 809.6v3.5M530.7 965.8v3.5M530.7 971.8v3.5M532.2 803.6v2M532.2 811.1v3.5M532.2 964.3v3.5M532.2 970.3v3.5M533.7 805.1v3.5M533.7 812.6v3.5M533.7 962.8v8M535.2 808.1v2M535.2 814.1v3.5M535.2 961.3v8M536.7 809.6v3.5M536.7 815.6v3.5M536.7 959.8v6.5M538.2 811.1v5M538.2 817.1v3.5M538.2 958.3v6.5M539.7 814.1v3.5M539.7 818.6v3.5M539.7 955.3v8M541.2 815.6v3.5M541.2 821.6v3.5M541.2 953.8v8M542.7 817.1v2M542.7 823.1v3.5M542.7 950.8v3.5M542.7 956.8v3.5M544.2 818.6v2M544.2 826.1v2M544.2 949.3v3.5M544.2 955.3v3.5M545.7 820.1v2M545.7 827.6v3.5M545.7 946.3v3.5M545.7 955.3v2M547.2 821.6v2M547.2 830.6v3.5M547.2 943.3v3.5M547.2 953.8v2M548.7 823.1v2M548.7 833.6v3.5M548.7 940.3v3.5M548.7 952.3v2M550.2 823.1v3.5M550.2 836.6v6.5M550.2 934.3v6.5M550.2 950.8v3.5M551.7 824.6v2M551.7 841.1v42.5M551.7 899.7v36.5M551.7 950.8v2M553.2 826.1v2M553.2 863.7v59.1M553.2 949.3v3.5M554.7 826.1v2M554.7 875.7v36.5M554.7 949.3v2M556.2 826.1v5M556.2 946.3v5M557.7 826.1v5M557.7 947.8v3.5M559.2 826.1v5M559.2 947.8v5M560.7 826.1v5M560.7 947.8v5M562.2 826.1v5M562.2 947.8v6.5M563.7 826.1v5M563.7 947.8v6.5M565.2 827.6v3.5M565.2 838.1v101.1M565.2 947.8v5M566.7 827.6v3.5M566.7 947.8v5M568.2 827.6v5M568.2 947.8v3.5M569.7 829.1v3.5M569.7 946.3v5M571.2 829.1v3.5M571.2 946.3v5M572.7 829.1v5M572.7 946.3v3.5M574.2 830.6v5M574.2 944.8v5M575.7 830.6v5M575.7 944.8v5M577.2 830.6v5M577.2 943.3v6.5M578.7 830.6v5M578.7 941.8v6.5M580.2 832.1v3.5M580.2 941.8v6.5M581.7 832.1v3.5M581.7 941.8v6.5M583.2 832.1v3.5M583.2 941.8v6.5M584.7 832.1v3.5M584.7 941.8v6.5M586.2 830.6v5M586.2 941.8v6.5M587.7 830.6v5M587.7 941.8v6.5M589.2 830.6v5M589.2 941.8v6.5M590.7 773.6v2M590.7 830.6v5M590.7 941.8v6.5M592.2 770.6v5M592.2 830.6v5M592.2 943.3v6.5M593.7 769.1v6.5M593.7 829.1v6.5M593.7 944.8v5M595.2 769.1v5M595.2 793.1v3.5M595.2 829.1v5M595.2 944.8v6.5M595.2 980.8v3.5M596.7 767.6v6.5M596.7 790.1v5M596.7 829.1v5M596.7 944.8v6.5M596.7 980.8v5M598.2 766.1v8M598.2 788.6v6.5M598.2 829.1v5M598.2 946.3v5M598.2 959.8v2M598.2 982.3v5M599.7 766.1v6.5M599.7 787.1v6.5M599.7 829.1v5M599.7 946.3v5M599.7 958.3v6.5M599.7 982.3v6.5M601.2 766.1v6.5M601.2 787.1v6.5M601.2 829.1v5M601.2 946.3v3.5M601.2 959.8v8M601.2 983.8v6.5M602.7 764.6v6.5M602.7 785.6v6.5M602.7 829.1v5M602.7 946.3v3.5M602.7 961.3v8M602.7 985.3v6.5M604.2 764.6v6.5M604.2 785.6v6.5M604.2 829.1v5M604.2 944.8v5M604.2 962.8v8M604.2 985.3v6.5M605.7 764.6v5M605.7 784.1v6.5M605.7 808.1v2M605.7 829.1v6.5M605.7 944.8v5M605.7 964.3v6.5M605.7 986.8v6.5M607.2 764.6v5M607.2 784.1v6.5M607.2 806.6v3.5M607.2 829.1v6.5M607.2 944.8v5M607.2 965.8v6.5M607.2 986.8v6.5M608.7 764.6v3.5M608.7 784.1v5M608.7 806.6v2M608.7 830.6v5M608.7 943.3v6.5M608.7 967.3v5M608.7 988.3v5M610.2 764.6v2M610.2 784.1v5M610.2 830.6v5M610.2 941.8v6.5M610.2 967.3v6.5M610.2 988.3v5M611.7 782.6v5M611.7 830.6v5M611.7 941.8v6.5M611.7 968.8v5M611.7 989.8v3.5M613.2 782.6v5M613.2 832.1v3.5M613.2 941.8v5M613.2 970.3v3.5M613.2 989.8v3.5M614.7 784.1v2M614.7 832.1v3.5M614.7 941.8v5M614.7 970.3v3.5M614.7 991.3v2M616.2 784.1v2M616.2 832.1v3.5M616.2 941.8v3.5M616.2 971.8v2M616.2 991.3v2M617.7 832.1v3.5M617.7 941.8v3.5M619.2 833.6v2M619.2 941.8v3.5M620.7 833.6v2M620.7 941.8v3.5M622.2 832.1v3.5M622.2 941.8v2M623.7 832.1v3.5M623.7 941.8v2M625.2 832.1v3.5M625.2 941.8v3.5M626.7 784.1v2M626.7 803.6v2M626.7 832.1v3.5M626.7 941.8v3.5M626.7 991.3v2M628.2 784.1v2M628.2 803.6v3.5M628.2 830.6v5M628.2 941.8v3.5M628.2 991.3v2M629.7 784.1v3.5M629.7 803.6v3.5M629.7 830.6v5M629.7 941.8v3.5M629.7 989.8v5M631.2 784.1v3.5M631.2 803.6v5M631.2 829.1v6.5M631.2 941.8v5M631.2 989.8v5M632.7 784.1v5M632.7 803.6v6.5M632.7 829.1v6.5M632.7 941.8v5M632.7 988.3v5M632.7 1010.8v2M634.2 784.1v5M634.2 805.1v5M634.2 827.6v6.5M634.2 941.8v5M634.2 968.8v2M634.2 988.3v5M634.2 1009.3v3.5M635.7 784.1v6.5M635.7 805.1v6.5M635.7 827.6v5M635.7 941.8v6.5M635.7 967.3v3.5M635.7 986.8v6.5M635.7 1007.8v5M637.2 784.1v6.5M637.2 806.6v6.5M637.2 827.6v5M637.2 941.8v6.5M637.2 967.3v2M637.2 986.8v6.5M637.2 1007.8v5M638.7 785.6v6.5M638.7 806.6v8M638.7 827.6v5M638.7 943.3v5M638.7 985.3v6.5M638.7 1006.3v6.5M640.2 785.6v6.5M640.2 808.1v8M640.2 827.6v3.5M640.2 943.3v5M640.2 985.3v6.5M640.2 1006.3v6.5M641.7 787.1v6.5M641.7 809.6v8M641.7 827.6v3.5M641.7 943.3v5M641.7 983.8v6.5M641.7 1004.8v6.5M643.2 788.6v6.5M643.2 812.6v6.5M643.2 826.1v5M643.2 943.3v5M643.2 983.8v6.5M643.2 1004.8v6.5M644.7 790.1v5M644.7 815.6v2M644.7 826.1v5M644.7 943.3v5M644.7 982.3v6.5M644.7 1003.3v8M646.2 791.6v5M646.2 826.1v6.5M646.2 943.3v5M646.2 982.3v5M646.2 1003.3v6.5M647.7 793.1v3.5M647.7 826.1v6.5M647.7 943.3v5M647.7 980.8v3.5M647.7 1003.3v5M649.2 827.6v5M649.2 941.8v6.5M649.2 1001.8v6.5M650.7 827.6v6.5M650.7 941.8v5M650.7 1001.8v5M652.2 829.1v6.5M652.2 941.8v5M652.2 1001.8v2M653.7 829.1v6.5M653.7 941.8v5M655.2 829.1v6.5M655.2 941.8v5M656.7 829.1v6.5M656.7 941.8v5M658.2 829.1v6.5M658.2 941.8v3.5M659.7 829.1v6.5M659.7 941.8v3.5M661.2 829.1v6.5M661.2 941.8v3.5M662.7 829.1v6.5M662.7 941.8v3.5M664.2 829.1v6.5M664.2 941.8v5M665.7 827.6v6.5M665.7 941.8v5M667.2 827.6v5M667.2 941.8v5M668.7 827.6v5M668.7 941.8v5M670.2 827.6v3.5M670.2 943.3v5M671.7 826.1v5M671.7 944.8v3.5M673.2 826.1v5M673.2 944.8v3.5M674.7 826.1v3.5M674.7 944.8v5M676.2 824.6v5M676.2 946.3v3.5M677.7 824.6v5M677.7 838.1v101.1M677.7 946.3v3.5M679.2 823.1v6.5M679.2 946.3v5M680.7 823.1v6.5M680.7 946.3v5M682.2 824.6v5M682.2 946.3v5M683.7 824.6v5M683.7 946.3v5M685.2 826.1v3.5M685.2 946.3v5M686.7 826.1v5M686.7 946.3v5M688.2 826.1v2M688.2 865.2v36.5M688.2 949.3v2M689.7 824.6v3.5M689.7 854.7v59.1M689.7 949.3v2M691.2 824.6v2M691.2 841.1v36.5M691.2 893.7v42.5M691.2 950.8v2M692.7 823.1v3.5M692.7 836.6v6.5M692.7 934.3v6.5M692.7 950.8v3.5M694.2 823.1v2M694.2 833.6v3.5M694.2 940.3v3.5M694.2 952.3v2M695.7 821.6v2M695.7 830.6v3.5M695.7 943.3v3.5M695.7 953.8v2M697.2 820.1v2M697.2 827.6v3.5M697.2 946.3v3.5M697.2 955.3v2M698.7 818.6v3.5M698.7 824.6v3.5M698.7 949.3v2M698.7 956.8v2M700.2 817.1v3.5M700.2 823.1v3.5M700.2 950.8v3.5M700.2 958.3v2M701.7 815.6v8M701.7 952.3v3.5M701.7 958.3v3.5M703.2 814.1v8M703.2 955.3v3.5M703.2 959.8v3.5M704.7 812.6v6.5M704.7 956.8v3.5M704.7 961.3v5M706.2 811.1v6.5M706.2 958.3v3.5M706.2 964.3v3.5M707.7 808.1v8M707.7 959.8v3.5M707.7 967.3v2M709.2 806.6v8M709.2 961.3v3.5M709.2 968.8v3.5M710.7 803.6v3.5M710.7 809.6v3.5M710.7 962.8v3.5M710.7 971.8v2M712.2 802.1v3.5M712.2 808.1v3.5M712.2 964.3v3.5M712.2 973.3v2M713.7 800.6v3.5M713.7 806.6v3.5M713.7 965.8v3.5M713.7 974.8v3.5M715.2 797.6v3.5M715.2 805.1v3.5M715.2 967.3v3.5M715.2 976.3v3.5M716.7 796.1v3.5M716.7 803.6v2M716.7 968.8v3.5M716.7 979.3v2M718.2 794.6v3.5M718.2 802.1v2M718.2 971.8v2M718.2 980.8v3.5M719.7 791.6v3.5M719.7 799.1v3.5M719.7 973.3v3.5M719.7 982.3v3.5M721.2 790.1v3.5M721.2 797.6v3.5M721.2 974.8v3.5M721.2 983.8v3.5M722.7 788.6v2M722.7 796.1v3.5M722.7 976.3v3.5M722.7 986.8v2M724.2 785.6v3.5M724.2 794.6v3.5M724.2 977.8v3.5M724.2 988.3v2M725.7 784.1v3.5M725.7 793.1v3.5M725.7 980.8v3.5M725.7 989.8v2M727.2 782.6v3.5M727.2 791.6v2M727.2 982.3v3.5M727.2 991.3v2M728.7 781.1v3.5M728.7 788.6v3.5M728.7 985.3v3.5M728.7 992.8v2M730.2 779.6v3.5M730.2 787.1v3.5M730.2 986.8v3.5M730.2 992.8v3.5M731.7 778.1v3.5M731.7 785.6v2M731.7 989.8v3.5M731.7 994.3v3.5M733.2 776.6v3.5M733.2 784.1v2M733.2 991.3v8M734.7 775.1v2M734.7 781.1v3.5M734.7 992.8v8M736.2 772.1v3.5M736.2 779.6v3.5M736.2 995.8v6.5M737.7 770.6v3.5M737.7 778.1v3.5M737.7 997.3v6.5M739.2 769.1v3.5M739.2 776.6v3.5M739.2 1000.3v5M740.7 767.6v3.5M740.7 775.1v3.5M740.7 1001.8v6.5M742.2 766.1v2M742.2 773.6v2M742.2 1003.3v6.5M743.7 763.1v3.5M743.7 772.1v2M743.7 1004.8v6.5M745.2 761.6v3.5M745.2 770.6v2M745.2 1006.3v6.5M746.7 760.1v3.5M746.7 767.6v3.5M746.7 1007.8v8M748.2 758.6v2M748.2 766.1v3.5M748.2 1009.3v8M749.7 755.8v3.3M749.7 764.6v3.5M749.7 1010.8v8M751.2 755.8v1.8M751.2 763.1v3.5M751.2 1012.3v9.3"/>
<path stroke="#0000ef" d="M491.7 764.6v2M493.2 755.8v3.3M493.2 766.1v2M494.7 757.1v3.5M494.7 767.6v2M494.7 1006.3v2M494.7 1018.3v3.3M496.2 760.1v2M496.2 769.1v3.5M496.2 1004.8v2M496.2 1016.8v3.5M497.7 761.6v3.5M497.7 770.6v3.5M497.7 1003.3v2M497.7 1015.3v3.5M499.2 763.1v3.5M499.2 772.1v3.5M499.2 1001.8v2M499.2 1013.8v3.5M500.7 766.1v2M500.7 773.6v3.5M500.7 1000.3v2M500.7 1010.8v3.5M502.2 767.6v2M502.2 775.1v3.5M502.2 997.3v2M502.2 1009.3v3.5M503.7 769.1v3.5M503.7 776.6v3.5M503.7 995.8v2M503.7 1007.8v3.5M505.2 770.6v3.5M505.2 779.6v3.5M505.2 994.3v2M505.2 1006.3v3.5M506.7 772.1v3.5M506.7 781.1v3.5M506.7 992.8v2M506.7 1004.8v3.5M508.2 773.6v3.5M508.2 784.1v2M508.2 991.3v2M508.2 1001.8v5M509.7 775.1v3.5M509.7 785.6v3.5M509.7 988.3v3.5M509.7 1000.3v5M511.2 776.6v3.5M511.2 787.1v3.5M511.2 986.8v3.5M511.2 998.8v5M512.7 778.1v3.5M512.7 790.1v2M512.7 985.3v2M512.7 997.3v6.5M512.7 1010.8v2M514.2 779.6v3.5M514.2 791.6v2M514.2 983.8v2M514.2 995.8v25.8M515.7 781.1v3.5M515.7 982.3v2M515.7 994.3v27.3M517.2 782.6v3.5M517.2 796.1v2M517.2 979.3v2M517.2 992.8v28.8M518.7 782.6v5M518.7 977.8v2M518.7 991.3v30.3M520.2 784.1v5M520.2 976.3v2M520.2 988.3v33.3M521.7 785.6v5M521.7 974.8v2M521.7 986.8v34.8M523.2 788.6v3.5M523.2 803.6v2M523.2 973.3v2M523.2 985.3v36.3M524.7 790.1v3.5M524.7 805.1v2M524.7 970.3v3.5M524.7 982.3v6.5M524.7 991.3v30.3M526.2 793.1v3.5M526.2 968.8v3.5M526.2 980.8v5M526.2 994.3v27.3M527.7 794.6v3.5M527.7 967.3v2M527.7 979.3v3.5M527.7 997.3v24.3M529.2 796.1v3.5M529.2 965.8v2M529.2 976.3v3.5M529.2 1000.3v21.3M530.7 799.1v3.5M530.7 812.6v2M530.7 964.3v2M530.7 974.8v3.5M530.7 1004.8v16.8M532.2 800.6v3.5M532.2 814.1v2M532.2 961.3v3.5M532.2 973.3v3.5M532.2 1007.8v13.8M533.7 802.1v3.5M533.7 815.6v2M533.7 959.8v3.5M533.7 970.3v3.5M533.7 1012.3v9.3M535.2 805.1v3.5M535.2 817.1v2M535.2 958.3v3.5M535.2 968.8v3.5M535.2 1016.8v4.8M536.7 806.6v3.5M536.7 818.6v2M536.7 956.8v3.5M536.7 965.8v3.5M538.2 809.6v2M538.2 820.1v3.5M538.2 955.3v3.5M538.2 964.3v3.5M539.7 811.1v3.5M539.7 821.6v3.5M539.7 952.3v3.5M539.7 962.8v2M541.2 812.6v3.5M541.2 824.6v2M541.2 950.8v3.5M541.2 961.3v2M542.7 814.1v3.5M542.7 826.1v2M542.7 949.3v2M542.7 959.8v2M544.2 815.6v3.5M544.2 827.6v3.5M544.2 946.3v3.5M544.2 958.3v3.5M545.7 817.1v3.5M545.7 830.6v2M545.7 944.8v2M545.7 956.8v3.5M547.2 818.6v3.5M547.2 833.6v3.5M547.2 940.3v3.5M547.2 955.3v3.5M548.7 820.1v3.5M548.7 836.6v6.5M548.7 934.3v6.5M548.7 953.8v3.5M550.2 821.6v2M550.2 842.6v92.1M550.2 953.8v2M551.7 755.8v9.3M551.7 821.6v3.5M551.7 883.2v17M551.7 952.3v3.5M553.2 755.8v9.3M553.2 821.6v5M553.2 952.3v3.5M554.7 755.8v9.3M554.7 821.6v5M554.7 950.8v5M554.7 1016.8v4.8M556.2 755.8v9.3M556.2 821.6v5M556.2 950.8v8M556.2 1016.8v4.8M557.7 755.8v9.3M557.7 781.1v5M557.7 820.1v6.5M557.7 950.8v9.5M557.7 1016.8v4.8M559.2 755.8v7.8M559.2 775.1v11M559.2 818.6v8M559.2 952.3v11M559.2 1018.3v3.3M560.7 755.8v6.3M560.7 772.1v12.5M560.7 817.1v9.5M560.7 952.3v15.5M560.7 1018.3v3.3M562.2 755.8v4.8M562.2 769.1v14M562.2 814.1v12.5M562.2 953.8v17M562.2 998.8v2M562.2 1019.8v1.8M563.7 755.8v3.3M563.7 767.6v14M563.7 811.1v15.5M563.7 953.8v20M563.7 998.8v5M565.2 766.1v14M565.2 808.1v2M565.2 820.1v8M565.2 952.3v24.5M565.2 1001.8v5M566.7 764.6v14M566.7 823.1v5M566.7 838.1v2M566.7 937.3v2M566.7 952.3v26M566.7 1003.3v5M568.2 763.1v12.5M568.2 824.6v3.5M568.2 838.1v2M568.2 937.3v2M568.2 950.8v30.5M568.2 1006.3v3.5M569.7 761.6v12.5M569.7 824.6v5M569.7 838.1v2M569.7 937.3v2M569.7 950.8v6.5M569.7 968.8v14M571.2 761.6v11M571.2 826.1v3.5M571.2 838.1v2M571.2 937.3v2M571.2 950.8v5M571.2 974.8v9.5M572.7 760.1v11M572.7 826.1v3.5M572.7 838.1v2M572.7 937.3v2M572.7 949.3v6.5M572.7 979.3v5M574.2 760.1v8M574.2 826.1v5M574.2 838.1v2M574.2 937.3v2M574.2 949.3v6.5M575.7 758.6v8M575.7 826.1v5M575.7 838.1v2M575.7 937.3v2M575.7 949.3v8M577.2 758.6v6.5M577.2 826.1v5M577.2 838.1v2M577.2 937.3v2M577.2 949.3v9.5M578.7 757.1v6.5M578.7 827.6v3.5M578.7 838.1v2M578.7 937.3v2M578.7 947.8v14M580.2 755.8v6.3M580.2 782.6v2M580.2 827.6v5M580.2 838.1v2M580.2 937.3v2M580.2 947.8v17M581.7 755.8v4.8M581.7 779.6v5M581.7 827.6v5M581.7 838.1v2M581.7 937.3v2M581.7 947.8v6.5M581.7 959.8v9.5M583.2 755.8v4.8M583.2 778.1v5M583.2 827.6v5M583.2 838.1v2M583.2 937.3v2M583.2 947.8v5M583.2 962.8v8M584.7 755.8v3.3M584.7 775.1v8M584.7 827.6v5M584.7 838.1v2M584.7 937.3v2M584.7 947.8v3.5M584.7 964.3v9.5M586.2 755.8v3.3M586.2 773.6v8M586.2 827.6v3.5M586.2 838.1v2M586.2 937.3v2M586.2 947.8v3.5M586.2 967.3v9.5M587.7 755.8v1.8M587.7 772.1v9.5M587.7 827.6v3.5M587.7 838.1v2M587.7 937.3v2M587.7 947.8v5M587.7 968.8v9.5M589.2 755.8v1.8M589.2 770.6v9.5M589.2 797.6v6.5M589.2 827.6v3.5M589.2 838.1v2M589.2 937.3v2M589.2 947.8v5M589.2 970.3v11M590.7 769.1v5M590.7 775.1v5M590.7 794.6v8M590.7 826.1v5M590.7 838.1v2M590.7 937.3v2M590.7 947.8v6.5M590.7 973.3v9.5M590.7 1001.8v2M592.2 767.6v3.5M592.2 775.1v3.5M592.2 793.1v8M592.2 826.1v5M592.2 838.1v2M592.2 937.3v2M592.2 949.3v6.5M592.2 974.8v9.5M592.2 1001.8v3.5M593.7 767.6v2M593.7 775.1v3.5M593.7 790.1v11M593.7 824.6v5M593.7 838.1v2M593.7 937.3v2M593.7 949.3v9.5M593.7 976.3v9.5M593.7 1001.8v5M595.2 766.1v3.5M595.2 773.6v3.5M595.2 788.6v5M595.2 796.1v3.5M595.2 823.1v6.5M595.2 838.1v2M595.2 937.3v2M595.2 950.8v11M595.2 976.3v5M595.2 983.8v3.5M595.2 1001.8v6.5M596.7 764.6v3.5M596.7 773.6v3.5M596.7 787.1v3.5M596.7 794.6v3.5M596.7 817.1v12.5M596.7 838.1v2M596.7 937.3v2M596.7 950.8v14M596.7 977.8v3.5M596.7 985.3v3.5M596.7 1003.3v6.5M598.2 764.6v2M598.2 773.6v2M598.2 785.6v3.5M598.2 794.6v3.5M598.2 814.1v15.5M598.2 838.1v2M598.2 937.3v2M598.2 950.8v9.5M598.2 961.3v5M598.2 979.3v3.5M598.2 986.8v3.5M598.2 1003.3v8M599.7 763.1v3.5M599.7 772.1v3.5M599.7 785.6v2M599.7 793.1v3.5M599.7 811.1v9.5M599.7 824.6v5M599.7 838.1v2M599.7 937.3v2M599.7 950.8v8M599.7 964.3v3.5M599.7 980.8v2M599.7 988.3v3.5M599.7 1004.8v6.5M601.2 763.1v3.5M601.2 772.1v2M601.2 784.1v3.5M601.2 793.1v2M601.2 809.6v9.5M601.2 824.6v5M601.2 838.1v2M601.2 937.3v2M601.2 949.3v11M601.2 967.3v3.5M601.2 980.8v3.5M601.2 989.8v2M601.2 1004.8v8M602.7 763.1v2M602.7 770.6v3.5M602.7 784.1v2M602.7 791.6v3.5M602.7 808.1v9.5M602.7 826.1v3.5M602.7 838.1v2M602.7 937.3v2M602.7 949.3v12.5M602.7 968.8v2M602.7 982.3v3.5M602.7 991.3v2M602.7 1004.8v8M604.2 763.1v2M604.2 770.6v2M604.2 782.6v3.5M604.2 791.6v2M604.2 806.6v9.5M604.2 826.1v3.5M604.2 838.1v2M604.2 937.3v2M604.2 949.3v5M604.2 958.3v5M604.2 970.3v2M604.2 983.8v2M604.2 991.3v2M604.2 1006.3v8M605.7 761.6v3.5M605.7 769.1v3.5M605.7 782.6v2M605.7 790.1v3.5M605.7 805.1v3.5M605.7 809.6v5M605.7 826.1v3.5M605.7 838.1v2M605.7 937.3v2M605.7 949.3v3.5M605.7 961.3v3.5M605.7 970.3v3.5M605.7 983.8v3.5M605.7 992.8v2M605.7 1006.3v8M607.2 761.6v3.5M607.2 769.1v2M607.2 782.6v2M607.2 790.1v2M607.2 803.6v3.5M607.2 809.6v3.5M607.2 826.1v3.5M607.2 838.1v2M607.2 937.3v2M607.2 949.3v3.5M607.2 962.8v3.5M607.2 971.8v2M607.2 985.3v2M607.2 992.8v2M607.2 1006.3v8M608.7 761.6v3.5M608.7 767.6v3.5M608.7 781.1v3.5M608.7 788.6v2M608.7 803.6v3.5M608.7 808.1v3.5M608.7 826.1v5M608.7 838.1v2M608.7 937.3v2M608.7 949.3v3.5M608.7 964.3v3.5M608.7 971.8v3.5M608.7 985.3v3.5M608.7 992.8v2M608.7 1007.8v6.5M610.2 761.6v3.5M610.2 766.1v3.5M610.2 781.1v3.5M610.2 788.6v2M610.2 802.1v8M610.2 826.1v5M610.2 838.1v2M610.2 937.3v2M610.2 947.8v5M610.2 965.8v2M610.2 973.3v2M610.2 986.8v2M610.2 992.8v3.5M610.2 1007.8v8M611.7 761.6v8M611.7 781.1v2M611.7 787.1v3.5M611.7 802.1v8M611.7 826.1v5M611.7 838.1v2M611.7 937.3v2M611.7 947.8v6.5M611.7 967.3v2M611.7 973.3v2M611.7 986.8v3.5M611.7 992.8v3.5M611.7 1009.3v6.5M613.2 761.6v6.5M613.2 781.1v2M613.2 787.1v2M613.2 802.1v6.5M613.2 826.1v6.5M613.2 838.1v2M613.2 937.3v2M613.2 946.3v8M613.2 967.3v3.5M613.2 973.3v3.5M613.2 988.3v2M613.2 992.8v3.5M613.2 1009.3v6.5M614.7 761.6v6.5M614.7 781.1v3.5M614.7 785.6v3.5M614.7 802.1v6.5M614.7 827.6v5M614.7 838.1v2M614.7 937.3v2M614.7 946.3v6.5M614.7 968.8v2M614.7 973.3v3.5M614.7 988.3v3.5M614.7 992.8v3.5M614.7 1009.3v6.5M616.2 761.6v6.5M616.2 781.1v3.5M616.2 785.6v3.5M616.2 800.6v8M616.2 827.6v5M616.2 838.1v2M616.2 937.3v2M616.2 944.8v8M616.2 968.8v3.5M616.2 973.3v3.5M616.2 988.3v3.5M616.2 992.8v3.5M616.2 1009.3v6.5M617.7 761.6v5M617.7 781.1v6.5M617.7 800.6v6.5M617.7 827.6v5M617.7 838.1v2M617.7 937.3v2M617.7 944.8v6.5M617.7 968.8v8M617.7 989.8v6.5M617.7 1010.8v5M619.2 761.6v5M619.2 781.1v6.5M619.2 800.6v6.5M619.2 827.6v6.5M619.2 838.1v2M619.2 937.3v2M619.2 944.8v5M619.2 970.3v6.5M619.2 989.8v6.5M619.2 1010.8v5M620.7 761.6v5M620.7 781.1v6.5M620.7 800.6v6.5M620.7 827.6v6.5M620.7 838.1v2M620.7 937.3v2M620.7 944.8v5M620.7 970.3v6.5M620.7 989.8v6.5M620.7 1010.8v5M622.2 761.6v5M622.2 781.1v6.5M622.2 800.6v6.5M622.2 827.6v5M622.2 838.1v2M622.2 937.3v2M622.2 943.3v6.5M622.2 970.3v6.5M622.2 989.8v6.5M622.2 1010.8v5M623.7 761.6v5M623.7 781.1v6.5M623.7 800.6v6.5M623.7 827.6v5M623.7 838.1v2M623.7 937.3v2M623.7 943.3v6.5M623.7 970.3v6.5M623.7 989.8v6.5M623.7 1010.8v5M625.2 761.6v5M625.2 781.1v6.5M625.2 800.6v8M625.2 826.1v6.5M625.2 838.1v2M625.2 937.3v2M625.2 944.8v5M625.2 970.3v6.5M625.2 989.8v6.5M625.2 1010.8v5M626.7 761.6v6.5M626.7 781.1v3.5M626.7 785.6v3.5M626.7 800.6v3.5M626.7 805.1v3.5M626.7 824.6v8M626.7 838.1v2M626.7 937.3v2M626.7 944.8v5M626.7 968.8v8M626.7 988.3v3.5M626.7 992.8v3.5M626.7 1009.3v6.5M628.2 761.6v6.5M628.2 781.1v3.5M628.2 785.6v3.5M628.2 800.6v3.5M628.2 806.6v2M628.2 824.6v6.5M628.2 838.1v2M628.2 937.3v2M628.2 944.8v5M628.2 968.8v6.5M628.2 988.3v3.5M628.2 992.8v3.5M628.2 1009.3v6.5M629.7 761.6v6.5M629.7 781.1v3.5M629.7 787.1v2M629.7 800.6v3.5M629.7 806.6v3.5M629.7 823.1v8M629.7 838.1v2M629.7 937.3v2M629.7 944.8v6.5M629.7 968.8v6.5M629.7 988.3v2M629.7 994.3v2M629.7 1009.3v6.5M631.2 761.6v6.5M631.2 781.1v3.5M631.2 787.1v3.5M631.2 802.1v2M631.2 808.1v2M631.2 823.1v6.5M631.2 838.1v2M631.2 937.3v2M631.2 946.3v5M631.2 967.3v8M631.2 986.8v3.5M631.2 994.3v2M631.2 1007.8v8M632.7 761.6v8M632.7 781.1v3.5M632.7 788.6v2M632.7 802.1v2M632.7 809.6v2M632.7 824.6v5M632.7 838.1v2M632.7 937.3v2M632.7 946.3v5M632.7 967.3v8M632.7 986.8v2M632.7 992.8v3.5M632.7 1007.8v3.5M632.7 1012.3v3.5M634.2 763.1v6.5M634.2 782.6v2M634.2 788.6v3.5M634.2 802.1v3.5M634.2 809.6v3.5M634.2 824.6v3.5M634.2 838.1v2M634.2 937.3v2M634.2 946.3v5M634.2 965.8v3.5M634.2 970.3v3.5M634.2 986.8v2M634.2 992.8v3.5M634.2 1006.3v3.5M634.2 1012.3v3.5M635.7 763.1v8M635.7 782.6v2M635.7 790.1v2M635.7 803.6v2M635.7 811.1v3.5M635.7 824.6v3.5M635.7 838.1v2M635.7 937.3v2M635.7 947.8v3.5M635.7 964.3v3.5M635.7 970.3v3.5M635.7 985.3v2M635.7 992.8v2M635.7 1006.3v2M635.7 1012.3v3.5M637.2 763.1v8M637.2 782.6v2M637.2 790.1v3.5M637.2 803.6v3.5M637.2 812.6v3.5M637.2 824.6v3.5M637.2 838.1v2M637.2 937.3v2M637.2 947.8v3.5M637.2 962.8v5M637.2 968.8v3.5M637.2 983.8v3.5M637.2 992.8v2M637.2 1004.8v3.5M637.2 1012.3v3.5M638.7 763.1v8M638.7 784.1v2M638.7 791.6v2M638.7 805.1v2M638.7 814.1v5M638.7 823.1v5M638.7 838.1v2M638.7 937.3v2M638.7 947.8v3.5M638.7 961.3v9.5M638.7 983.8v2M638.7 991.3v3.5M638.7 1004.8v2M638.7 1012.3v2M640.2 764.6v8M640.2 784.1v2M640.2 791.6v3.5M640.2 806.6v2M640.2 815.6v12.5M640.2 838.1v2M640.2 937.3v2M640.2 947.8v3.5M640.2 959.8v9.5M640.2 982.3v3.5M640.2 991.3v2M640.2 1003.3v3.5M640.2 1012.3v2M641.7 764.6v8M641.7 785.6v2M641.7 793.1v3.5M641.7 806.6v3.5M641.7 817.1v11M641.7 838.1v2M641.7 937.3v2M641.7 947.8v5M641.7 958.3v9.5M641.7 982.3v2M641.7 989.8v3.5M641.7 1003.3v2M641.7 1010.8v3.5M643.2 766.1v6.5M643.2 785.6v3.5M643.2 794.6v2M643.2 809.6v3.5M643.2 818.6v8M643.2 838.1v2M643.2 937.3v2M643.2 947.8v5M643.2 956.8v9.5M643.2 980.8v3.5M643.2 989.8v2M643.2 1001.8v3.5M643.2 1010.8v3.5M644.7 766.1v8M644.7 787.1v3.5M644.7 794.6v3.5M644.7 811.1v5M644.7 817.1v9.5M644.7 838.1v2M644.7 937.3v2M644.7 947.8v15.5M644.7 979.3v3.5M644.7 988.3v3.5M644.7 1001.8v2M644.7 1010.8v2M646.2 767.6v6.5M646.2 788.6v3.5M646.2 796.1v3.5M646.2 812.6v14M646.2 838.1v2M646.2 937.3v2M646.2 947.8v12.5M646.2 979.3v3.5M646.2 986.8v3.5M646.2 1000.3v3.5M646.2 1009.3v3.5M647.7 769.1v6.5M647.7 790.1v3.5M647.7 796.1v5M647.7 815.6v11M647.7 838.1v2M647.7 937.3v2M647.7 947.8v6.5M647.7 977.8v3.5M647.7 983.8v5M647.7 1000.3v3.5M647.7 1007.8v3.5M649.2 770.6v5M649.2 791.6v9.5M649.2 818.6v9.5M649.2 838.1v2M649.2 937.3v2M649.2 947.8v5M649.2 976.3v11M649.2 998.8v3.5M649.2 1007.8v2M650.7 772.1v3.5M650.7 793.1v9.5M650.7 821.6v6.5M650.7 838.1v2M650.7 937.3v2M650.7 946.3v5M650.7 976.3v8M650.7 998.8v3.5M650.7 1006.3v3.5M652.2 773.6v2M652.2 794.6v9.5M652.2 823.1v6.5M652.2 838.1v2M652.2 937.3v2M652.2 946.3v5M652.2 974.8v8M652.2 997.3v5M652.2 1003.3v5M653.7 796.1v11M653.7 824.6v5M653.7 838.1v2M653.7 937.3v2M653.7 946.3v3.5M653.7 973.3v6.5M653.7 997.3v9.5M653.7 1019.8v1.8M655.2 799.1v9.5M655.2 824.6v5M655.2 838.1v2M655.2 937.3v2M655.2 946.3v3.5M655.2 995.8v9.5M655.2 1019.8v1.8M656.7 800.6v9.5M656.7 826.1v3.5M656.7 838.1v2M656.7 937.3v2M656.7 946.3v3.5M656.7 995.8v8M656.7 1018.3v3.3M658.2 803.6v9.5M658.2 826.1v3.5M658.2 838.1v2M658.2 937.3v2M658.2 944.8v5M658.2 994.3v8M658.2 1018.3v3.3M659.7 806.6v8M659.7 824.6v5M659.7 838.1v2M659.7 937.3v2M659.7 944.8v5M659.7 994.3v5M659.7 1016.8v4.8M661.2 808.1v9.5M661.2 823.1v6.5M661.2 838.1v2M661.2 937.3v2M661.2 944.8v5M661.2 992.8v5M661.2 1016.8v4.8M662.7 812.6v17M662.7 838.1v2M662.7 937.3v2M662.7 944.8v5M662.7 992.8v2M662.7 1015.3v6.3M664.2 815.6v14M664.2 838.1v2M664.2 937.3v2M664.2 946.3v3.5M664.2 1013.8v6.5M665.7 818.6v9.5M665.7 838.1v2M665.7 937.3v2M665.7 946.3v5M665.7 1012.3v6.5M667.2 820.1v8M667.2 838.1v2M667.2 937.3v2M667.2 946.3v5M667.2 1010.8v8M668.7 821.6v6.5M668.7 838.1v2M668.7 937.3v2M668.7 946.3v5M668.7 1009.3v8M670.2 793.1v5M670.2 821.6v6.5M670.2 838.1v2M670.2 937.3v2M670.2 947.8v3.5M670.2 1006.3v11M671.7 793.1v9.5M671.7 821.6v5M671.7 838.1v2M671.7 937.3v2M671.7 947.8v3.5M671.7 1004.8v11M673.2 794.6v14M673.2 820.1v6.5M673.2 838.1v2M673.2 937.3v2M673.2 947.8v5M673.2 1003.3v12.5M674.7 767.6v3.5M674.7 796.1v30.5M674.7 838.1v2M674.7 937.3v2M674.7 949.3v3.5M674.7 1001.8v12.5M676.2 769.1v5M676.2 799.1v26M676.2 838.1v2M676.2 937.3v2M676.2 949.3v5M676.2 998.8v14M677.7 770.6v5M677.7 800.6v24.5M677.7 949.3v8M677.7 967.3v2M677.7 997.3v14M679.2 773.6v5M679.2 803.6v20M679.2 950.8v15.5M679.2 995.8v14M679.2 1018.3v3.3M680.7 755.8v1.8M680.7 776.6v2M680.7 806.6v17M680.7 950.8v12.5M680.7 994.3v14M680.7 1016.8v4.8M682.2 755.8v3.3M682.2 809.6v15.5M682.2 950.8v9.5M682.2 992.8v12.5M682.2 1015.3v6.3M683.7 755.8v3.3M683.7 814.1v11M683.7 950.8v8M683.7 991.3v11M683.7 1013.8v7.8M685.2 755.8v4.8M685.2 817.1v9.5M685.2 950.8v6.5M685.2 991.3v5M685.2 1012.3v9.3M686.7 755.8v4.8M686.7 818.6v8M686.7 950.8v5M686.7 1012.3v9.3M688.2 755.8v4.8M688.2 821.6v5M688.2 950.8v5M688.2 1012.3v9.3M689.7 821.6v3.5M689.7 950.8v5M689.7 1012.3v9.3M691.2 821.6v3.5M691.2 877.2v17M691.2 952.3v3.5M691.2 1012.3v9.3M692.7 821.6v2M692.7 842.6v92.1M692.7 953.8v2M694.2 820.1v3.5M694.2 836.6v6.5M694.2 934.3v6.5M694.2 953.8v3.5M695.7 818.6v3.5M695.7 833.6v3.5M695.7 940.3v3.5M695.7 955.3v3.5M697.2 817.1v3.5M697.2 830.6v2M697.2 944.8v2M697.2 956.8v3.5M698.7 815.6v3.5M698.7 827.6v3.5M698.7 946.3v3.5M698.7 958.3v3.5M700.2 815.6v2M700.2 826.1v2M700.2 949.3v2M700.2 959.8v3.5M701.7 814.1v2M701.7 823.1v3.5M701.7 950.8v2M701.7 961.3v3.5M703.2 812.6v2M703.2 821.6v3.5M703.2 952.3v3.5M703.2 962.8v3.5M704.7 809.6v3.5M704.7 818.6v3.5M704.7 953.8v3.5M704.7 965.8v2M706.2 808.1v3.5M706.2 817.1v3.5M706.2 956.8v2M706.2 967.3v3.5M707.7 755.8v4.8M707.7 805.1v3.5M707.7 815.6v3.5M707.7 958.3v2M707.7 968.8v3.5M709.2 755.8v9.3M709.2 803.6v3.5M709.2 814.1v3.5M709.2 959.8v2M709.2 971.8v3.5M710.7 755.8v13.8M710.7 800.6v3.5M710.7 812.6v3.5M710.7 961.3v2M710.7 973.3v3.5M712.2 755.8v16.8M712.2 799.1v3.5M712.2 811.1v2M712.2 962.8v2M712.2 974.8v3.5M713.7 755.8v21.3M713.7 797.6v3.5M713.7 809.6v2M713.7 977.8v3.5M715.2 755.8v24.3M715.2 794.6v3.5M715.2 808.1v2M715.2 979.3v3.5M716.7 755.8v27.3M716.7 791.6v5M716.7 805.1v3.5M716.7 980.8v3.5M718.2 755.8v30.3M718.2 788.6v6.5M718.2 803.6v3.5M718.2 970.3v2M718.2 983.8v3.5M719.7 755.8v36.3M719.7 802.1v2M719.7 971.8v2M719.7 985.3v3.5M721.2 755.8v34.8M721.2 800.6v2M721.2 986.8v5M722.7 755.8v33.3M722.7 799.1v2M722.7 988.3v5M724.2 755.8v30.3M724.2 797.6v2M724.2 989.8v5M725.7 755.8v28.8M725.7 796.1v2M725.7 979.3v2M725.7 991.3v3.5M727.2 755.8v27.3M727.2 793.1v2M727.2 992.8v3.5M728.7 755.8v25.8M728.7 791.6v2M728.7 983.8v2M728.7 994.3v3.5M730.2 764.6v2M730.2 773.6v6.5M730.2 790.1v2M730.2 985.3v2M730.2 995.8v3.5M731.7 773.6v5M731.7 787.1v3.5M731.7 986.8v3.5M731.7 997.3v3.5M733.2 772.1v5M733.2 785.6v3.5M733.2 988.3v3.5M733.2 998.8v3.5M734.7 770.6v5M734.7 784.1v2M734.7 991.3v2M734.7 1000.3v3.5M736.2 769.1v3.5M736.2 782.6v2M736.2 992.8v3.5M736.2 1001.8v3.5M737.7 767.6v3.5M737.7 781.1v2M737.7 994.3v3.5M737.7 1003.3v3.5M739.2 766.1v3.5M739.2 779.6v2M739.2 997.3v3.5M739.2 1004.8v3.5M740.7 764.6v3.5M740.7 778.1v2M740.7 998.8v3.5M740.7 1007.8v2M742.2 763.1v3.5M742.2 775.1v2M742.2 1000.3v3.5M742.2 1009.3v2M743.7 760.1v3.5M743.7 773.6v2M743.7 1001.8v3.5M743.7 1010.8v3.5M745.2 758.6v3.5M745.2 772.1v2M745.2 1003.3v3.5M745.2 1012.3v3.5M746.7 757.1v3.5M746.7 770.6v2M746.7 1004.8v3.5M746.7 1015.3v2M748.2 755.8v3.3M748.2 769.1v2M748.2 1007.8v2M748.2 1016.8v3.5M749.7 1009.3v2M749.7 1018.3v3.3M751.2 1010.8v2"/>
<path stroke="#0015ff" d="M497.7 755.8v1.8M499.2 755.8v4.8M500.7 755.8v6.3M500.7 776.6v2M502.2 755.8v7.8M503.7 755.8v10.8M505.2 755.8v10.8M506.7 755.8v12.3M508.2 755.8v13.8M509.7 763.1v3.5M514.2 793.1v2M514.2 982.3v2M520.2 800.6v2M521.7 973.3v2M526.2 808.1v2M527.7 965.8v2M532.2 776.6v6.5M532.2 815.6v2M533.7 770.6v17M533.7 817.1v2M533.7 958.3v2M535.2 767.6v21.5M535.2 956.8v2M536.7 764.6v30.5M536.7 974.8v8M538.2 763.1v41M538.2 823.1v2M538.2 952.3v2M538.2 970.3v18.5M539.7 761.6v45.6M539.7 824.6v2M539.7 950.8v2M539.7 968.8v23M541.2 760.1v48.6M541.2 827.6v2M541.2 947.8v2M541.2 967.3v27.5M542.7 760.1v50.1M542.7 829.1v3.5M542.7 944.8v3.5M542.7 965.8v32M544.2 776.6v32M544.2 832.1v3.5M544.2 941.8v3.5M544.2 965.8v33.5M545.7 776.6v29M545.7 835.1v6.5M545.7 935.8v6.5M545.7 968.8v32M547.2 776.6v26M547.2 842.6v32M547.2 902.7v32M547.2 971.8v30.5M548.7 776.6v21.5M548.7 977.8v24.5M550.2 776.6v15.5M550.2 982.3v21.5M551.7 776.6v8M551.7 988.3v17M553.2 992.8v12.5M554.7 997.3v8M559.2 800.6v2M560.7 796.1v5M562.2 793.1v5M563.7 790.1v6.5M563.7 985.3v2M565.2 787.1v6.5M565.2 985.3v6.5M566.7 784.1v8M566.7 986.8v8M568.2 782.6v8M568.2 986.8v11M568.2 1018.3v2M569.7 779.6v9.5M569.7 811.1v6.5M569.7 988.3v12.5M569.7 1018.3v3.3M571.2 776.6v9.5M571.2 805.1v15.5M571.2 989.8v14M571.2 1018.3v3.3M572.7 775.1v9.5M572.7 802.1v18.5M572.7 991.3v14M572.7 1018.3v3.3M574.2 772.1v11M574.2 797.6v8M574.2 811.1v9.5M574.2 965.8v9.5M574.2 992.8v6.5M574.2 1001.8v6.5M574.2 1019.8v1.8M575.7 770.6v11M575.7 796.1v6.5M575.7 811.1v9.5M575.7 965.8v14M575.7 994.3v5M575.7 1004.8v5M575.7 1019.8v1.8M577.2 769.1v11M577.2 793.1v6.5M577.2 809.6v9.5M577.2 967.3v15.5M577.2 994.3v6.5M577.2 1006.3v5M578.7 767.6v11M578.7 791.6v5M578.7 806.6v9.5M578.7 968.8v17M578.7 995.8v5M578.7 1009.3v3.5M580.2 766.1v11M580.2 790.1v5M580.2 803.6v8M580.2 971.8v6.5M580.2 980.8v6.5M580.2 997.3v5M580.2 1010.8v3.5M581.7 764.6v11M581.7 788.6v3.5M581.7 802.1v6.5M581.7 818.6v3.5M581.7 973.3v6.5M581.7 983.8v6.5M581.7 998.8v5M581.7 1012.3v3.5M583.2 763.1v11M583.2 787.1v3.5M583.2 799.1v5M583.2 815.6v8M583.2 976.3v5M583.2 986.8v5M583.2 1000.3v3.5M583.2 1013.8v3.5M584.7 763.1v9.5M584.7 785.6v3.5M584.7 796.1v5M584.7 812.6v12.5M584.7 977.8v5M584.7 988.3v5M584.7 1001.8v3.5M584.7 1013.8v5M586.2 761.6v9.5M586.2 784.1v5M586.2 793.1v6.5M586.2 811.1v14M586.2 979.3v5M586.2 989.8v5M586.2 1003.3v3.5M586.2 1015.3v3.5M587.7 760.1v9.5M587.7 784.1v3.5M587.7 791.6v5M587.7 809.6v15.5M587.7 958.3v5M587.7 982.3v3.5M587.7 991.3v5M587.7 1004.8v3.5M587.7 1016.8v3.5M589.2 760.1v8M589.2 782.6v5M589.2 788.6v5M589.2 806.6v6.5M589.2 817.1v6.5M589.2 958.3v8M589.2 983.8v3.5M589.2 992.8v3.5M589.2 1006.3v3.5M589.2 1016.8v3.5M590.7 758.6v8M590.7 781.1v11M590.7 805.1v5M590.7 815.6v6.5M590.7 959.8v9.5M590.7 985.3v3.5M590.7 994.3v3.5M590.7 1007.8v2M590.7 1018.3v2M592.2 758.6v8M592.2 781.1v9.5M592.2 803.6v5M592.2 814.1v6.5M592.2 961.3v9.5M592.2 986.8v3.5M592.2 994.3v5M592.2 1007.8v3.5M592.2 1018.3v3.3M593.7 757.1v8M593.7 779.6v8M593.7 803.6v3.5M593.7 812.6v5M593.7 964.3v8M593.7 988.3v3.5M593.7 995.8v3.5M593.7 1009.3v3.5M593.7 1019.8v1.8M595.2 757.1v6.5M595.2 779.6v6.5M595.2 802.1v3.5M595.2 809.6v5M595.2 965.8v8M595.2 989.8v3.5M595.2 997.3v3.5M595.2 1010.8v3.5M595.2 1019.8v1.8M596.7 755.8v7.8M596.7 778.1v6.5M596.7 800.6v3.5M596.7 808.1v3.5M596.7 967.3v8M596.7 991.3v3.5M596.7 997.3v3.5M596.7 1012.3v2M596.7 1019.8v1.8M598.2 755.8v6.3M598.2 778.1v6.5M598.2 799.1v3.5M598.2 806.6v3.5M598.2 968.8v8M598.2 992.8v3.5M598.2 997.3v5M598.2 1012.3v3.5M599.7 755.8v6.3M599.7 776.6v6.5M599.7 797.6v5M599.7 803.6v5M599.7 970.3v8M599.7 992.8v3.5M599.7 998.8v3.5M599.7 1013.8v2M601.2 755.8v6.3M601.2 776.6v6.5M601.2 797.6v3.5M601.2 802.1v5M601.2 971.8v8M601.2 994.3v3.5M601.2 998.8v3.5M601.2 1013.8v3.5M602.7 755.8v1.8M602.7 758.6v3.5M602.7 775.1v6.5M602.7 796.1v3.5M602.7 800.6v5M602.7 973.3v6.5M602.7 994.3v3.5M602.7 1000.3v3.5M602.7 1015.3v2M604.2 758.6v2M604.2 773.6v8M604.2 794.6v5M604.2 800.6v3.5M604.2 974.8v6.5M604.2 995.8v2M604.2 1001.8v2M604.2 1015.3v2M605.7 758.6v2M605.7 773.6v8M605.7 794.6v3.5M605.7 799.1v3.5M605.7 817.1v5M605.7 974.8v8M605.7 995.8v3.5M605.7 1001.8v3.5M605.7 1015.3v3.5M607.2 758.6v2M607.2 772.1v8M607.2 793.1v3.5M607.2 799.1v3.5M607.2 815.6v6.5M607.2 976.3v8M607.2 995.8v3.5M607.2 1003.3v2M607.2 1015.3v3.5M608.7 758.6v2M608.7 772.1v3.5M608.7 776.6v3.5M608.7 793.1v2M608.7 799.1v2M608.7 814.1v8M608.7 958.3v3.5M608.7 976.3v8M608.7 997.3v2M608.7 1003.3v3.5M608.7 1016.8v2M610.2 758.6v2M610.2 770.6v3.5M610.2 778.1v2M610.2 791.6v3.5M610.2 799.1v2M610.2 812.6v9.5M610.2 956.8v6.5M610.2 976.3v3.5M610.2 982.3v3.5M610.2 997.3v2M610.2 1004.8v2M610.2 1016.8v2M611.7 758.6v2M611.7 770.6v2M611.7 778.1v2M611.7 791.6v2M611.7 797.6v3.5M611.7 811.1v3.5M611.7 817.1v5M611.7 956.8v8M611.7 977.8v2M611.7 983.8v2M611.7 997.3v2M611.7 1004.8v2M611.7 1016.8v2M613.2 758.6v2M613.2 770.6v2M613.2 778.1v2M613.2 790.1v3.5M613.2 797.6v2M613.2 811.1v2M613.2 817.1v5M613.2 956.8v9.5M613.2 977.8v2M613.2 983.8v3.5M613.2 997.3v2M613.2 1004.8v3.5M613.2 1016.8v2M614.7 758.6v2M614.7 769.1v3.5M614.7 778.1v2M614.7 790.1v2M614.7 797.6v2M614.7 809.6v2M614.7 817.1v3.5M614.7 956.8v5M614.7 964.3v3.5M614.7 977.8v2M614.7 985.3v2M614.7 997.3v2M614.7 1006.3v2M614.7 1016.8v2M616.2 758.6v2M616.2 769.1v2M616.2 778.1v2M616.2 790.1v2M616.2 797.6v2M616.2 809.6v2M616.2 817.1v3.5M616.2 958.3v3.5M616.2 964.3v3.5M616.2 977.8v2M616.2 985.3v2M616.2 997.3v2M616.2 1006.3v2M616.2 1016.8v2M617.7 758.6v2M617.7 769.1v2M617.7 778.1v2M617.7 788.6v3.5M617.7 797.6v2M617.7 808.1v3.5M617.7 817.1v3.5M617.7 958.3v3.5M617.7 965.8v2M617.7 977.8v2M617.7 985.3v2M617.7 997.3v2M617.7 1006.3v2M617.7 1016.8v2M619.2 758.6v2M619.2 769.1v2M619.2 778.1v2M619.2 788.6v2M619.2 797.6v2M619.2 808.1v2M619.2 817.1v3.5M619.2 958.3v3.5M619.2 965.8v3.5M619.2 977.8v2M619.2 985.3v3.5M619.2 997.3v2M619.2 1006.3v2M619.2 1016.8v2M620.7 758.6v2M620.7 769.1v2M620.7 778.1v2M620.7 788.6v2M620.7 797.6v2M620.7 808.1v2M620.7 817.1v3.5M620.7 958.3v3.5M620.7 967.3v2M620.7 977.8v2M620.7 986.8v2M620.7 997.3v2M620.7 1006.3v2M620.7 1016.8v2M622.2 758.6v2M622.2 769.1v2M622.2 778.1v2M622.2 788.6v2M622.2 797.6v2M622.2 808.1v2M622.2 815.6v3.5M622.2 956.8v3.5M622.2 967.3v2M622.2 977.8v2M622.2 986.8v2M622.2 997.3v2M622.2 1006.3v2M622.2 1016.8v2M623.7 758.6v2M623.7 769.1v2M623.7 778.1v2M623.7 788.6v3.5M623.7 797.6v2M623.7 808.1v3.5M623.7 815.6v3.5M623.7 956.8v3.5M623.7 967.3v2M623.7 977.8v2M623.7 986.8v2M623.7 997.3v2M623.7 1006.3v2M623.7 1016.8v2M625.2 758.6v2M625.2 769.1v2M625.2 778.1v2M625.2 790.1v2M625.2 797.6v2M625.2 809.6v2M625.2 815.6v3.5M625.2 956.8v3.5M625.2 965.8v3.5M625.2 977.8v2M625.2 985.3v3.5M625.2 997.3v2M625.2 1006.3v2M625.2 1016.8v2M626.7 758.6v2M626.7 769.1v2M626.7 778.1v2M626.7 790.1v2M626.7 797.6v2M626.7 809.6v3.5M626.7 815.6v3.5M626.7 956.8v3.5M626.7 965.8v2M626.7 977.8v2M626.7 985.3v2M626.7 997.3v2M626.7 1006.3v2M626.7 1016.8v2M628.2 758.6v2M628.2 769.1v2M628.2 778.1v2M628.2 790.1v2M628.2 797.6v2M628.2 809.6v3.5M628.2 815.6v5M628.2 956.8v3.5M628.2 965.8v2M628.2 977.8v2M628.2 985.3v2M628.2 997.3v2M628.2 1004.8v3.5M628.2 1016.8v2M629.7 758.6v2M629.7 769.1v3.5M629.7 778.1v2M629.7 790.1v3.5M629.7 797.6v2M629.7 811.1v9.5M629.7 955.3v5M629.7 964.3v2M629.7 977.8v2M629.7 983.8v3.5M629.7 997.3v2M629.7 1004.8v2M629.7 1016.8v2M631.2 758.6v2M631.2 770.6v2M631.2 778.1v2M631.2 791.6v2M631.2 797.6v2M631.2 812.6v8M631.2 955.3v5M631.2 962.8v3.5M631.2 976.3v3.5M631.2 983.8v2M631.2 997.3v2M631.2 1004.8v2M631.2 1016.8v2M632.7 758.6v2M632.7 770.6v2M632.7 778.1v2M632.7 791.6v3.5M632.7 797.6v3.5M632.7 814.1v6.5M632.7 955.3v9.5M632.7 976.3v2M632.7 982.3v3.5M632.7 997.3v2M632.7 1003.3v3.5M632.7 1016.8v2M634.2 758.6v2M634.2 770.6v3.5M634.2 778.1v2M634.2 793.1v8M634.2 815.6v3.5M634.2 955.3v8M634.2 976.3v2M634.2 982.3v2M634.2 997.3v3.5M634.2 1001.8v3.5M634.2 1016.8v2M635.7 758.6v3.5M635.7 772.1v2M635.7 778.1v3.5M635.7 793.1v8M635.7 955.3v6.5M635.7 974.8v3.5M635.7 980.8v3.5M635.7 997.3v8M635.7 1016.8v2M637.2 758.6v3.5M637.2 772.1v3.5M637.2 778.1v3.5M637.2 794.6v8M637.2 955.3v5M637.2 974.8v3.5M637.2 979.3v3.5M637.2 995.8v8M637.2 1016.8v2M638.7 760.1v2M638.7 773.6v2M638.7 779.6v2M638.7 796.1v6.5M638.7 973.3v3.5M638.7 977.8v5M638.7 995.8v8M638.7 1016.8v2M640.2 760.1v2M640.2 773.6v3.5M640.2 779.6v3.5M640.2 797.6v6.5M640.2 971.8v5M640.2 977.8v3.5M640.2 995.8v6.5M640.2 1015.3v3.5M640.2 1019.8v1.8M641.7 760.1v3.5M641.7 775.1v3.5M641.7 779.6v3.5M641.7 797.6v8M641.7 970.3v5M641.7 976.3v3.5M641.7 994.3v6.5M641.7 1015.3v6.3M643.2 761.6v2M643.2 775.1v3.5M643.2 781.1v3.5M643.2 799.1v8M643.2 968.8v5M643.2 974.8v5M643.2 994.3v6.5M643.2 1015.3v6.3M644.7 761.6v3.5M644.7 775.1v5M644.7 781.1v3.5M644.7 800.6v8M644.7 967.3v3.5M644.7 974.8v3.5M644.7 992.8v6.5M644.7 1015.3v6.3M646.2 755.8v1.8M646.2 763.1v2M646.2 776.6v3.5M646.2 782.6v3.5M646.2 802.1v8M646.2 965.8v3.5M646.2 973.3v3.5M646.2 992.8v6.5M646.2 1013.8v7.8M647.7 755.8v1.8M647.7 763.1v3.5M647.7 776.6v3.5M647.7 784.1v3.5M647.7 803.6v8M647.7 962.8v5M647.7 971.8v3.5M647.7 991.3v6.5M647.7 1013.8v6.5M649.2 755.8v1.8M649.2 764.6v3.5M649.2 778.1v3.5M649.2 785.6v3.5M649.2 805.1v8M649.2 959.8v5M649.2 970.3v3.5M649.2 989.8v8M649.2 1012.3v8M650.7 755.8v3.3M650.7 766.1v3.5M650.7 778.1v5M650.7 787.1v3.5M650.7 806.6v9.5M650.7 956.8v6.5M650.7 968.8v5M650.7 986.8v9.5M650.7 1010.8v8M652.2 757.1v2M652.2 767.6v2M652.2 779.6v3.5M652.2 788.6v3.5M652.2 808.1v9.5M652.2 955.3v6.5M652.2 967.3v5M652.2 985.3v11M652.2 1010.8v8M653.7 757.1v3.5M653.7 767.6v3.5M653.7 781.1v3.5M653.7 790.1v3.5M653.7 811.1v8M653.7 953.8v6.5M653.7 964.3v6.5M653.7 983.8v5M653.7 989.8v5M653.7 1009.3v8M655.2 757.1v3.5M655.2 769.1v3.5M655.2 781.1v5M655.2 791.6v3.5M655.2 814.1v5M655.2 952.3v15.5M655.2 980.8v5M655.2 989.8v3.5M655.2 1007.8v9.5M656.7 758.6v3.5M656.7 770.6v3.5M656.7 782.6v5M656.7 793.1v5M656.7 952.3v14M656.7 977.8v6.5M656.7 988.3v5M656.7 1006.3v9.5M658.2 758.6v5M658.2 772.1v3.5M658.2 784.1v5M658.2 794.6v5M658.2 952.3v12.5M658.2 976.3v5M658.2 988.3v3.5M658.2 1004.8v9.5M659.7 760.1v3.5M659.7 773.6v3.5M659.7 785.6v5M659.7 796.1v5M659.7 953.8v8M659.7 973.3v5M659.7 986.8v3.5M659.7 1003.3v11M661.2 761.6v3.5M661.2 773.6v5M661.2 787.1v6.5M661.2 797.6v6.5M661.2 955.3v3.5M661.2 968.8v6.5M661.2 985.3v3.5M661.2 1001.8v11M662.7 763.1v3.5M662.7 775.1v5M662.7 790.1v6.5M662.7 799.1v6.5M662.7 965.8v8M662.7 982.3v5M662.7 1000.3v11M664.2 764.6v3.5M664.2 776.6v5M664.2 791.6v17M664.2 961.3v9.5M664.2 980.8v5M664.2 998.8v11M665.7 766.1v5M665.7 776.6v6.5M665.7 794.6v15.5M665.7 958.3v9.5M665.7 977.8v6.5M665.7 997.3v11M667.2 755.8v1.8M667.2 767.6v5M667.2 778.1v5M667.2 797.6v14M667.2 956.8v9.5M667.2 974.8v6.5M667.2 995.8v11M668.7 755.8v1.8M668.7 769.1v6.5M668.7 778.1v6.5M668.7 802.1v9.5M668.7 956.8v9.5M668.7 971.8v8M668.7 994.3v11M670.2 755.8v3.3M670.2 772.1v14M670.2 956.8v18.5M670.2 992.8v9.5M671.7 755.8v3.3M671.7 773.6v14M671.7 956.8v15.5M671.7 991.3v9.5M673.2 755.8v3.3M673.2 776.6v12.5M673.2 959.8v6.5M673.2 988.3v9.5M674.7 757.1v2M674.7 779.6v11M674.7 986.8v8M676.2 782.6v8M676.2 985.3v8M677.7 785.6v6.5M677.7 983.8v6.5M679.2 790.1v2M679.2 980.8v6.5M680.7 979.3v5M682.2 976.3v5M683.7 974.8v2M688.2 772.1v8M689.7 772.1v12.5M691.2 772.1v17M691.2 992.8v8M692.7 773.6v21.5M692.7 985.3v15.5M694.2 775.1v24.5M694.2 979.3v21.5M695.7 775.1v30.5M695.7 842.6v32M695.7 902.7v32M695.7 974.8v26M697.2 776.6v32M697.2 835.1v6.5M697.2 935.8v6.5M697.2 971.8v29M698.7 778.1v33.5M698.7 832.1v3.5M698.7 941.8v3.5M698.7 968.8v32M700.2 779.6v32M700.2 829.1v3.5M700.2 944.8v3.5M700.2 967.3v50.1M701.7 782.6v27.5M701.7 827.6v2M701.7 947.8v2M701.7 968.8v48.6M703.2 785.6v23M703.2 824.6v2M703.2 950.8v2M703.2 970.3v45.6M704.7 788.6v18.5M704.7 823.1v2M704.7 952.3v2M704.7 973.3v41M706.2 794.6v8M706.2 982.3v30.5M707.7 818.6v2M707.7 988.3v21.5M709.2 817.1v2M709.2 958.3v2M709.2 989.8v17M710.7 959.8v2M710.7 994.3v6.5M715.2 809.6v2M716.7 967.3v2M721.2 802.1v2M722.7 974.8v2M728.7 793.1v2M728.7 982.3v2M733.2 1010.8v3.5M734.7 1007.8v13.8M736.2 1009.3v12.3M737.7 1010.8v10.8M739.2 1010.8v10.8M740.7 1013.8v7.8M742.2 998.8v2M742.2 1015.3v6.3M743.7 1016.8v4.8M745.2 1019.8v1.8"/>
<path stroke="#0027ff" d="M491.7 1009.3v2M499.2 1000.3v2M506.7 784.1v2M506.7 991.3v2M512.7 791.6v2M518.7 799.1v2M520.2 974.8v2M524.7 806.6v2M526.2 967.3v2M529.2 812.6v2M530.7 814.1v2M530.7 961.3v2M532.2 959.8v2M535.2 820.1v2M535.2 955.3v2M536.7 821.6v2M536.7 953.8v2M538.2 824.6v2M538.2 950.8v2M539.7 826.1v2M539.7 949.3v2M541.2 829.1v2M541.2 946.3v2M542.7 832.1v3.5M542.7 941.8v3.5M544.2 835.1v6.5M544.2 935.8v6.5M545.7 841.1v17M545.7 919.2v17M547.2 874.2v29M568.2 839.6v98.1M569.7 839.6v2M569.7 935.8v2M571.2 839.6v2M571.2 935.8v2M572.7 839.6v2M572.7 935.8v2M574.2 805.1v6.5M574.2 839.6v2M574.2 935.8v2M574.2 998.8v3.5M575.7 802.1v9.5M575.7 839.6v2M575.7 935.8v2M575.7 998.8v6.5M577.2 799.1v11M577.2 839.6v2M577.2 935.8v2M577.2 1000.3v6.5M578.7 796.1v11M578.7 839.6v2M578.7 935.8v2M578.7 1000.3v9.5M580.2 794.6v9.5M580.2 839.6v2M580.2 935.8v2M580.2 977.8v3.5M580.2 1001.8v9.5M581.7 791.6v11M581.7 839.6v2M581.7 935.8v2M581.7 979.3v5M581.7 1003.3v9.5M583.2 790.1v9.5M583.2 839.6v2M583.2 935.8v2M583.2 980.8v6.5M583.2 1003.3v11M584.7 788.6v8M584.7 839.6v2M584.7 935.8v2M584.7 982.3v6.5M584.7 1004.8v9.5M586.2 788.6v5M586.2 839.6v2M586.2 935.8v2M586.2 983.8v6.5M586.2 1006.3v9.5M587.7 787.1v5M587.7 839.6v2M587.7 935.8v2M587.7 985.3v6.5M587.7 1007.8v9.5M589.2 787.1v2M589.2 812.6v5M589.2 839.6v2M589.2 935.8v2M589.2 986.8v6.5M589.2 1009.3v8M590.7 809.6v6.5M590.7 839.6v2M590.7 935.8v2M590.7 988.3v6.5M590.7 1009.3v9.5M592.2 808.1v6.5M592.2 839.6v2M592.2 935.8v2M592.2 989.8v5M592.2 1010.8v8M593.7 806.6v6.5M593.7 839.6v2M593.7 935.8v2M593.7 991.3v5M593.7 1012.3v8M595.2 805.1v5M595.2 839.6v2M595.2 935.8v2M595.2 992.8v5M595.2 1013.8v6.5M596.7 803.6v5M596.7 839.6v2M596.7 935.8v2M596.7 994.3v3.5M596.7 1013.8v6.5M598.2 802.1v5M598.2 839.6v2M598.2 935.8v2M598.2 995.8v2M598.2 1015.3v6.3M599.7 802.1v2M599.7 839.6v2M599.7 935.8v2M599.7 995.8v3.5M599.7 1015.3v6.3M601.2 800.6v2M601.2 839.6v2M601.2 935.8v2M601.2 997.3v2M601.2 1016.8v4.8M602.7 757.1v2M602.7 799.1v2M602.7 839.6v2M602.7 935.8v2M602.7 997.3v3.5M602.7 1016.8v4.8M604.2 755.8v3.3M604.2 799.1v2M604.2 839.6v2M604.2 935.8v2M604.2 997.3v5M604.2 1016.8v4.8M605.7 755.8v3.3M605.7 797.6v2M605.7 839.6v2M605.7 935.8v2M605.7 998.8v3.5M605.7 1018.3v3.3M607.2 755.8v3.3M607.2 796.1v3.5M607.2 839.6v2M607.2 935.8v2M607.2 998.8v5M607.2 1018.3v3.3M608.7 755.8v3.3M608.7 775.1v2M608.7 794.6v5M608.7 839.6v2M608.7 935.8v2M608.7 998.8v5M608.7 1018.3v3.3M610.2 755.8v3.3M610.2 773.6v5M610.2 794.6v5M610.2 839.6v2M610.2 935.8v2M610.2 979.3v3.5M610.2 998.8v6.5M610.2 1018.3v3.3M611.7 755.8v3.3M611.7 772.1v6.5M611.7 793.1v5M611.7 814.1v3.5M611.7 839.6v2M611.7 935.8v2M611.7 979.3v5M611.7 998.8v6.5M611.7 1018.3v3.3M613.2 755.8v3.3M613.2 772.1v6.5M613.2 793.1v5M613.2 812.6v5M613.2 839.6v2M613.2 935.8v2M613.2 979.3v5M613.2 998.8v6.5M613.2 1018.3v2M614.7 757.1v2M614.7 772.1v6.5M614.7 791.6v6.5M614.7 811.1v6.5M614.7 839.6v2M614.7 935.8v2M614.7 961.3v3.5M614.7 979.3v6.5M614.7 998.8v8M614.7 1018.3v2M616.2 757.1v2M616.2 770.6v8M616.2 791.6v6.5M616.2 811.1v6.5M616.2 839.6v2M616.2 935.8v2M616.2 961.3v3.5M616.2 979.3v6.5M616.2 998.8v8M616.2 1018.3v2M617.7 757.1v2M617.7 770.6v3.5M617.7 775.1v3.5M617.7 791.6v6.5M617.7 811.1v6.5M617.7 839.6v2M617.7 935.8v2M617.7 961.3v5M617.7 979.3v6.5M617.7 998.8v3.5M617.7 1003.3v3.5M617.7 1018.3v2M619.2 757.1v2M619.2 770.6v3.5M619.2 775.1v3.5M619.2 790.1v8M619.2 809.6v8M619.2 839.6v2M619.2 935.8v2M619.2 961.3v5M619.2 979.3v6.5M619.2 998.8v3.5M619.2 1004.8v2M619.2 1018.3v2M620.7 757.1v2M620.7 770.6v2M620.7 775.1v3.5M620.7 790.1v8M620.7 809.6v8M620.7 839.6v2M620.7 935.8v2M620.7 961.3v6.5M620.7 979.3v8M620.7 998.8v3.5M620.7 1004.8v2M620.7 1018.3v2M622.2 757.1v2M622.2 770.6v2M622.2 775.1v3.5M622.2 790.1v8M622.2 809.6v6.5M622.2 839.6v2M622.2 935.8v2M622.2 959.8v8M622.2 979.3v8M622.2 998.8v3.5M622.2 1004.8v2M622.2 1018.3v2M623.7 757.1v2M623.7 770.6v2M623.7 775.1v3.5M623.7 791.6v6.5M623.7 811.1v5M623.7 839.6v2M623.7 935.8v2M623.7 959.8v8M623.7 979.3v8M623.7 998.8v3.5M623.7 1003.3v3.5M623.7 1018.3v2M625.2 757.1v2M625.2 770.6v3.5M625.2 775.1v3.5M625.2 791.6v6.5M625.2 811.1v5M625.2 839.6v2M625.2 935.8v2M625.2 959.8v6.5M625.2 979.3v6.5M625.2 998.8v3.5M625.2 1003.3v3.5M625.2 1018.3v2M626.7 757.1v2M626.7 770.6v8M626.7 791.6v6.5M626.7 812.6v3.5M626.7 839.6v2M626.7 935.8v2M626.7 959.8v6.5M626.7 979.3v6.5M626.7 998.8v8M626.7 1018.3v2M628.2 757.1v2M628.2 770.6v8M628.2 791.6v6.5M628.2 812.6v3.5M628.2 839.6v2M628.2 935.8v2M628.2 959.8v6.5M628.2 979.3v6.5M628.2 998.8v6.5M628.2 1018.3v2M629.7 757.1v2M629.7 772.1v6.5M629.7 793.1v5M629.7 839.6v2M629.7 935.8v2M629.7 959.8v5M629.7 979.3v5M629.7 998.8v6.5M629.7 1018.3v3.3M631.2 755.8v3.3M631.2 772.1v6.5M631.2 793.1v5M631.2 839.6v2M631.2 935.8v2M631.2 959.8v3.5M631.2 979.3v5M631.2 998.8v6.5M631.2 1018.3v3.3M632.7 755.8v3.3M632.7 772.1v6.5M632.7 794.6v3.5M632.7 839.6v2M632.7 935.8v2M632.7 977.8v5M632.7 998.8v5M632.7 1018.3v3.3M634.2 755.8v3.3M634.2 773.6v5M634.2 839.6v2M634.2 935.8v2M634.2 977.8v5M634.2 1000.3v2M634.2 1018.3v3.3M635.7 755.8v3.3M635.7 773.6v5M635.7 839.6v2M635.7 935.8v2M635.7 977.8v3.5M635.7 1018.3v3.3M637.2 755.8v3.3M637.2 775.1v3.5M637.2 839.6v2M637.2 935.8v2M637.2 977.8v2M637.2 1018.3v3.3M638.7 755.8v4.8M638.7 775.1v5M638.7 839.6v2M638.7 935.8v2M638.7 976.3v2M638.7 1018.3v3.3M640.2 755.8v4.8M640.2 776.6v3.5M640.2 839.6v2M640.2 935.8v2M640.2 976.3v2M640.2 1018.3v2M641.7 755.8v4.8M641.7 778.1v2M641.7 839.6v2M641.7 935.8v2M641.7 974.8v2M643.2 755.8v6.3M643.2 778.1v3.5M643.2 839.6v2M643.2 935.8v2M643.2 973.3v2M644.7 755.8v6.3M644.7 779.6v2M644.7 839.6v2M644.7 935.8v2M644.7 970.3v5M646.2 757.1v6.5M646.2 779.6v3.5M646.2 839.6v2M646.2 935.8v2M646.2 968.8v5M647.7 757.1v6.5M647.7 779.6v5M647.7 839.6v2M647.7 935.8v2M647.7 967.3v5M649.2 757.1v8M649.2 781.1v5M649.2 839.6v2M649.2 935.8v2M649.2 964.3v6.5M650.7 758.6v8M650.7 782.6v5M650.7 839.6v2M650.7 935.8v2M650.7 962.8v6.5M652.2 758.6v9.5M652.2 782.6v6.5M652.2 839.6v2M652.2 935.8v2M652.2 961.3v6.5M653.7 760.1v8M653.7 784.1v6.5M653.7 839.6v2M653.7 935.8v2M653.7 959.8v5M653.7 988.3v2M655.2 760.1v9.5M655.2 785.6v6.5M655.2 839.6v2M655.2 935.8v2M655.2 985.3v5M656.7 761.6v9.5M656.7 787.1v6.5M656.7 839.6v2M656.7 935.8v2M656.7 983.8v5M658.2 763.1v9.5M658.2 788.6v6.5M658.2 839.6v2M658.2 935.8v2M658.2 980.8v8M659.7 763.1v11M659.7 790.1v6.5M659.7 839.6v2M659.7 935.8v2M659.7 977.8v9.5M661.2 764.6v9.5M661.2 793.1v5M661.2 839.6v2M661.2 935.8v2M661.2 974.8v11M662.7 766.1v9.5M662.7 796.1v3.5M662.7 839.6v2M662.7 935.8v2M662.7 973.3v9.5M664.2 767.6v9.5M664.2 839.6v2M664.2 935.8v2M664.2 970.3v11M665.7 770.6v6.5M665.7 839.6v2M665.7 935.8v2M665.7 967.3v11M667.2 772.1v6.5M667.2 839.6v2M667.2 935.8v2M667.2 965.8v9.5M668.7 775.1v3.5M668.7 839.6v2M668.7 935.8v2M668.7 965.8v6.5M670.2 839.6v2M670.2 935.8v2M671.7 839.6v2M671.7 935.8v2M673.2 839.6v2M673.2 935.8v2M674.7 839.6v98.1M695.7 874.2v29M697.2 841.1v17M697.2 919.2v17M698.7 835.1v6.5M698.7 935.8v6.5M700.2 832.1v3.5M700.2 941.8v3.5M701.7 829.1v2M701.7 946.3v2M703.2 826.1v2M703.2 949.3v2M704.7 824.6v2M704.7 950.8v2M706.2 821.6v2M706.2 953.8v2M707.7 820.1v2M707.7 955.3v2M710.7 815.6v2M712.2 814.1v2M712.2 961.3v2M713.7 962.8v2M716.7 808.1v2M718.2 968.8v2M722.7 800.6v2M724.2 976.3v2M730.2 983.8v2M736.2 784.1v2M736.2 991.3v2M743.7 775.1v2M751.2 766.1v2"/>
<path stroke="#003aff" d="M491.7 766.1v2M499.2 775.1v2M505.2 992.8v2M512.7 983.8v2M517.2 797.6v2M518.7 976.3v2M523.2 805.1v2M524.7 968.8v2M527.7 811.1v2M529.2 962.8v2M532.2 817.1v2M533.7 818.6v2M533.7 956.8v2M535.2 821.6v2M536.7 823.1v2M536.7 952.3v2M538.2 826.1v2M538.2 949.3v2M539.7 827.6v3.5M539.7 946.3v3.5M541.2 830.6v3.5M541.2 943.3v3.5M542.7 835.1v5M542.7 937.3v5M544.2 841.1v11M544.2 923.7v12.5M545.7 857.7v62.1M569.7 841.1v95.1M613.2 1019.8v1.8M614.7 755.8v1.8M614.7 1019.8v1.8M616.2 755.8v1.8M616.2 1019.8v1.8M617.7 755.8v1.8M617.7 773.6v2M617.7 1001.8v2M617.7 1019.8v1.8M619.2 755.8v1.8M619.2 773.6v2M619.2 1001.8v3.5M619.2 1019.8v1.8M620.7 755.8v1.8M620.7 772.1v3.5M620.7 1001.8v3.5M620.7 1019.8v1.8M622.2 755.8v1.8M622.2 772.1v3.5M622.2 1001.8v3.5M622.2 1019.8v1.8M623.7 755.8v1.8M623.7 772.1v3.5M623.7 1001.8v2M623.7 1019.8v1.8M625.2 755.8v1.8M625.2 773.6v2M625.2 1001.8v2M625.2 1019.8v1.8M626.7 755.8v1.8M626.7 1019.8v1.8M628.2 755.8v1.8M628.2 1019.8v1.8M629.7 755.8v1.8M673.2 841.1v95.1M697.2 857.7v62.1M698.7 841.1v12.5M698.7 925.2v11M700.2 835.1v5M700.2 937.3v5M701.7 830.6v3.5M701.7 943.3v3.5M703.2 827.6v3.5M703.2 946.3v3.5M704.7 826.1v2M704.7 949.3v2M706.2 823.1v2M706.2 952.3v2M707.7 953.8v2M709.2 818.6v2M709.2 956.8v2M710.7 958.3v2M713.7 812.6v2M715.2 964.3v2M718.2 806.6v2M719.7 970.3v2M724.2 799.1v2M725.7 977.8v2M730.2 791.6v2M737.7 782.6v2M743.7 1000.3v2M751.2 1009.3v2"/>
<path stroke="#004dff" d="M497.7 1001.8v2M505.2 782.6v2M511.2 790.1v2M511.2 985.3v2M517.2 977.8v2M521.7 803.6v2M523.2 970.3v2M526.2 809.6v2M527.7 964.3v2M530.7 815.6v2M530.7 959.8v2M532.2 958.3v2M533.7 820.1v2M533.7 955.3v2M535.2 953.8v2M536.7 824.6v2M536.7 950.8v2M538.2 827.6v2M538.2 947.8v2M539.7 830.6v3.5M539.7 943.3v3.5M541.2 833.6v5M541.2 938.8v5M542.7 839.6v9.5M542.7 928.2v9.5M544.2 851.7v72.6M698.7 853.2v72.6M700.2 839.6v9.5M700.2 928.2v9.5M701.7 833.6v5M701.7 938.8v5M703.2 830.6v3.5M703.2 943.3v3.5M704.7 827.6v2M704.7 947.8v2M706.2 824.6v2M706.2 950.8v2M707.7 821.6v2M709.2 820.1v2M709.2 955.3v2M710.7 817.1v2M712.2 815.6v2M712.2 959.8v2M715.2 811.1v2M716.7 965.8v2M719.7 805.1v2M721.2 971.8v2M725.7 797.6v2M731.7 790.1v2M731.7 985.3v2M737.7 992.8v2M745.2 773.6v2"/>
<path stroke="#005fff" d="M497.7 773.6v2M503.7 994.3v2M509.7 788.6v2M509.7 986.8v2M515.7 796.1v2M515.7 979.3v2M520.2 802.1v2M521.7 971.8v2M524.7 808.1v2M526.2 965.8v2M529.2 814.1v2M529.2 961.3v2M532.2 818.6v2M532.2 956.8v2M533.7 821.6v2M535.2 823.1v2M535.2 952.3v2M536.7 826.1v2M536.7 949.3v2M538.2 829.1v3.5M538.2 944.8v3.5M539.7 833.6v3.5M539.7 940.3v3.5M541.2 838.1v8M541.2 931.2v8M542.7 848.7v80.1M571.2 841.1v95.1M671.7 841.1v95.1M700.2 848.7v80.1M701.7 838.1v8M701.7 931.2v8M703.2 833.6v3.5M703.2 940.3v3.5M704.7 829.1v3.5M704.7 944.8v3.5M706.2 826.1v2M706.2 949.3v2M707.7 823.1v2M707.7 952.3v2M709.2 953.8v2M710.7 818.6v2M710.7 956.8v2M713.7 814.1v2M713.7 961.3v2M716.7 809.6v2M718.2 967.3v2M721.2 803.6v2M722.7 973.3v2M727.2 796.1v2M727.2 979.3v2M733.2 788.6v2M733.2 986.8v2M739.2 781.1v2M745.2 1001.8v2"/>
<path stroke="#0072ff" d="M496.2 1003.3v2M503.7 781.1v2M514.2 794.6v2M514.2 980.8v2M518.7 800.6v2M520.2 973.3v2M523.2 806.6v2M524.7 967.3v2M527.7 812.6v2M527.7 962.8v2M530.7 817.1v2M530.7 958.3v2M532.2 820.1v2M532.2 955.3v2M533.7 823.1v2M533.7 953.8v2M535.2 824.6v3.5M535.2 950.8v2M536.7 827.6v3.5M536.7 946.3v3.5M538.2 832.1v3.5M538.2 941.8v3.5M539.7 836.6v6.5M539.7 932.8v8M541.2 845.7v86.1M572.7 841.1v95.1M670.2 841.1v95.1M701.7 845.7v86.1M703.2 836.6v8M703.2 934.3v6.5M704.7 832.1v3.5M704.7 941.8v3.5M706.2 827.6v3.5M706.2 946.3v3.5M707.7 824.6v2M707.7 949.3v3.5M709.2 821.6v2M709.2 952.3v2M710.7 820.1v2M710.7 955.3v2M712.2 817.1v2M712.2 958.3v2M715.2 812.6v2M715.2 962.8v2M718.2 808.1v2M719.7 968.8v2M722.7 802.1v2M724.2 974.8v2M728.7 794.6v2M728.7 980.8v2M739.2 994.3v2M746.7 772.1v2"/>
<path stroke="#0084ff" d="M496.2 772.1v2M502.2 779.6v2M502.2 995.8v2M508.2 787.1v2M508.2 988.3v2M518.7 974.8v2M521.7 805.1v2M523.2 968.8v2M526.2 811.1v2M526.2 964.3v2M527.7 814.1v2M529.2 815.6v2M529.2 959.8v2M530.7 818.6v2M530.7 956.8v2M532.2 821.6v2M533.7 824.6v2M533.7 950.8v3.5M535.2 827.6v2M535.2 947.8v3.5M536.7 830.6v3.5M536.7 943.3v3.5M538.2 835.1v6.5M538.2 935.8v6.5M539.7 842.6v24.5M539.7 910.2v23M574.2 841.1v2M574.2 934.3v2M668.7 841.1v2M668.7 934.3v2M703.2 844.1v23M703.2 910.2v24.5M704.7 835.1v6.5M704.7 935.8v6.5M706.2 830.6v3.5M706.2 943.3v3.5M707.7 826.1v3.5M707.7 947.8v2M709.2 823.1v3.5M709.2 950.8v2M710.7 953.8v2M712.2 818.6v2M712.2 956.8v2M713.7 815.6v2M713.7 959.8v2M715.2 961.3v2M716.7 811.1v2M716.7 964.3v2M719.7 806.6v2M721.2 970.3v2M724.2 800.6v2M734.7 787.1v2M734.7 988.3v2M740.7 779.6v2M740.7 995.8v2M746.7 1003.3v2"/>
<path stroke="#0097ff" d="M512.7 793.1v2M512.7 982.3v2M517.2 799.1v2M517.2 976.3v2M520.2 803.6v2M521.7 970.3v2M524.7 809.6v2M524.7 965.8v2M526.2 812.6v2M527.7 961.3v2M529.2 817.1v2M529.2 958.3v2M530.7 820.1v2M532.2 823.1v2M532.2 952.3v3.5M533.7 826.1v2M533.7 949.3v2M535.2 829.1v3.5M535.2 944.8v3.5M536.7 833.6v5M536.7 938.8v5M538.2 841.1v14M538.2 922.2v14M539.7 866.7v44M574.2 842.6v92.1M575.7 841.1v2M575.7 934.3v2M577.2 841.1v2M577.2 934.3v2M578.7 841.1v2M578.7 934.3v2M580.2 841.1v2M580.2 934.3v2M581.7 841.1v2M581.7 934.3v2M583.2 841.1v2M583.2 934.3v2M584.7 841.1v2M584.7 934.3v2M586.2 841.1v2M586.2 934.3v2M587.7 841.1v2M587.7 934.3v2M589.2 841.1v2M589.2 934.3v2M590.7 841.1v2M590.7 934.3v2M592.2 841.1v2M592.2 934.3v2M593.7 841.1v2M593.7 934.3v2M595.2 841.1v2M595.2 934.3v2M596.7 841.1v2M596.7 934.3v2M598.2 841.1v2M598.2 934.3v2M599.7 841.1v2M599.7 934.3v2M601.2 841.1v2M601.2 934.3v2M602.7 841.1v2M602.7 934.3v2M604.2 841.1v2M604.2 934.3v2M605.7 841.1v2M605.7 934.3v2M607.2 841.1v2M607.2 934.3v2M608.7 841.1v2M608.7 934.3v2M610.2 841.1v2M610.2 934.3v2M611.7 841.1v2M611.7 934.3v2M613.2 841.1v2M613.2 934.3v2M614.7 841.1v2M614.7 934.3v2M616.2 841.1v2M616.2 934.3v2M617.7 841.1v2M617.7 934.3v2M619.2 841.1v2M619.2 934.3v2M620.7 841.1v2M620.7 934.3v2M622.2 841.1v2M622.2 934.3v2M623.7 841.1v2M623.7 934.3v2M625.2 841.1v2M625.2 934.3v2M626.7 841.1v2M626.7 934.3v2M628.2 841.1v2M628.2 934.3v2M629.7 841.1v2M629.7 934.3v2M631.2 841.1v2M631.2 934.3v2M632.7 841.1v2M632.7 934.3v2M634.2 841.1v2M634.2 934.3v2M635.7 841.1v2M635.7 934.3v2M637.2 841.1v2M637.2 934.3v2M638.7 841.1v2M638.7 934.3v2M640.2 841.1v2M640.2 934.3v2M641.7 841.1v2M641.7 934.3v2M643.2 841.1v2M643.2 934.3v2M644.7 841.1v2M644.7 934.3v2M646.2 841.1v2M646.2 934.3v2M647.7 841.1v2M647.7 934.3v2M649.2 841.1v2M649.2 934.3v2M650.7 841.1v2M650.7 934.3v2M652.2 841.1v2M652.2 934.3v2M653.7 841.1v2M653.7 934.3v2M655.2 841.1v2M655.2 934.3v2M656.7 841.1v2M656.7 934.3v2M658.2 841.1v2M658.2 934.3v2M659.7 841.1v2M659.7 934.3v2M661.2 841.1v2M661.2 934.3v2M662.7 841.1v2M662.7 934.3v2M664.2 841.1v2M664.2 934.3v2M665.7 841.1v2M665.7 934.3v2M667.2 841.1v2M667.2 934.3v2M668.7 842.6v92.1M703.2 866.7v44M704.7 841.1v14M704.7 922.2v14M706.2 833.6v5M706.2 938.8v5M707.7 829.1v3.5M707.7 944.8v3.5M709.2 826.1v2M709.2 949.3v2M710.7 821.6v3.5M710.7 952.3v2M712.2 955.3v2M713.7 817.1v2M713.7 958.3v2M715.2 814.1v2M716.7 962.8v2M718.2 809.6v2M718.2 965.8v2M721.2 805.1v2M722.7 971.8v2M725.7 799.1v2M725.7 976.3v2M730.2 793.1v2M730.2 982.3v2"/>
<path stroke="#00a9ff" d="M494.7 770.6v2M494.7 1004.8v2M500.7 778.1v2M500.7 997.3v2M506.7 785.6v2M506.7 989.8v2M511.2 791.6v2M511.2 983.8v2M515.7 797.6v2M515.7 977.8v2M520.2 971.8v2M523.2 808.1v2M523.2 967.3v2M526.2 962.8v2M527.7 815.6v2M527.7 959.8v2M529.2 818.6v2M530.7 821.6v2M530.7 953.8v3.5M532.2 824.6v2M532.2 950.8v2M533.7 827.6v3.5M533.7 946.3v3.5M535.2 832.1v5M535.2 940.3v5M536.7 838.1v11M536.7 928.2v11M538.2 854.7v68.1M575.7 842.6v92.1M667.2 842.6v92.1M704.7 854.7v68.1M706.2 838.1v11M706.2 928.2v11M707.7 832.1v5M707.7 940.3v5M709.2 827.6v3.5M709.2 946.3v3.5M710.7 824.6v2M710.7 950.8v2M712.2 820.1v3.5M712.2 953.8v2M713.7 956.8v2M715.2 815.6v2M715.2 959.8v2M716.7 812.6v2M719.7 808.1v2M719.7 967.3v2M722.7 803.6v2M727.2 797.6v2M727.2 977.8v2M731.7 791.6v2M731.7 983.8v2M736.2 785.6v2M736.2 989.8v2M742.2 778.1v2M742.2 997.3v2M748.2 770.6v2M748.2 1004.8v2"/>
<path stroke="#00bcff" d="M505.2 991.3v2M514.2 796.1v2M518.7 802.1v2M518.7 973.3v2M521.7 806.6v2M521.7 968.8v2M524.7 811.1v2M524.7 964.3v2M526.2 814.1v2M526.2 961.3v2M527.7 817.1v2M529.2 820.1v2M529.2 956.8v2M530.7 823.1v2M530.7 952.3v2M532.2 826.1v3.5M532.2 947.8v3.5M533.7 830.6v3.5M533.7 943.3v3.5M535.2 836.6v8M535.2 932.8v8M536.7 848.7v80.1M577.2 842.6v92.1M665.7 842.6v92.1M706.2 848.7v80.1M707.7 836.6v8M707.7 932.8v8M709.2 830.6v3.5M709.2 943.3v3.5M710.7 826.1v3.5M710.7 947.8v3.5M712.2 823.1v2M712.2 952.3v2M713.7 818.6v2M713.7 955.3v2M715.2 958.3v2M716.7 814.1v2M716.7 961.3v2M718.2 811.1v2M718.2 964.3v2M721.2 806.6v2M721.2 968.8v2M724.2 802.1v2M724.2 973.3v2M728.7 979.3v2M737.7 784.1v2"/>
<path stroke="#00ceff" d="M493.2 1006.3v2M499.2 776.6v2M499.2 998.8v2M505.2 784.1v2M509.7 790.1v2M509.7 985.3v2M514.2 979.3v2M517.2 800.6v2M517.2 974.8v2M520.2 805.1v2M520.2 970.3v2M523.2 809.6v2M523.2 965.8v2M524.7 812.6v2M526.2 815.6v2M527.7 818.6v2M527.7 958.3v2M529.2 821.6v2M529.2 953.8v3.5M530.7 824.6v3.5M530.7 950.8v2M532.2 829.1v3.5M532.2 944.8v3.5M533.7 833.6v8M533.7 935.8v8M535.2 844.1v89.1M578.7 842.6v3.5M578.7 931.2v3.5M580.2 842.6v2M580.2 932.8v2M662.7 842.6v2M662.7 932.8v2M664.2 842.6v3.5M664.2 931.2v3.5M707.7 844.1v89.1M709.2 833.6v8M709.2 935.8v8M710.7 829.1v3.5M710.7 944.8v3.5M712.2 824.6v2M712.2 949.3v3.5M713.7 820.1v3.5M713.7 953.8v2M715.2 817.1v2M715.2 956.8v2M716.7 959.8v2M718.2 962.8v2M719.7 809.6v2M719.7 965.8v2M722.7 805.1v2M722.7 970.3v2M725.7 800.6v2M725.7 974.8v2M728.7 796.1v2M733.2 790.1v2M733.2 985.3v2M737.7 991.3v2M743.7 776.6v2M743.7 998.8v2M749.7 769.1v2"/>
<path stroke="#00e1ff" d="M493.2 769.1v2M503.7 782.6v2M503.7 992.8v2M508.2 788.6v2M508.2 986.8v2M512.7 794.6v2M512.7 980.8v2M515.7 799.1v2M518.7 803.6v2M521.7 808.1v2M521.7 967.3v2M523.2 811.1v2M524.7 962.8v2M526.2 959.8v2M527.7 820.1v2M527.7 956.8v2M529.2 823.1v2M529.2 952.3v2M530.7 827.6v3.5M530.7 946.3v5M532.2 832.1v6.5M532.2 938.8v6.5M533.7 841.1v95.1M578.7 845.7v86.1M580.2 844.1v2M580.2 931.2v2M581.7 842.6v2M581.7 932.8v2M583.2 842.6v2M583.2 932.8v2M659.7 842.6v2M659.7 932.8v2M661.2 842.6v2M661.2 932.8v2M662.7 844.1v2M662.7 931.2v2M664.2 845.7v86.1M709.2 841.1v95.1M710.7 832.1v6.5M710.7 938.8v6.5M712.2 826.1v5M712.2 946.3v3.5M713.7 823.1v2M713.7 952.3v2M715.2 818.6v2M715.2 955.3v2M716.7 815.6v2M718.2 812.6v2M719.7 964.3v2M721.2 808.1v2M721.2 967.3v2M724.2 971.8v2M727.2 976.3v2M730.2 794.6v2M730.2 980.8v2M734.7 788.6v2M734.7 986.8v2M739.2 782.6v2M739.2 992.8v2M749.7 1006.3v2"/>
<path stroke="#00f3ff" d="M497.7 1000.3v2M511.2 793.1v2M511.2 982.3v2M515.7 976.3v2M518.7 971.8v2M520.2 806.6v2M520.2 968.8v2M523.2 964.3v2M524.7 814.1v2M524.7 961.3v2M526.2 817.1v2M526.2 958.3v2M527.7 821.6v2M527.7 953.8v3.5M529.2 824.6v3.5M529.2 949.3v3.5M530.7 830.6v5M530.7 941.8v5M532.2 838.1v18.5M532.2 920.7v18.5M580.2 845.7v86.1M581.7 844.1v2M581.7 931.2v2M584.7 842.6v2M584.7 932.8v2M586.2 842.6v2M586.2 932.8v2M587.7 842.6v2M587.7 932.8v2M589.2 842.6v2M589.2 932.8v2M590.7 842.6v2M590.7 932.8v2M592.2 842.6v2M592.2 932.8v2M593.7 842.6v2M593.7 932.8v2M595.2 842.6v2M595.2 932.8v2M596.7 842.6v2M596.7 932.8v2M598.2 842.6v2M598.2 932.8v2M599.7 842.6v2M599.7 932.8v2M601.2 842.6v2M601.2 932.8v2M602.7 842.6v2M602.7 932.8v2M604.2 842.6v2M604.2 932.8v2M605.7 842.6v2M605.7 932.8v2M607.2 842.6v2M607.2 932.8v2M608.7 842.6v2M608.7 932.8v2M610.2 842.6v2M610.2 932.8v2M611.7 842.6v2M611.7 932.8v2M613.2 842.6v2M613.2 932.8v2M614.7 842.6v2M614.7 932.8v2M616.2 842.6v2M616.2 932.8v2M617.7 842.6v2M617.7 932.8v2M619.2 842.6v2M619.2 932.8v2M620.7 842.6v2M620.7 932.8v2M622.2 842.6v2M622.2 932.8v2M623.7 842.6v2M623.7 932.8v2M625.2 842.6v2M625.2 932.8v2M626.7 842.6v2M626.7 932.8v2M628.2 842.6v2M628.2 932.8v2M629.7 842.6v2M629.7 932.8v2M631.2 842.6v2M631.2 932.8v2M632.7 842.6v2M632.7 932.8v2M634.2 842.6v2M634.2 932.8v2M635.7 842.6v2M635.7 932.8v2M637.2 842.6v2M637.2 932.8v2M638.7 842.6v2M638.7 932.8v2M640.2 842.6v2M640.2 932.8v2M641.7 842.6v2M641.7 932.8v2M643.2 842.6v2M643.2 932.8v2M644.7 842.6v2M644.7 932.8v2M646.2 842.6v2M646.2 932.8v2M647.7 842.6v2M647.7 932.8v2M649.2 842.6v2M649.2 932.8v2M650.7 842.6v2M650.7 932.8v2M652.2 842.6v2M652.2 932.8v2M653.7 842.6v2M653.7 932.8v2M655.2 842.6v2M655.2 932.8v2M656.7 842.6v2M656.7 932.8v2M658.2 842.6v2M658.2 932.8v2M661.2 844.1v2M661.2 931.2v2M662.7 845.7v86.1M710.7 838.1v18.5M710.7 920.7v18.5M712.2 830.6v5M712.2 941.8v5M713.7 824.6v3.5M713.7 949.3v3.5M715.2 820.1v3.5M715.2 953.8v2M716.7 817.1v2M716.7 958.3v2M718.2 814.1v2M718.2 961.3v2M719.7 811.1v2M722.7 806.6v2M722.7 968.8v2M724.2 803.6v2M727.2 799.1v2M731.7 793.1v2M731.7 982.3v2M745.2 775.1v2"/>
<path stroke="#07fff8" d="M491.7 767.6v2M491.7 1007.8v2M497.7 775.1v2M502.2 781.1v2M502.2 994.3v2M506.7 787.1v2M506.7 988.3v2M514.2 797.6v2M514.2 977.8v2M517.2 802.1v2M517.2 973.3v2M518.7 805.1v2M521.7 809.6v2M521.7 965.8v2M523.2 812.6v2M523.2 962.8v2M524.7 815.6v2M524.7 959.8v2M526.2 818.6v3.5M526.2 955.3v3.5M527.7 823.1v3.5M527.7 950.8v3.5M529.2 827.6v5M529.2 944.8v5M530.7 835.1v12.5M530.7 929.7v12.5M532.2 856.2v65.1M581.7 845.7v86.1M583.2 844.1v2M583.2 931.2v2M584.7 844.1v2M584.7 931.2v2M658.2 844.1v2M658.2 931.2v2M659.7 844.1v2M659.7 931.2v2M661.2 845.7v86.1M710.7 856.2v65.1M712.2 835.1v12.5M712.2 929.7v12.5M713.7 827.6v5M713.7 944.8v5M715.2 823.1v3.5M715.2 950.8v3.5M716.7 818.6v3.5M716.7 955.3v3.5M718.2 815.6v2M718.2 959.8v2M719.7 812.6v2M719.7 962.8v2M721.2 809.6v2M721.2 965.8v2M724.2 970.3v2M725.7 802.1v2M725.7 973.3v2M728.7 797.6v2M728.7 977.8v2M736.2 787.1v2M736.2 988.3v2M740.7 781.1v2M740.7 994.3v2M745.2 1000.3v2M751.2 767.6v2M751.2 1007.8v2"/>
<path stroke="#1affe5" d="M496.2 1001.8v2M509.7 791.6v2M509.7 983.8v2M512.7 796.1v2M512.7 979.3v2M515.7 800.6v2M515.7 974.8v2M518.7 970.3v2M520.2 808.1v2M520.2 967.3v2M521.7 811.1v2M521.7 964.3v2M523.2 814.1v2M523.2 961.3v2M524.7 817.1v2M524.7 958.3v2M526.2 821.6v2M526.2 953.8v2M527.7 826.1v3.5M527.7 947.8v3.5M529.2 832.1v9.5M529.2 935.8v9.5M530.7 847.2v83.1M583.2 845.7v9.5M583.2 922.2v9.5M584.7 845.7v2M584.7 929.7v2M586.2 844.1v2M586.2 931.2v2M587.7 844.1v2M587.7 931.2v2M589.2 844.1v2M589.2 931.2v2M653.7 844.1v2M653.7 931.2v2M655.2 844.1v2M655.2 931.2v2M656.7 844.1v2M656.7 931.2v2M658.2 845.7v2M658.2 929.7v2M659.7 845.7v9.5M659.7 922.2v9.5M712.2 847.2v83.1M713.7 832.1v9.5M713.7 935.8v9.5M715.2 826.1v3.5M715.2 947.8v3.5M716.7 821.6v2M716.7 953.8v2M718.2 817.1v2M718.2 958.3v2M719.7 814.1v2M719.7 961.3v2M721.2 811.1v2M721.2 964.3v2M722.7 808.1v2M722.7 967.3v2M724.2 805.1v2M727.2 800.6v2M727.2 974.8v2M730.2 796.1v2M730.2 979.3v2M733.2 791.6v2M733.2 983.8v2M746.7 773.6v2"/>
<path stroke="#2cffd3" d="M496.2 773.6v2M500.7 779.6v2M500.7 995.8v2M505.2 785.6v2M505.2 989.8v2M514.2 799.1v2M517.2 803.6v2M517.2 971.8v2M518.7 806.6v2M518.7 968.8v2M520.2 809.6v2M521.7 812.6v2M521.7 962.8v2M523.2 815.6v2M523.2 959.8v2M524.7 818.6v3.5M524.7 955.3v3.5M526.2 823.1v5M526.2 949.3v5M527.7 829.1v8M527.7 940.3v8M529.2 841.1v95.1M583.2 854.7v68.1M584.7 847.2v5M584.7 925.2v5M586.2 845.7v2M586.2 929.7v2M590.7 844.1v2M590.7 931.2v2M592.2 844.1v2M592.2 931.2v2M593.7 844.1v2M593.7 931.2v2M595.2 844.1v2M595.2 931.2v2M596.7 844.1v2M596.7 931.2v2M598.2 844.1v2M598.2 931.2v2M599.7 844.1v2M599.7 931.2v2M601.2 844.1v2M601.2 931.2v2M602.7 844.1v2M602.7 931.2v2M604.2 844.1v2M604.2 931.2v2M605.7 844.1v2M605.7 931.2v2M607.2 844.1v2M607.2 931.2v2M608.7 844.1v2M608.7 931.2v2M610.2 844.1v2M610.2 931.2v2M611.7 844.1v2M611.7 931.2v2M613.2 844.1v2M613.2 931.2v2M614.7 844.1v2M614.7 931.2v2M616.2 844.1v2M616.2 931.2v2M617.7 844.1v2M617.7 931.2v2M619.2 844.1v2M619.2 931.2v2M620.7 844.1v2M620.7 931.2v2M622.2 844.1v2M622.2 931.2v2M623.7 844.1v2M623.7 931.2v2M625.2 844.1v2M625.2 931.2v2M626.7 844.1v2M626.7 931.2v2M628.2 844.1v2M628.2 931.2v2M629.7 844.1v2M629.7 931.2v2M631.2 844.1v2M631.2 931.2v2M632.7 844.1v2M632.7 931.2v2M634.2 844.1v2M634.2 931.2v2M635.7 844.1v2M635.7 931.2v2M637.2 844.1v2M637.2 931.2v2M638.7 844.1v2M638.7 931.2v2M640.2 844.1v2M640.2 931.2v2M641.7 844.1v2M641.7 931.2v2M643.2 844.1v2M643.2 931.2v2M644.7 844.1v2M644.7 931.2v2M646.2 844.1v2M646.2 931.2v2M647.7 844.1v2M647.7 931.2v2M649.2 844.1v2M649.2 931.2v2M650.7 844.1v2M650.7 931.2v2M652.2 844.1v2M652.2 931.2v2M656.7 845.7v2M656.7 929.7v2M658.2 847.2v5M658.2 925.2v5M659.7 854.7v68.1M713.7 841.1v95.1M715.2 829.1v8M715.2 940.3v8M716.7 823.1v5M716.7 949.3v5M718.2 818.6v3.5M718.2 955.3v3.5M719.7 815.6v2M719.7 959.8v2M721.2 812.6v2M721.2 962.8v2M722.7 965.8v2M724.2 806.6v2M724.2 968.8v2M725.7 803.6v2M725.7 971.8v2M728.7 976.3v2M737.7 785.6v2M737.7 989.8v2M742.2 779.6v2M742.2 995.8v2M746.7 1001.8v2"/>
<path stroke="#3fffc0" d="M494.7 1003.3v2M503.7 991.3v2M508.2 790.1v2M508.2 985.3v2M511.2 794.6v2M511.2 980.8v2M514.2 976.3v2M515.7 802.1v2M515.7 973.3v2M517.2 805.1v2M520.2 811.1v2M520.2 965.8v2M521.7 814.1v2M521.7 961.3v2M523.2 817.1v3.5M523.2 958.3v2M524.7 821.6v3.5M524.7 952.3v3.5M526.2 827.6v6.5M526.2 943.3v6.5M527.7 836.6v104.1M584.7 851.7v74.1M586.2 847.2v5M586.2 925.2v5M587.7 845.7v3.5M587.7 928.2v3.5M589.2 845.7v2M589.2 929.7v2M590.7 845.7v2M590.7 929.7v2M652.2 845.7v2M652.2 929.7v2M653.7 845.7v2M653.7 929.7v2M655.2 845.7v3.5M655.2 928.2v3.5M656.7 847.2v5M656.7 925.2v5M658.2 851.7v74.1M715.2 836.6v104.1M716.7 827.6v6.5M716.7 943.3v6.5M718.2 821.6v3.5M718.2 952.3v3.5M719.7 817.1v2M719.7 956.8v3.5M721.2 814.1v2M721.2 961.3v2M722.7 809.6v2M722.7 964.3v2M725.7 970.3v2M727.2 802.1v2M727.2 973.3v2M728.7 799.1v2M731.7 794.6v2M731.7 980.8v2M734.7 790.1v2M734.7 985.3v2M739.2 784.1v2M748.2 772.1v2"/>
<path stroke="#51ffae" d="M494.7 772.1v2M499.2 778.1v2M499.2 997.3v2M503.7 784.1v2M506.7 788.6v2M506.7 986.8v2M509.7 793.1v2M509.7 982.3v2M512.7 797.6v2M512.7 977.8v2M517.2 970.3v2M518.7 808.1v2M518.7 967.3v2M520.2 964.3v2M521.7 815.6v2M521.7 959.8v2M523.2 820.1v2M523.2 955.3v3.5M524.7 824.6v5M524.7 947.8v5M526.2 833.6v35M526.2 908.7v35M586.2 851.7v74.1M587.7 848.7v3.5M587.7 925.2v3.5M589.2 847.2v2M589.2 928.2v2M590.7 847.2v2M590.7 928.2v2M592.2 845.7v2M592.2 929.7v2M593.7 845.7v2M593.7 929.7v2M595.2 845.7v2M595.2 929.7v2M596.7 845.7v2M596.7 929.7v2M598.2 845.7v2M598.2 929.7v2M599.7 845.7v2M599.7 929.7v2M601.2 845.7v2M601.2 929.7v2M602.7 845.7v2M602.7 929.7v2M604.2 845.7v2M604.2 929.7v2M605.7 845.7v2M605.7 929.7v2M607.2 845.7v2M607.2 929.7v2M608.7 845.7v2M608.7 929.7v2M610.2 845.7v2M610.2 929.7v2M611.7 845.7v2M611.7 929.7v2M613.2 845.7v2M613.2 929.7v2M614.7 845.7v2M614.7 929.7v2M616.2 845.7v2M616.2 929.7v2M617.7 845.7v2M617.7 929.7v2M619.2 845.7v2M619.2 929.7v2M620.7 845.7v2M620.7 929.7v2M622.2 845.7v2M622.2 929.7v2M623.7 845.7v2M623.7 929.7v2M625.2 845.7v2M625.2 929.7v2M626.7 845.7v2M626.7 929.7v2M628.2 845.7v2M628.2 929.7v2M629.7 845.7v2M629.7 929.7v2M631.2 845.7v2M631.2 929.7v2M632.7 845.7v2M632.7 929.7v2M634.2 845.7v2M634.2 929.7v2M635.7 845.7v2M635.7 929.7v2M637.2 845.7v2M637.2 929.7v2M638.7 845.7v2M638.7 929.7v2M640.2 845.7v2M640.2 929.7v2M641.7 845.7v2M641.7 929.7v2M643.2 845.7v2M643.2 929.7v2M644.7 845.7v2M644.7 929.7v2M646.2 845.7v2M646.2 929.7v2M647.7 845.7v2M647.7 929.7v2M649.2 845.7v2M649.2 929.7v2M650.7 845.7v2M650.7 929.7v2M652.2 847.2v2M652.2 928.2v2M653.7 847.2v2M653.7 928.2v2M655.2 848.7v3.5M655.2 925.2v3.5M656.7 851.7v74.1M716.7 833.6v35M716.7 908.7v35M718.2 824.6v5M718.2 947.8v5M719.7 818.6v3.5M719.7 955.3v2M721.2 815.6v2M721.2 959.8v2M722.7 811.1v2M724.2 808.1v2M724.2 967.3v2M725.7 805.1v2M730.2 797.6v2M730.2 977.8v2M733.2 793.1v2M733.2 982.3v2M736.2 788.6v2M736.2 986.8v2M739.2 991.3v2M743.7 778.1v2M743.7 997.3v2M748.2 1003.3v2"/>
<path stroke="#64ff9b" d="M502.2 782.6v2M502.2 992.8v2M511.2 796.1v2M514.2 800.6v2M514.2 974.8v2M515.7 803.6v2M515.7 971.8v2M517.2 806.6v2M517.2 968.8v2M518.7 809.6v2M518.7 965.8v2M520.2 812.6v3.5M520.2 961.3v3.5M521.7 817.1v3.5M521.7 956.8v3.5M523.2 821.6v5M523.2 950.8v5M524.7 829.1v15.5M524.7 932.8v15.5M526.2 868.2v41M587.7 851.7v74.1M589.2 848.7v5M589.2 923.7v5M590.7 848.7v2M590.7 926.7v2M592.2 847.2v2M592.2 928.2v2M593.7 847.2v2M593.7 928.2v2M595.2 847.2v2M595.2 928.2v2M647.7 847.2v2M647.7 928.2v2M649.2 847.2v2M649.2 928.2v2M650.7 847.2v2M650.7 928.2v2M652.2 848.7v2M652.2 926.7v2M653.7 848.7v5M653.7 923.7v5M655.2 851.7v74.1M716.7 868.2v41M718.2 829.1v15.5M718.2 932.8v15.5M719.7 821.6v5M719.7 950.8v5M721.2 817.1v3.5M721.2 956.8v3.5M722.7 812.6v3.5M722.7 961.3v3.5M724.2 809.6v2M724.2 965.8v2M725.7 806.6v2M725.7 968.8v2M727.2 803.6v2M727.2 971.8v2M728.7 800.6v2M728.7 974.8v2M731.7 979.3v2M740.7 782.6v2M740.7 992.8v2"/>
<path stroke="#76ff89" d="M493.2 770.6v2M493.2 1004.8v2M497.7 776.6v2M497.7 998.8v2M505.2 787.1v2M505.2 988.3v2M508.2 791.6v2M508.2 983.8v2M511.2 979.3v2M512.7 799.1v2M512.7 976.3v2M514.2 802.1v2M515.7 805.1v2M517.2 808.1v2M517.2 967.3v2M518.7 811.1v2M518.7 964.3v2M520.2 815.6v2M520.2 959.8v2M521.7 820.1v3.5M521.7 953.8v3.5M523.2 826.1v11M523.2 940.3v11M524.7 844.1v89.1M589.2 853.2v9.5M589.2 914.7v9.5M590.7 850.2v3.5M590.7 923.7v3.5M592.2 848.7v3.5M592.2 925.2v3.5M593.7 848.7v2M593.7 926.7v2M596.7 847.2v2M596.7 928.2v2M598.2 847.2v2M598.2 928.2v2M599.7 847.2v2M599.7 928.2v2M601.2 847.2v2M601.2 928.2v2M602.7 847.2v2M602.7 928.2v2M604.2 847.2v2M604.2 928.2v2M605.7 847.2v2M605.7 928.2v2M607.2 847.2v2M607.2 928.2v2M608.7 847.2v2M608.7 928.2v2M610.2 847.2v2M610.2 928.2v2M611.7 847.2v2M611.7 928.2v2M613.2 847.2v2M613.2 928.2v2M614.7 847.2v2M614.7 928.2v2M616.2 847.2v2M616.2 928.2v2M617.7 847.2v2M617.7 928.2v2M619.2 847.2v2M619.2 928.2v2M620.7 847.2v2M620.7 928.2v2M622.2 847.2v2M622.2 928.2v2M623.7 847.2v2M623.7 928.2v2M625.2 847.2v2M625.2 928.2v2M626.7 847.2v2M626.7 928.2v2M628.2 847.2v2M628.2 928.2v2M629.7 847.2v2M629.7 928.2v2M631.2 847.2v2M631.2 928.2v2M632.7 847.2v2M632.7 928.2v2M634.2 847.2v2M634.2 928.2v2M635.7 847.2v2M635.7 928.2v2M637.2 847.2v2M637.2 928.2v2M638.7 847.2v2M638.7 928.2v2M640.2 847.2v2M640.2 928.2v2M641.7 847.2v2M641.7 928.2v2M643.2 847.2v2M643.2 928.2v2M644.7 847.2v2M644.7 928.2v2M646.2 847.2v2M646.2 928.2v2M649.2 848.7v2M649.2 926.7v2M650.7 848.7v3.5M650.7 925.2v3.5M652.2 850.2v3.5M652.2 923.7v3.5M653.7 853.2v9.5M653.7 914.7v9.5M718.2 844.1v89.1M719.7 826.1v11M719.7 940.3v11M721.2 820.1v3.5M721.2 953.8v3.5M722.7 815.6v2M722.7 959.8v2M724.2 811.1v2M724.2 964.3v2M725.7 808.1v2M725.7 967.3v2M727.2 970.3v2M728.7 973.3v2M730.2 799.1v2M730.2 976.3v2M731.7 796.1v2M734.7 791.6v2M734.7 983.8v2M737.7 787.1v2M737.7 988.3v2M745.2 776.6v2M745.2 998.8v2M749.7 770.6v2M749.7 1004.8v2"/>
<path stroke="#89ff76" d="M500.7 781.1v2M500.7 994.3v2M506.7 790.1v2M506.7 985.3v2M509.7 794.6v2M509.7 980.8v2M511.2 797.6v2M514.2 973.3v2M515.7 970.3v2M517.2 809.6v2M517.2 965.8v2M518.7 812.6v3.5M518.7 961.3v3.5M520.2 817.1v5M520.2 956.8v3.5M521.7 823.1v8M521.7 946.3v8M523.2 836.6v104.1M589.2 862.2v53.1M590.7 853.2v6.5M590.7 917.7v6.5M592.2 851.7v3.5M592.2 922.2v3.5M593.7 850.2v2M593.7 925.2v2M595.2 848.7v3.5M595.2 925.2v3.5M596.7 848.7v2M596.7 926.7v2M598.2 848.7v2M598.2 926.7v2M599.7 848.7v2M599.7 926.7v2M601.2 848.7v2M601.2 926.7v2M602.7 848.7v2M602.7 926.7v2M640.2 848.7v2M640.2 926.7v2M641.7 848.7v2M641.7 926.7v2M643.2 848.7v2M643.2 926.7v2M644.7 848.7v2M644.7 926.7v2M646.2 848.7v2M646.2 926.7v2M647.7 848.7v3.5M647.7 925.2v3.5M649.2 850.2v2M649.2 925.2v2M650.7 851.7v3.5M650.7 922.2v3.5M652.2 853.2v6.5M652.2 917.7v6.5M653.7 862.2v53.1M719.7 836.6v104.1M721.2 823.1v8M721.2 946.3v8M722.7 817.1v3.5M722.7 955.3v5M724.2 812.6v3.5M724.2 961.3v3.5M725.7 809.6v2M725.7 965.8v2M727.2 805.1v2M728.7 802.1v2M731.7 977.8v2M733.2 794.6v2M733.2 980.8v2M736.2 790.1v2M736.2 985.3v2M742.2 781.1v2M742.2 994.3v2"/>
<path stroke="#9bff64" d="M491.7 1006.3v2M496.2 775.1v2M496.2 1000.3v2M503.7 785.6v2M503.7 989.8v2M508.2 793.1v2M511.2 977.8v2M512.7 800.6v2M512.7 974.8v2M514.2 803.6v2M514.2 971.8v2M515.7 806.6v2M515.7 968.8v2M517.2 811.1v2M517.2 964.3v2M518.7 815.6v3.5M518.7 958.3v3.5M520.2 821.6v6.5M520.2 949.3v8M521.7 830.6v116.1M590.7 859.2v59.1M592.2 854.7v5M592.2 917.7v5M593.7 851.7v3.5M593.7 922.2v3.5M595.2 851.7v2M595.2 923.7v2M596.7 850.2v2M596.7 925.2v2M598.2 850.2v2M598.2 925.2v2M599.7 850.2v2M599.7 925.2v2M601.2 850.2v2M601.2 925.2v2M604.2 848.7v2M604.2 926.7v2M605.7 848.7v2M605.7 926.7v2M607.2 848.7v2M607.2 926.7v2M608.7 848.7v2M608.7 926.7v2M610.2 848.7v2M610.2 926.7v2M611.7 848.7v2M611.7 926.7v2M613.2 848.7v2M613.2 926.7v2M614.7 848.7v2M614.7 926.7v2M616.2 848.7v2M616.2 926.7v2M617.7 848.7v2M617.7 926.7v2M619.2 848.7v2M619.2 926.7v2M620.7 848.7v2M620.7 926.7v2M622.2 848.7v2M622.2 926.7v2M623.7 848.7v2M623.7 926.7v2M625.2 848.7v2M625.2 926.7v2M626.7 848.7v2M626.7 926.7v2M628.2 848.7v2M628.2 926.7v2M629.7 848.7v2M629.7 926.7v2M631.2 848.7v2M631.2 926.7v2M632.7 848.7v2M632.7 926.7v2M634.2 848.7v2M634.2 926.7v2M635.7 848.7v2M635.7 926.7v2M637.2 848.7v2M637.2 926.7v2M638.7 848.7v2M638.7 926.7v2M641.7 850.2v2M641.7 925.2v2M643.2 850.2v2M643.2 925.2v2M644.7 850.2v2M644.7 925.2v2M646.2 850.2v2M646.2 925.2v2M647.7 851.7v2M647.7 923.7v2M649.2 851.7v3.5M649.2 922.2v3.5M650.7 854.7v5M650.7 917.7v5M652.2 859.2v59.1M721.2 830.6v116.1M722.7 820.1v8M722.7 949.3v6.5M724.2 815.6v3.5M724.2 958.3v3.5M725.7 811.1v2M725.7 964.3v2M727.2 806.6v2M727.2 968.8v2M728.7 803.6v2M728.7 971.8v2M730.2 800.6v2M730.2 974.8v2M731.7 797.6v2M734.7 982.3v2M739.2 785.6v2M739.2 989.8v2M746.7 775.1v2M746.7 1000.3v2M751.2 769.1v2"/>
<path stroke="#aeff51" d="M491.7 769.1v2M499.2 779.6v2M499.2 995.8v2M502.2 784.1v2M502.2 991.3v2M505.2 788.6v2M505.2 986.8v2M508.2 982.3v2M509.7 796.1v2M509.7 979.3v2M511.2 799.1v2M511.2 976.3v2M512.7 802.1v2M512.7 973.3v2M514.2 805.1v2M514.2 970.3v2M515.7 808.1v3.5M515.7 965.8v3.5M517.2 812.6v3.5M517.2 961.3v3.5M518.7 818.6v5M518.7 953.8v5M520.2 827.6v122.1M592.2 859.2v59.1M593.7 854.7v5M593.7 917.7v5M595.2 853.2v3.5M595.2 920.7v3.5M596.7 851.7v3.5M596.7 922.2v3.5M598.2 851.7v2M598.2 923.7v2M599.7 851.7v2M599.7 923.7v2M601.2 851.7v2M601.2 923.7v2M602.7 850.2v2M602.7 925.2v2M604.2 850.2v2M604.2 925.2v2M605.7 850.2v2M605.7 925.2v2M607.2 850.2v2M607.2 925.2v2M608.7 850.2v2M608.7 925.2v2M610.2 850.2v2M610.2 925.2v2M611.7 850.2v2M611.7 925.2v2M613.2 850.2v2M613.2 925.2v2M614.7 850.2v2M614.7 925.2v2M616.2 850.2v2M616.2 925.2v2M617.7 850.2v2M617.7 925.2v2M619.2 850.2v2M619.2 925.2v2M620.7 850.2v2M620.7 925.2v2M622.2 850.2v2M622.2 925.2v2M623.7 850.2v2M623.7 925.2v2M625.2 850.2v2M625.2 925.2v2M626.7 850.2v2M626.7 925.2v2M628.2 850.2v2M628.2 925.2v2M629.7 850.2v2M629.7 925.2v2M631.2 850.2v2M631.2 925.2v2M632.7 850.2v2M632.7 925.2v2M634.2 850.2v2M634.2 925.2v2M635.7 850.2v2M635.7 925.2v2M637.2 850.2v2M637.2 925.2v2M638.7 850.2v2M638.7 925.2v2M640.2 850.2v2M640.2 925.2v2M641.7 851.7v2M641.7 923.7v2M643.2 851.7v2M643.2 923.7v2M644.7 851.7v2M644.7 923.7v2M646.2 851.7v3.5M646.2 922.2v3.5M647.7 853.2v3.5M647.7 920.7v3.5M649.2 854.7v5M649.2 917.7v5M650.7 859.2v59.1M722.7 827.6v122.1M724.2 818.6v5M724.2 953.8v5M725.7 812.6v3.5M725.7 961.3v3.5M727.2 808.1v3.5M727.2 965.8v3.5M728.7 805.1v2M728.7 970.3v2M730.2 802.1v2M730.2 973.3v2M731.7 799.1v2M731.7 976.3v2M733.2 796.1v2M733.2 979.3v2M734.7 793.1v2M737.7 788.6v2M737.7 986.8v2M740.7 784.1v2M740.7 991.3v2M743.7 779.6v2M743.7 995.8v2M751.2 1006.3v2"/>
<path stroke="#c0ff3f" d="M494.7 773.6v2M494.7 1001.8v2M506.7 791.6v2M506.7 983.8v2M512.7 803.6v2M514.2 806.6v2M514.2 968.8v2M515.7 811.1v2M515.7 964.3v2M517.2 815.6v5M517.2 956.8v5M518.7 823.1v21.5M518.7 932.8v21.5M593.7 859.2v59.1M595.2 856.2v5M595.2 916.2v5M596.7 854.7v3.5M596.7 919.2v3.5M598.2 853.2v3.5M598.2 920.7v3.5M599.7 853.2v2M599.7 922.2v2M601.2 853.2v2M601.2 922.2v2M602.7 851.7v2M602.7 923.7v2M604.2 851.7v2M604.2 923.7v2M605.7 851.7v2M605.7 923.7v2M607.2 851.7v2M607.2 923.7v2M608.7 851.7v2M608.7 923.7v2M610.2 851.7v2M610.2 923.7v2M611.7 851.7v2M611.7 923.7v2M613.2 851.7v2M613.2 923.7v2M614.7 851.7v2M614.7 923.7v2M616.2 851.7v2M616.2 923.7v2M617.7 851.7v2M617.7 923.7v2M619.2 851.7v2M619.2 923.7v2M620.7 851.7v2M620.7 923.7v2M622.2 851.7v2M622.2 923.7v2M623.7 851.7v2M623.7 923.7v2M625.2 851.7v2M625.2 923.7v2M626.7 851.7v2M626.7 923.7v2M628.2 851.7v2M628.2 923.7v2M629.7 851.7v2M629.7 923.7v2M631.2 851.7v2M631.2 923.7v2M632.7 851.7v2M632.7 923.7v2M634.2 851.7v2M634.2 923.7v2M635.7 851.7v2M635.7 923.7v2M637.2 851.7v2M637.2 923.7v2M638.7 851.7v2M638.7 923.7v2M640.2 851.7v2M640.2 923.7v2M641.7 853.2v2M641.7 922.2v2M643.2 853.2v2M643.2 922.2v2M644.7 853.2v3.5M644.7 920.7v3.5M646.2 854.7v3.5M646.2 919.2v3.5M647.7 856.2v5M647.7 916.2v5M649.2 859.2v59.1M724.2 823.1v21.5M724.2 932.8v21.5M725.7 815.6v5M725.7 956.8v5M727.2 811.1v2M727.2 964.3v2M728.7 806.6v2M728.7 968.8v2M730.2 971.8v2M736.2 791.6v2M736.2 983.8v2M748.2 773.6v2M748.2 1001.8v2"/>
<path stroke="#d3ff2c" d="M497.7 778.1v2M497.7 997.3v2M500.7 782.6v2M500.7 992.8v2M503.7 787.1v2M503.7 988.3v2M508.2 794.6v2M508.2 980.8v2M509.7 797.6v2M509.7 977.8v2M511.2 800.6v2M511.2 974.8v2M512.7 805.1v2M512.7 970.3v3.5M514.2 808.1v3.5M514.2 965.8v3.5M515.7 812.6v5M515.7 959.8v5M517.2 820.1v12.5M517.2 946.3v11M518.7 844.1v89.1M595.2 860.7v56.1M596.7 857.7v3.5M596.7 916.2v3.5M598.2 856.2v2M598.2 919.2v2M599.7 854.7v2M599.7 920.7v2M601.2 854.7v2M601.2 920.7v2M602.7 853.2v2M602.7 922.2v2M604.2 853.2v2M604.2 922.2v2M605.7 853.2v2M605.7 922.2v2M607.2 853.2v2M607.2 922.2v2M608.7 853.2v2M608.7 922.2v2M610.2 853.2v2M610.2 922.2v2M611.7 853.2v2M611.7 922.2v2M613.2 853.2v2M613.2 922.2v2M614.7 853.2v2M614.7 922.2v2M616.2 853.2v2M616.2 922.2v2M617.7 853.2v2M617.7 922.2v2M625.2 853.2v2M625.2 922.2v2M626.7 853.2v2M626.7 922.2v2M628.2 853.2v2M628.2 922.2v2M629.7 853.2v2M629.7 922.2v2M631.2 853.2v2M631.2 922.2v2M632.7 853.2v2M632.7 922.2v2M634.2 853.2v2M634.2 922.2v2M635.7 853.2v2M635.7 922.2v2M637.2 853.2v2M637.2 922.2v2M638.7 853.2v2M638.7 922.2v2M640.2 853.2v2M640.2 922.2v2M641.7 854.7v2M641.7 920.7v2M643.2 854.7v2M643.2 920.7v2M644.7 856.2v2M644.7 919.2v2M646.2 857.7v3.5M646.2 916.2v3.5M647.7 860.7v56.1M724.2 844.1v89.1M725.7 820.1v11M725.7 944.8v12.5M727.2 812.6v5M727.2 959.8v5M728.7 808.1v3.5M728.7 965.8v3.5M730.2 803.6v3.5M730.2 970.3v2M731.7 800.6v2M731.7 974.8v2M733.2 797.6v2M733.2 977.8v2M734.7 794.6v2M734.7 980.8v2M739.2 787.1v2M739.2 988.3v2M742.2 782.6v2M742.2 992.8v2M745.2 778.1v2M745.2 997.3v2"/>
<path stroke="#e5ff1a" d="M493.2 1003.3v2M502.2 989.8v2M505.2 790.1v2M505.2 985.3v2M506.7 793.1v2M506.7 982.3v2M508.2 796.1v2M508.2 979.3v2M509.7 799.1v2M509.7 976.3v2M511.2 802.1v2M511.2 973.3v2M512.7 806.6v2M512.7 968.8v2M514.2 811.1v3.5M514.2 962.8v3.5M515.7 817.1v8M515.7 952.3v8M517.2 832.1v114.6M596.7 860.7v15.5M596.7 901.2v15.5M598.2 857.7v3.5M598.2 916.2v3.5M599.7 856.2v3.5M599.7 917.7v3.5M601.2 856.2v2M601.2 919.2v2M602.7 854.7v3.5M602.7 919.2v3.5M604.2 854.7v2M604.2 920.7v2M605.7 854.7v2M605.7 920.7v2M607.2 854.7v2M607.2 920.7v2M608.7 854.7v2M608.7 920.7v2M610.2 854.7v2M610.2 920.7v2M619.2 853.2v2M619.2 922.2v2M620.7 853.2v2M620.7 922.2v2M622.2 853.2v2M622.2 922.2v2M623.7 853.2v2M623.7 922.2v2M632.7 854.7v2M632.7 920.7v2M634.2 854.7v2M634.2 920.7v2M635.7 854.7v2M635.7 920.7v2M637.2 854.7v2M637.2 920.7v2M638.7 854.7v2M638.7 920.7v2M640.2 854.7v3.5M640.2 919.2v3.5M641.7 856.2v2M641.7 919.2v2M643.2 856.2v3.5M643.2 917.7v3.5M644.7 857.7v3.5M644.7 916.2v3.5M646.2 860.7v15.5M646.2 901.2v15.5M725.7 830.6v114.6M727.2 817.1v8M727.2 952.3v8M728.7 811.1v3.5M728.7 962.8v3.5M730.2 806.6v2M730.2 968.8v2M731.7 802.1v2M731.7 973.3v2M733.2 799.1v2M733.2 976.3v2M734.7 796.1v2M734.7 979.3v2M736.2 793.1v2M736.2 982.3v2M737.7 790.1v2M737.7 985.3v2M740.7 785.6v2M749.7 772.1v2"/>
<path stroke="#f8ff07" d="M493.2 772.1v2M496.2 776.6v2M496.2 998.8v2M499.2 781.1v2M499.2 994.3v2M502.2 785.6v2M503.7 788.6v2M503.7 986.8v2M509.7 800.6v2M509.7 974.8v2M511.2 803.6v3.5M511.2 971.8v2M512.7 808.1v3.5M512.7 965.8v3.5M514.2 814.1v6.5M514.2 956.8v6.5M515.7 824.6v128.1M596.7 875.7v26M598.2 860.7v12.5M598.2 904.2v12.5M599.7 859.2v3.5M599.7 914.7v3.5M601.2 857.7v2M601.2 917.7v2M602.7 857.7v2M602.7 917.7v2M604.2 856.2v2M604.2 919.2v2M605.7 856.2v2M605.7 919.2v2M607.2 856.2v2M607.2 919.2v2M608.7 856.2v2M608.7 919.2v2M611.7 854.7v2M611.7 920.7v2M613.2 854.7v2M613.2 920.7v2M614.7 854.7v2M614.7 920.7v2M616.2 854.7v2M616.2 920.7v2M617.7 854.7v2M617.7 920.7v2M619.2 854.7v2M619.2 920.7v2M620.7 854.7v2M620.7 920.7v2M622.2 854.7v2M622.2 920.7v2M623.7 854.7v2M623.7 920.7v2M625.2 854.7v2M625.2 920.7v2M626.7 854.7v2M626.7 920.7v2M628.2 854.7v2M628.2 920.7v2M629.7 854.7v2M629.7 920.7v2M631.2 854.7v2M631.2 920.7v2M634.2 856.2v2M634.2 919.2v2M635.7 856.2v2M635.7 919.2v2M637.2 856.2v2M637.2 919.2v2M638.7 856.2v2M638.7 919.2v2M640.2 857.7v2M640.2 917.7v2M641.7 857.7v2M641.7 917.7v2M643.2 859.2v3.5M643.2 914.7v3.5M644.7 860.7v12.5M644.7 904.2v12.5M646.2 875.7v26M727.2 824.6v128.1M728.7 814.1v6.5M728.7 956.8v6.5M730.2 808.1v3.5M730.2 965.8v3.5M731.7 803.6v2M731.7 970.3v3.5M733.2 800.6v2M733.2 974.8v2M739.2 788.6v2M739.2 986.8v2M740.7 989.8v2M743.7 781.1v2M743.7 994.3v2M746.7 776.6v2M746.7 998.8v2M749.7 1003.3v2"/>
<path stroke="#fff300" d="M491.7 1004.8v2M500.7 784.1v2M500.7 991.3v2M505.2 791.6v2M505.2 983.8v2M506.7 794.6v2M506.7 980.8v2M508.2 797.6v2M508.2 977.8v2M509.7 802.1v2M509.7 973.3v2M511.2 806.6v2M511.2 968.8v3.5M512.7 811.1v6.5M512.7 961.3v5M514.2 820.1v137.2M598.2 872.7v32M599.7 862.2v9.5M599.7 905.7v9.5M601.2 859.2v3.5M601.2 914.7v3.5M602.7 859.2v2M602.7 916.2v2M604.2 857.7v2M604.2 917.7v2M605.7 857.7v2M605.7 917.7v2M607.2 857.7v2M607.2 917.7v2M610.2 856.2v2M610.2 919.2v2M611.7 856.2v2M611.7 919.2v2M613.2 856.2v2M613.2 919.2v2M614.7 856.2v2M614.7 919.2v2M616.2 856.2v2M616.2 919.2v2M617.7 856.2v2M617.7 919.2v2M619.2 856.2v2M619.2 919.2v2M620.7 856.2v2M620.7 919.2v2M622.2 856.2v2M622.2 919.2v2M623.7 856.2v2M623.7 919.2v2M625.2 856.2v2M625.2 919.2v2M626.7 856.2v2M626.7 919.2v2M628.2 856.2v2M628.2 919.2v2M629.7 856.2v2M629.7 919.2v2M631.2 856.2v2M631.2 919.2v2M632.7 856.2v2M632.7 919.2v2M635.7 857.7v2M635.7 917.7v2M637.2 857.7v2M637.2 917.7v2M638.7 857.7v2M638.7 917.7v2M640.2 859.2v2M640.2 916.2v2M641.7 859.2v3.5M641.7 914.7v3.5M643.2 862.2v9.5M643.2 905.7v9.5M644.7 872.7v32M728.7 820.1v137.2M730.2 811.1v5M730.2 959.8v6.5M731.7 805.1v3.5M731.7 968.8v2M733.2 802.1v2M733.2 973.3v2M734.7 797.6v2M734.7 977.8v2M736.2 794.6v2M736.2 980.8v2M737.7 791.6v2M737.7 983.8v2M742.2 784.1v2M742.2 991.3v2M751.2 770.6v2"/>
<path stroke="#ffe100" d="M491.7 770.6v2M494.7 775.1v2M494.7 1000.3v2M497.7 779.6v2M497.7 995.8v2M502.2 787.1v2M502.2 988.3v2M503.7 790.1v2M503.7 985.3v2M505.2 793.1v2M505.2 982.3v2M506.7 796.1v2M506.7 979.3v2M508.2 799.1v2M508.2 976.3v2M509.7 803.6v3.5M509.7 971.8v2M511.2 808.1v5M511.2 964.3v5M512.7 817.1v144.7M599.7 871.2v35M601.2 862.2v9.5M601.2 905.7v9.5M602.7 860.7v3.5M602.7 913.2v3.5M604.2 859.2v3.5M604.2 914.7v3.5M605.7 859.2v2M605.7 916.2v2M608.7 857.7v2M608.7 917.7v2M610.2 857.7v2M610.2 917.7v2M611.7 857.7v2M611.7 917.7v2M613.2 857.7v2M613.2 917.7v2M614.7 857.7v2M614.7 917.7v2M616.2 857.7v2M616.2 917.7v2M617.7 857.7v2M617.7 917.7v2M619.2 857.7v2M619.2 917.7v2M620.7 857.7v2M620.7 917.7v2M622.2 857.7v2M622.2 917.7v2M623.7 857.7v2M623.7 917.7v2M625.2 857.7v2M625.2 917.7v2M626.7 857.7v2M626.7 917.7v2M628.2 857.7v2M628.2 917.7v2M629.7 857.7v2M629.7 917.7v2M631.2 857.7v2M631.2 917.7v2M632.7 857.7v2M632.7 917.7v2M634.2 857.7v2M634.2 917.7v2M637.2 859.2v2M637.2 916.2v2M638.7 859.2v3.5M638.7 914.7v3.5M640.2 860.7v3.5M640.2 913.2v3.5M641.7 862.2v9.5M641.7 905.7v9.5M643.2 871.2v35M730.2 815.6v144.7M731.7 808.1v5M731.7 964.3v5M733.2 803.6v2M733.2 970.3v3.5M734.7 799.1v2M734.7 976.3v2M736.2 796.1v2M736.2 979.3v2M737.7 793.1v2M737.7 982.3v2M739.2 790.1v2M739.2 985.3v2M740.7 787.1v2M740.7 988.3v2M745.2 779.6v2M745.2 995.8v2M748.2 775.1v2M748.2 1000.3v2M751.2 1004.8v2"/>
<path stroke="#ffce00" d="M499.2 782.6v2M499.2 992.8v2M506.7 797.6v2M506.7 977.8v2M508.2 800.6v3.5M508.2 973.3v3.5M509.7 806.6v3.5M509.7 967.3v5M511.2 812.6v15.5M511.2 949.3v15.5M601.2 871.2v35M602.7 863.7v8M602.7 905.7v8M604.2 862.2v3.5M604.2 911.7v3.5M605.7 860.7v2M605.7 914.7v2M607.2 859.2v3.5M607.2 914.7v3.5M608.7 859.2v2M608.7 916.2v2M610.2 859.2v2M610.2 916.2v2M611.7 859.2v2M611.7 916.2v2M613.2 859.2v2M613.2 916.2v2M614.7 859.2v2M614.7 916.2v2M628.2 859.2v2M628.2 916.2v2M629.7 859.2v2M629.7 916.2v2M631.2 859.2v2M631.2 916.2v2M632.7 859.2v2M632.7 916.2v2M634.2 859.2v2M634.2 916.2v2M635.7 859.2v3.5M635.7 914.7v3.5M637.2 860.7v2M637.2 914.7v2M638.7 862.2v3.5M638.7 911.7v3.5M640.2 863.7v8M640.2 905.7v8M641.7 871.2v35M731.7 812.6v15.5M731.7 949.3v15.5M733.2 805.1v5M733.2 967.3v3.5M734.7 800.6v3.5M734.7 973.3v3.5M736.2 797.6v2M736.2 977.8v2M743.7 782.6v2M743.7 992.8v2"/>
<path stroke="#ffbc00" d="M493.2 773.6v2M493.2 1001.8v2M496.2 778.1v2M496.2 997.3v2M500.7 785.6v2M500.7 989.8v2M502.2 788.6v2M502.2 986.8v2M503.7 791.6v2M503.7 983.8v2M505.2 794.6v2M505.2 980.8v2M506.7 799.1v2M506.7 976.3v2M508.2 803.6v3.5M508.2 970.3v3.5M509.7 809.6v9.5M509.7 958.3v9.5M511.2 827.6v122.1M602.7 871.2v35M604.2 865.2v8M604.2 904.2v8M605.7 862.2v5M605.7 910.2v5M607.2 862.2v3.5M607.2 911.7v3.5M608.7 860.7v3.5M608.7 913.2v3.5M610.2 860.7v2M610.2 914.7v2M611.7 860.7v2M611.7 914.7v2M613.2 860.7v2M613.2 914.7v2M616.2 859.2v2M616.2 916.2v2M617.7 859.2v2M617.7 916.2v2M619.2 859.2v2M619.2 916.2v2M620.7 859.2v2M620.7 916.2v2M622.2 859.2v2M622.2 916.2v2M623.7 859.2v2M623.7 916.2v2M625.2 859.2v2M625.2 916.2v2M626.7 859.2v2M626.7 916.2v2M629.7 860.7v2M629.7 914.7v2M631.2 860.7v2M631.2 914.7v2M632.7 860.7v2M632.7 914.7v2M634.2 860.7v3.5M634.2 913.2v3.5M635.7 862.2v3.5M635.7 911.7v3.5M637.2 862.2v5M637.2 910.2v5M638.7 865.2v8M638.7 904.2v8M640.2 871.2v35M731.7 827.6v122.1M733.2 809.6v9.5M733.2 958.3v9.5M734.7 803.6v3.5M734.7 970.3v3.5M736.2 799.1v2M736.2 976.3v2M737.7 794.6v2M737.7 980.8v2M739.2 791.6v2M739.2 983.8v2M740.7 788.6v2M740.7 986.8v2M742.2 785.6v2M742.2 989.8v2M746.7 778.1v2M746.7 997.3v2M749.7 773.6v2M749.7 1001.8v2"/>
<path stroke="#ffa900" d="M497.7 781.1v2M497.7 994.3v2M499.2 784.1v2M499.2 991.3v2M502.2 790.1v2M502.2 985.3v2M503.7 793.1v2M503.7 982.3v2M505.2 796.1v3.5M505.2 977.8v3.5M506.7 800.6v3.5M506.7 973.3v3.5M508.2 806.6v8M508.2 962.8v8M509.7 818.6v140.2M604.2 872.7v32M605.7 866.7v9.5M605.7 901.2v9.5M607.2 865.2v5M607.2 907.2v5M608.7 863.7v3.5M608.7 910.2v3.5M610.2 862.2v3.5M610.2 911.7v3.5M611.7 862.2v2M611.7 913.2v2M613.2 862.2v2M613.2 913.2v2M614.7 860.7v3.5M614.7 913.2v3.5M616.2 860.7v2M616.2 914.7v2M617.7 860.7v2M617.7 914.7v2M619.2 860.7v2M619.2 914.7v2M620.7 860.7v2M620.7 914.7v2M622.2 860.7v2M622.2 914.7v2M623.7 860.7v2M623.7 914.7v2M625.2 860.7v2M625.2 914.7v2M626.7 860.7v2M626.7 914.7v2M628.2 860.7v3.5M628.2 913.2v3.5M629.7 862.2v2M629.7 913.2v2M631.2 862.2v2M631.2 913.2v2M632.7 862.2v3.5M632.7 911.7v3.5M634.2 863.7v3.5M634.2 910.2v3.5M635.7 865.2v5M635.7 907.2v5M637.2 866.7v9.5M637.2 901.2v9.5M638.7 872.7v32M733.2 818.6v140.2M734.7 806.6v8M734.7 962.8v8M736.2 800.6v3.5M736.2 973.3v3.5M737.7 796.1v3.5M737.7 977.8v3.5M739.2 793.1v2M739.2 982.3v2M740.7 790.1v2M740.7 985.3v2M743.7 784.1v2M743.7 991.3v2M745.2 781.1v2M745.2 994.3v2"/>
<path stroke="#ff9700" d="M491.7 772.1v2M491.7 1003.3v2M494.7 776.6v2M494.7 998.8v2M500.7 787.1v2M500.7 988.3v2M503.7 794.6v2M503.7 980.8v2M505.2 799.1v2M505.2 976.3v2M506.7 803.6v6.5M506.7 967.3v6.5M508.2 814.1v149.2M605.7 875.7v26M607.2 869.7v9.5M607.2 898.2v9.5M608.7 866.7v5M608.7 905.7v5M610.2 865.2v3.5M610.2 908.7v3.5M611.7 863.7v3.5M611.7 910.2v3.5M613.2 863.7v3.5M613.2 910.2v3.5M614.7 863.7v2M614.7 911.7v2M616.2 862.2v3.5M616.2 911.7v3.5M617.7 862.2v3.5M617.7 911.7v3.5M619.2 862.2v3.5M619.2 911.7v3.5M620.7 862.2v3.5M620.7 911.7v3.5M622.2 862.2v3.5M622.2 911.7v3.5M623.7 862.2v3.5M623.7 911.7v3.5M625.2 862.2v3.5M625.2 911.7v3.5M626.7 862.2v3.5M626.7 911.7v3.5M628.2 863.7v2M628.2 911.7v2M629.7 863.7v3.5M629.7 910.2v3.5M631.2 863.7v3.5M631.2 910.2v3.5M632.7 865.2v3.5M632.7 908.7v3.5M634.2 866.7v5M634.2 905.7v5M635.7 869.7v9.5M635.7 898.2v9.5M637.2 875.7v26M734.7 814.1v149.2M736.2 803.6v6.5M736.2 967.3v6.5M737.7 799.1v2M737.7 976.3v2M739.2 794.6v2M739.2 980.8v2M742.2 787.1v2M742.2 988.3v2M748.2 776.6v2M748.2 998.8v2M751.2 772.1v2M751.2 1003.3v2"/>
<path stroke="#ff8400" d="M496.2 779.6v2M496.2 995.8v2M497.7 782.6v2M497.7 992.8v2M499.2 785.6v2M499.2 989.8v2M500.7 788.6v2M500.7 986.8v2M502.2 791.6v2M502.2 983.8v2M503.7 796.1v3.5M503.7 977.8v3.5M505.2 800.6v5M505.2 971.8v5M506.7 809.6v158.2M607.2 878.7v20M608.7 871.2v11M608.7 895.2v11M610.2 868.2v6.5M610.2 902.7v6.5M611.7 866.7v5M611.7 905.7v5M613.2 866.7v3.5M613.2 907.2v3.5M614.7 865.2v5M614.7 907.2v5M616.2 865.2v3.5M616.2 908.7v3.5M617.7 865.2v3.5M617.7 908.7v3.5M619.2 865.2v3.5M619.2 908.7v3.5M620.7 865.2v2M620.7 910.2v2M622.2 865.2v2M622.2 910.2v2M623.7 865.2v3.5M623.7 908.7v3.5M625.2 865.2v3.5M625.2 908.7v3.5M626.7 865.2v3.5M626.7 908.7v3.5M628.2 865.2v5M628.2 907.2v5M629.7 866.7v3.5M629.7 907.2v3.5M631.2 866.7v5M631.2 905.7v5M632.7 868.2v6.5M632.7 902.7v6.5M634.2 871.2v11M634.2 895.2v11M635.7 878.7v20M736.2 809.6v158.2M737.7 800.6v5M737.7 971.8v5M739.2 796.1v3.5M739.2 977.8v3.5M740.7 791.6v2M740.7 983.8v2M742.2 788.6v2M742.2 986.8v2M743.7 785.6v2M743.7 989.8v2M745.2 782.6v2M745.2 992.8v2M746.7 779.6v2M746.7 995.8v2"/>
<path stroke="#ff7200" d="M493.2 775.1v2M493.2 1000.3v2M494.7 778.1v2M494.7 997.3v2M500.7 790.1v2M500.7 985.3v2M502.2 793.1v3.5M502.2 980.8v3.5M503.7 799.1v3.5M503.7 974.8v3.5M505.2 805.1v167.2M608.7 881.7v14M610.2 874.2v29M611.7 871.2v9.5M611.7 896.7v9.5M613.2 869.7v8M613.2 899.7v8M614.7 869.7v5M614.7 902.7v5M616.2 868.2v5M616.2 904.2v5M617.7 868.2v3.5M617.7 905.7v3.5M619.2 868.2v3.5M619.2 905.7v3.5M620.7 866.7v5M620.7 905.7v5M622.2 866.7v5M622.2 905.7v5M623.7 868.2v3.5M623.7 905.7v3.5M625.2 868.2v3.5M625.2 905.7v3.5M626.7 868.2v5M626.7 904.2v5M628.2 869.7v5M628.2 902.7v5M629.7 869.7v8M629.7 899.7v8M631.2 871.2v9.5M631.2 896.7v9.5M632.7 874.2v29M634.2 881.7v14M737.7 805.1v167.2M739.2 799.1v3.5M739.2 974.8v3.5M740.7 793.1v3.5M740.7 980.8v3.5M742.2 790.1v2M742.2 985.3v2M748.2 778.1v2M748.2 997.3v2M749.7 775.1v2M749.7 1000.3v2"/>
<path stroke="#ff5f00" d="M496.2 781.1v2M496.2 994.3v2M497.7 784.1v2M497.7 991.3v2M499.2 787.1v2M499.2 988.3v2M500.7 791.6v2M500.7 983.8v2M502.2 796.1v3.5M502.2 977.8v3.5M503.7 802.1v12.5M503.7 964.3v11M611.7 880.2v17M613.2 877.2v23M614.7 874.2v9.5M614.7 893.7v9.5M616.2 872.7v8M616.2 896.7v8M617.7 871.2v8M617.7 898.2v8M619.2 871.2v6.5M619.2 899.7v6.5M620.7 871.2v6.5M620.7 899.7v6.5M622.2 871.2v6.5M622.2 899.7v6.5M623.7 871.2v6.5M623.7 899.7v6.5M625.2 871.2v8M625.2 898.2v8M626.7 872.7v8M626.7 896.7v8M628.2 874.2v9.5M628.2 893.7v9.5M629.7 877.2v23M631.2 880.2v17M739.2 802.1v11M739.2 962.8v12.5M740.7 796.1v3.5M740.7 977.8v3.5M742.2 791.6v2M742.2 983.8v2M743.7 787.1v2M743.7 988.3v2M745.2 784.1v2M745.2 991.3v2M746.7 781.1v2M746.7 994.3v2"/>
<path stroke="#ff4c00" d="M491.7 773.6v2M491.7 1001.8v2M493.2 776.6v2M493.2 998.8v2M494.7 995.8v2M496.2 782.6v2M496.2 992.8v2M497.7 785.6v2M497.7 989.8v2M499.2 788.6v3.5M499.2 985.3v3.5M500.7 793.1v3.5M500.7 980.8v3.5M502.2 799.1v8M502.2 970.3v8M503.7 814.1v150.7M614.7 883.2v11M616.2 880.2v17M617.7 878.7v20M619.2 877.2v23M620.7 877.2v9.5M620.7 890.7v9.5M622.2 877.2v9.5M622.2 890.7v9.5M623.7 877.2v23M625.2 878.7v20M626.7 880.2v17M628.2 883.2v11M739.2 812.6v150.7M740.7 799.1v8M740.7 970.3v8M742.2 793.1v3.5M742.2 980.8v3.5M743.7 788.6v3.5M743.7 985.3v3.5M745.2 785.6v2M745.2 989.8v2M746.7 782.6v2M746.7 992.8v2M748.2 779.6v2M749.7 776.6v2M749.7 998.8v2M751.2 773.6v2M751.2 1001.8v2"/>
<path stroke="#ff3a00" d="M494.7 779.6v2M497.7 787.1v2M497.7 988.3v2M499.2 791.6v2M499.2 983.8v2M500.7 796.1v6.5M500.7 974.8v6.5M502.2 806.6v164.2M620.7 886.2v5M622.2 886.2v5M740.7 806.6v164.2M742.2 796.1v6.5M742.2 974.8v6.5M743.7 791.6v2M743.7 983.8v2M745.2 787.1v2M745.2 988.3v2M748.2 995.8v2"/>
<path stroke="#ff2700" d="M491.7 775.1v2M491.7 1000.3v2M493.2 778.1v2M493.2 997.3v2M494.7 781.1v2M494.7 994.3v2M496.2 784.1v2M496.2 991.3v2M497.7 788.6v2M497.7 986.8v2M499.2 793.1v5M499.2 979.3v5M500.7 802.1v173.2M742.2 802.1v173.2M743.7 793.1v5M743.7 979.3v5M745.2 788.6v2M745.2 986.8v2M746.7 784.1v2M746.7 991.3v2M748.2 781.1v2M748.2 994.3v2M749.7 778.1v2M749.7 997.3v2M751.2 775.1v2M751.2 1000.3v2"/>
<path stroke="#ff1500" d="M494.7 782.6v2M494.7 992.8v2M496.2 785.6v3.5M496.2 988.3v3.5M497.7 790.1v5M497.7 982.3v5M499.2 797.6v182.2M743.7 797.6v182.2M745.2 790.1v5M745.2 982.3v5M746.7 785.6v3.5M746.7 988.3v3.5M748.2 782.6v2M748.2 992.8v2"/>
<path stroke="#ff0200" d="M491.7 776.6v2M491.7 998.8v2M493.2 779.6v2M493.2 995.8v2M494.7 784.1v2M494.7 991.3v2M496.2 788.6v3.5M496.2 985.3v3.5M497.7 794.6v17M497.7 965.8v17M745.2 794.6v17M745.2 965.8v17M746.7 788.6v3.5M746.7 985.3v3.5M748.2 784.1v2M748.2 991.3v2M749.7 779.6v2M749.7 995.8v2M751.2 776.6v2M751.2 998.8v2"/>
<path stroke="#ef0000" d="M491.7 778.1v2M491.7 997.3v2M493.2 781.1v2M493.2 994.3v2M494.7 785.6v3.5M494.7 988.3v3.5M496.2 791.6v9.5M496.2 977.8v8M497.7 811.1v155.2M745.2 811.1v155.2M746.7 791.6v8M746.7 976.3v9.5M748.2 785.6v3.5M748.2 988.3v3.5M749.7 781.1v2M749.7 994.3v2M751.2 778.1v2M751.2 997.3v2"/>
<path stroke="#dc0000" d="M491.7 779.6v2M491.7 995.8v2M493.2 782.6v3.5M493.2 991.3v3.5M494.7 788.6v6.5M494.7 982.3v6.5M496.2 800.6v177.7M746.7 799.1v177.7M748.2 788.6v6.5M748.2 982.3v6.5M749.7 782.6v3.5M749.7 991.3v3.5M751.2 779.6v2M751.2 995.8v2"/>
<path stroke="#ca0000" d="M491.7 781.1v2M491.7 994.3v2M493.2 785.6v5M493.2 986.8v5M494.7 794.6v188.2M748.2 794.6v188.2M749.7 785.6v5M749.7 986.8v5M751.2 781.1v2M751.2 994.3v2"/>
<path stroke="#b70000" d="M491.7 782.6v5M491.7 989.8v5M493.2 790.1v197.2M749.7 790.1v197.2M751.2 782.6v5M751.2 989.8v5"/>
<path stroke="#a50000" d="M491.7 787.1v203.2M751.2 787.1v203.2"/>
</g>
<rect x="143.3" y="835.5" width="154.7" height="106.3" rx="1.5" fill="none" stroke="#fff" stroke-width="2.2" stroke-dasharray="8 8.06"/>
<rect x="556.2" y="835.5" width="130.4" height="106.3" rx="1.5" fill="none" stroke="#fff" stroke-width="2.2" stroke-dasharray="8 8.06"/>
<path d="M66.5 12V276.5H375.4M143.5 276.5v-3M220.5 276.5v-3M298.5 276.5v-3M375.5 276.5v-3M66.5 16.5h3M66.5 146.5h3" fill="none" stroke="#757575" stroke-width="1"/>
<path d="M66.5 384V649.5H375.4M143.5 649.5v-3M220.5 649.5v-3M298.5 649.5v-3M375.5 649.5v-3M66.5 384.5h3M66.5 516.5h3" fill="none" stroke="#757575" stroke-width="1"/>
<path d="M490.5 11.8V277.5H751.9M556.5 277.5v-3M621.5 277.5v-3M686.5 277.5v-3M751.5 277.5v-3M490.5 11.5h3M490.5 144.5h3" fill="none" stroke="#757575" stroke-width="1"/>
<path d="M490.5 384V649.5H751.9M556.5 649.5v-3M621.5 649.5v-3M686.5 649.5v-3M751.5 649.5v-3M490.5 384.5h3M490.5 516.5h3" fill="none" stroke="#757575" stroke-width="1"/>
<defs>
<mask id="ma" maskUnits="userSpaceOnUse" x="62.4" y="44.9" width="317" height="202.6"><g fill="none" stroke="#fff" stroke-linecap="round"><path d="M66.4 48.9v34.3M66.4 133.6v4.2M66.4 143.9v4.6M66.4 154.6v4.2M66.4 209.2v34.3M72.6 48.9v40.2M72.6 133.6v4.2M72.6 143.9v4.6M72.6 154.6v4.2M72.6 203.3v40.2M78.8 48.9v46M78.8 133.6v4.2M78.8 143.9v4.6M78.8 154.6v4.2M78.8 197.5v46M84.9 48.9v54.6M84.9 133.6v4.2M84.9 143.9v4.6M84.9 154.6v4.2M84.9 188.9v54.6M91.1 48.9v59.8M91.1 133.6v4.2M91.1 143.9v4.6M91.1 154.6v4.2M91.1 183.7v59.8M97.3 48.9v64.8M97.3 133.6v4.2M97.3 143.9v4.6M97.3 154.6v4.2M97.3 178.7v64.8M103.5 48.9v69.4M103.5 133.6v4.2M103.5 143.9v4.6M103.5 154.6v4.2M103.5 174.1v69.4M109.7 48.9v76.8M109.7 133.6v4.2M109.7 143.9v4.6M109.7 154.6v4.2M109.7 166.7v76.8M115.8 48.9v82.6M115.8 143.9v4.6M115.8 160.9v82.6M122 48.9v86.2M122 143.9v4.6M122 157.3v86.2M128.2 48.9v89.3M128.2 143.9v4.6M128.2 154.2v89.3M134.4 48.9v194.6M140.6 48.9v88.1M140.6 155.4v88.1M146.7 48.9v85.7M146.7 157.8v85.7M152.9 48.9v85.7M152.9 157.8v85.7M159.1 48.9v85.7M159.1 157.8v85.7M165.3 48.9v85.7M165.3 157.8v85.7M171.5 48.9v85.7M171.5 157.8v85.7M177.6 48.9v85.7M177.6 157.8v85.7M183.8 48.9v85.7M183.8 157.8v85.7M190 48.9v85.7M190 157.8v85.7M196.2 48.9v85.7M196.2 157.8v85.7M202.4 48.9v85.7M202.4 157.8v85.7M208.5 48.9v85.7M208.5 157.8v85.7M214.7 48.9v85.7M214.7 157.8v85.7M220.9 48.9v85.7M220.9 157.8v85.7M227.1 48.9v85.7M227.1 157.8v85.7M233.3 48.9v85.7M233.3 157.8v85.7M239.4 48.9v85.7M239.4 157.8v85.7M245.6 48.9v85.7M245.6 157.8v85.7M251.8 48.9v85.7M251.8 157.8v85.7M258 48.9v85.7M258 157.8v85.7M264.2 48.9v85.7M264.2 157.8v85.7M270.3 48.9v85.7M270.3 157.8v85.7M276.5 48.9v85.7M276.5 157.8v85.7M282.7 48.9v85.7M282.7 157.8v85.7M288.9 48.9v85.7M288.9 157.8v85.7M295.1 48.9v85.7M295.1 157.8v85.7M301.2 48.9v88.1M301.2 155.4v88.1M307.4 48.9v194.6M313.6 48.9v89.3M313.6 143.9v4.6M313.6 154.2v89.3M319.8 48.9v86.2M319.8 143.9v4.6M319.8 157.3v86.2M326 48.9v82.6M326 143.9v4.6M326 160.9v82.6M332.1 48.9v76.8M332.1 133.6v4.2M332.1 143.9v4.6M332.1 154.6v4.2M332.1 166.7v76.8M338.3 48.9v69.4M338.3 133.6v4.2M338.3 143.9v4.6M338.3 154.6v4.2M338.3 174.1v69.4M344.5 48.9v64.8M344.5 133.6v4.2M344.5 143.9v4.6M344.5 154.6v4.2M344.5 178.7v64.8M350.7 48.9v59.8M350.7 133.6v4.2M350.7 143.9v4.6M350.7 154.6v4.2M350.7 183.7v59.8M356.9 48.9v54.6M356.9 133.6v4.2M356.9 143.9v4.6M356.9 154.6v4.2M356.9 188.9v54.6M363 48.9v46M363 133.6v4.2M363 143.9v4.6M363 154.6v4.2M363 197.5v46M369.2 48.9v40.2M369.2 133.6v4.2M369.2 143.9v4.6M369.2 154.6v4.2M369.2 203.3v40.2M375.4 48.9v34.3M375.4 133.6v4.2M375.4 143.9v4.6M375.4 154.6v4.2M375.4 209.2v34.3" stroke-width="3.9"/><path d="M66.4 86.3v0M66.4 89.7v0M66.4 93.2v0M66.4 97v0M66.4 101v0M66.4 105.3v0M66.4 109.8v0M66.4 114.7v0M66.4 119.9v0M66.4 125.4v0M66.4 167v0M66.4 172.5v0M66.4 177.7v0M66.4 182.6v0M66.4 187.1v0M66.4 191.4v0M66.4 195.4v0M66.4 199.2v0M66.4 202.7v0M66.4 206.1v0M72.6 92.3v0M72.6 95.6v0M72.6 99.1v0M72.6 102.9v0M72.6 106.9v0M72.6 111.2v0M72.6 115.8v0M72.6 120.7v0M72.6 125.9v0M72.6 166.5v0M72.6 171.7v0M72.6 176.6v0M72.6 181.2v0M72.6 185.5v0M72.6 189.5v0M72.6 193.3v0M72.6 196.8v0M72.6 200.1v0M78.8 98v0M78.8 101.3v0M78.8 104.9v0M78.8 108.6v0M78.8 112.7v0M78.8 116.9v0M78.8 121.5v0M78.8 126.4v0M78.8 166v0M78.8 170.9v0M78.8 175.5v0M78.8 179.7v0M78.8 183.8v0M78.8 187.5v0M78.8 191.1v0M78.8 194.4v0M84.9 106.8v0M84.9 110.3v0M84.9 114.1v0M84.9 118.1v0M84.9 122.3v0M84.9 126.9v0M84.9 165.5v0M84.9 170.1v0M84.9 174.3v0M84.9 178.3v0M84.9 182.1v0M84.9 185.6v0M91.1 112v0M91.1 115.5v0M91.1 119.2v0M91.1 123.2v0M91.1 127.4v0M91.1 165v0M91.1 169.2v0M91.1 173.2v0M91.1 176.9v0M91.1 180.4v0M97.3 116.9v0M97.3 120.3v0M97.3 124v0M97.3 127.9v0M97.3 164.5v0M97.3 168.4v0M97.3 172.1v0M97.3 175.5v0M103.5 121.5v0M103.5 124.8v0M103.5 128.4v0M103.5 164v0M103.5 167.6v0M103.5 170.9v0M109.7 128.9v0M109.7 163.5v0M115.8 134.7v0M115.8 138.2v0M115.8 154.2v0M115.8 157.7v0M122 138.2v0M122 154.2v0M319.8 138.2v0M319.8 154.2v0M326 134.7v0M326 138.2v0M326 154.2v0M326 157.7v0M332.1 128.9v0M332.1 163.5v0M338.3 121.5v0M338.3 124.8v0M338.3 128.4v0M338.3 164v0M338.3 167.6v0M338.3 170.9v0M344.5 116.9v0M344.5 120.3v0M344.5 124v0M344.5 127.9v0M344.5 164.5v0M344.5 168.4v0M344.5 172.1v0M344.5 175.5v0M350.7 112v0M350.7 115.5v0M350.7 119.2v0M350.7 123.2v0M350.7 127.4v0M350.7 165v0M350.7 169.2v0M350.7 173.2v0M350.7 176.9v0M350.7 180.4v0M356.9 106.8v0M356.9 110.3v0M356.9 114.1v0M356.9 118.1v0M356.9 122.3v0M356.9 126.9v0M356.9 165.5v0M356.9 170.1v0M356.9 174.3v0M356.9 178.3v0M356.9 182.1v0M356.9 185.6v0M363 98v0M363 101.3v0M363 104.9v0M363 108.6v0M363 112.7v0M363 116.9v0M363 121.5v0M363 126.4v0M363 166v0M363 170.9v0M363 175.5v0M363 179.7v0M363 183.8v0M363 187.5v0M363 191.1v0M363 194.4v0M369.2 92.3v0M369.2 95.6v0M369.2 99.1v0M369.2 102.9v0M369.2 106.9v0M369.2 111.2v0M369.2 115.8v0M369.2 120.7v0M369.2 125.9v0M369.2 166.5v0M369.2 171.7v0M369.2 176.6v0M369.2 181.2v0M369.2 185.5v0M369.2 189.5v0M369.2 193.3v0M369.2 196.8v0M369.2 200.1v0M375.4 86.3v0M375.4 89.7v0M375.4 93.2v0M375.4 97v0M375.4 101v0M375.4 105.3v0M375.4 109.8v0M375.4 114.7v0M375.4 119.9v0M375.4 125.4v0M375.4 167v0M375.4 172.5v0M375.4 177.7v0M375.4 182.6v0M375.4 187.1v0M375.4 191.4v0M375.4 195.4v0M375.4 199.2v0M375.4 202.7v0M375.4 206.1v0" stroke-width="3.8"/></g></mask>
<filter id="bla" x="-20%" y="-20%" width="140%" height="140%"><feGaussianBlur stdDeviation="2.2"/></filter>
<linearGradient id="ga1" gradientUnits="userSpaceOnUse" x1="0" y1="48.9" x2="0" y2="146.2"><stop offset="0" stop-color="#7c0000" stop-opacity="0"/><stop offset="0.28" stop-color="#7c0000" stop-opacity="0.92"/><stop offset="1" stop-color="#7c0000" stop-opacity="1"/></linearGradient>
<linearGradient id="ga3" gradientUnits="userSpaceOnUse" x1="286.6" y1="0" x2="309.7" y2="0"><stop offset="0" stop-color="#cc0606" stop-opacity="0"/><stop offset="1" stop-color="#cc0606" stop-opacity="1"/></linearGradient>
<radialGradient id="ga2" gradientUnits="userSpaceOnUse" cx="263.4" cy="158.2" r="86" gradientTransform="translate(263.4 158.2) scale(1 0.95) translate(-263.4 -158.2)"><stop offset="0" stop-color="#7c0000" stop-opacity="0.97"/><stop offset="0.6" stop-color="#7c0000" stop-opacity="0.8"/><stop offset="1" stop-color="#7c0000" stop-opacity="0"/></radialGradient>
</defs>
<g mask="url(#ma)">
<rect x="62.4" y="44.9" width="317" height="202.6" fill="#cf0606"/>
<rect x="62.4" y="44.9" width="317" height="101.3" fill="url(#ga1)"/>
<rect x="286.6" y="44.9" width="92.8" height="87.3" fill="url(#ga3)"/>
<rect x="62.4" y="146.2" width="317" height="101.3" fill="url(#ga2)"/>
<polygon points="62.4,162.2 62.4,210.2 115.8,162.2" fill="#800000" opacity="0.85" filter="url(#bla)"/>
<polygon points="379.4,162.2 379.4,210.2 326,162.2" fill="#800000" opacity="0.85" filter="url(#bla)"/>
<ellipse cx="131.3" cy="146.2" rx="14" ry="7" fill="#f01010" opacity="0.85"/>
<ellipse cx="310.5" cy="146.2" rx="14" ry="7" fill="#f01010" opacity="0.85"/>
</g>
<defs><mask id="mb" maskUnits="userSpaceOnUse" x="486.9" y="9.8" width="269" height="269.2"><path d="M490.9 47.2v33.1M490.9 83.7v0M490.9 87.4v0M490.9 91.3v0M490.9 95.5v0M490.9 100v0M490.9 104.9v0M490.9 110.2v0M490.9 116.1v0M490.9 122.7v0M490.9 130.2v0M490.9 144.4v0M490.9 158.6v0M490.9 166.1v0M490.9 172.7v0M490.9 178.6v0M490.9 183.9v0M490.9 188.8v0M490.9 193.3v0M490.9 197.5v0M490.9 201.4v0M490.9 205.1v0M490.9 208.5v33.1M496.1 54.1v33.1M496.1 90.6v0M496.1 94.3v0M496.1 98.2v0M496.1 102.4v0M496.1 106.9v0M496.1 111.8v0M496.1 117.2v0M496.1 123.1v0M496.1 129.7v0M496.1 144.4v0M496.1 159.1v0M496.1 165.7v0M496.1 171.6v0M496.1 177v0M496.1 181.9v0M496.1 186.4v0M496.1 190.6v0M496.1 194.5v0M496.1 198.2v0M496.1 201.6v33.1M501.3 60.8v33.3M501.3 97.6v0M501.3 101.3v0M501.3 105.2v0M501.3 109.4v0M501.3 113.9v0M501.3 118.8v0M501.3 124.2v0M501.3 130.2v0M501.3 144.4v0M501.3 158.6v0M501.3 164.6v0M501.3 170v0M501.3 174.9v0M501.3 179.4v0M501.3 183.6v0M501.3 187.5v0M501.3 191.2v0M501.3 194.7v33.3M506.6 67.5v30.4M506.6 101.2v0M506.6 104.7v0M506.6 108.5v0M506.6 112.4v0M506.6 116.6v0M506.6 121.2v0M506.6 126.3v0M506.6 132.4v0M506.6 144.4v0M506.6 156.4v0M506.6 162.5v0M506.6 167.6v0M506.6 172.2v0M506.6 176.4v0M506.6 180.3v0M506.6 184.1v0M506.6 187.6v0M506.6 190.9v30.4M511.8 74.5v33M511.8 111v0M511.8 114.7v0M511.8 118.6v0M511.8 123v0M511.8 128.5v0M511.8 135.1v0M511.8 144.4v0M511.8 153.7v0M511.8 160.3v0M511.8 165.8v0M511.8 170.2v0M511.8 174.1v0M511.8 177.8v0M511.8 181.2v33M517 81.8v19M517 104.4v9.3M517 117.1v0M517 121.3v0M517 126.3v0M517 132.5v0M517 140v0M517 144.4v0M517 148.8v0M517 156.3v0M517 162.5v0M517 167.5v0M517 171.7v0M517 175.1v9.3M517 188v19M522.2 89.8v19M522.2 112.3v3.1M522.2 119.2v0M522.2 123.8v0M522.2 129.4v0M522.2 136.2v0M522.2 144.4v0M522.2 152.6v0M522.2 159.4v0M522.2 165v0M522.2 169.6v0M522.2 173.4v3.1M522.2 180v19M527.4 97.5v21.4M527.4 123.4v0M527.4 129v0M527.4 135.7v0M527.4 144.4v0M527.4 153.1v0M527.4 159.8v0M527.4 165.4v0M527.4 169.9v21.4M532.7 105.3v19M532.7 131.2v0M532.7 138.4v0M532.7 144.4v0M532.7 150.4v0M532.7 157.6v0M532.7 164.5v19M537.9 113.9v19M537.9 136.8v0M537.9 144.4v0M537.9 152v0M537.9 155.9v19M543.1 123.3v42.2M548.3 135.7v17.4M553.5 144.4v0M558.8 144.4v0M564 144.4v0M569.2 144.4v0M574.4 144.4v0M579.6 144.4v0M584.9 144.4v0M590.1 144.4v0M595.3 144.4v0M600.5 144.4v0M605.7 144.4v0M611 144.4v0M616.2 144.4v0M621.4 144.4v0M626.6 144.4v0M631.8 144.4v0M637.1 144.4v0M642.3 144.4v0M647.5 144.4v0M652.7 144.4v0M657.9 144.4v0M663.2 144.4v0M668.4 144.4v0M673.6 144.4v0M678.8 144.4v0M684 144.4v0M689.3 144.4v0M694.5 135.7v17.4M699.7 123.3v42.2M704.9 113.9v19M704.9 136.8v0M704.9 144.4v0M704.9 152v0M704.9 155.9v19M710.1 105.3v19M710.1 131.2v0M710.1 138.4v0M710.1 144.4v0M710.1 150.4v0M710.1 157.6v0M710.1 164.5v19M715.4 97.5v21.4M715.4 123.4v0M715.4 129v0M715.4 135.7v0M715.4 144.4v0M715.4 153.1v0M715.4 159.8v0M715.4 165.4v0M715.4 169.9v21.4M720.6 89.8v19M720.6 112.3v3.1M720.6 119.2v0M720.6 123.8v0M720.6 129.4v0M720.6 136.2v0M720.6 144.4v0M720.6 152.6v0M720.6 159.4v0M720.6 165v0M720.6 169.6v0M720.6 173.4v3.1M720.6 180v19M725.8 81.8v19M725.8 104.4v9.3M725.8 117.1v0M725.8 121.3v0M725.8 126.3v0M725.8 132.5v0M725.8 140v0M725.8 144.4v0M725.8 148.8v0M725.8 156.3v0M725.8 162.5v0M725.8 167.5v0M725.8 171.7v0M725.8 175.1v9.3M725.8 188v19M731 74.5v33M731 111v0M731 114.7v0M731 118.6v0M731 123v0M731 128.5v0M731 135.1v0M731 144.4v0M731 153.7v0M731 160.3v0M731 165.8v0M731 170.2v0M731 174.1v0M731 177.8v0M731 181.2v33M736.2 67.5v30.4M736.2 101.2v0M736.2 104.7v0M736.2 108.5v0M736.2 112.4v0M736.2 116.6v0M736.2 121.2v0M736.2 126.3v0M736.2 132.4v0M736.2 144.4v0M736.2 156.4v0M736.2 162.5v0M736.2 167.6v0M736.2 172.2v0M736.2 176.4v0M736.2 180.3v0M736.2 184.1v0M736.2 187.6v0M736.2 190.9v30.4M741.5 60.8v33.3M741.5 97.6v0M741.5 101.3v0M741.5 105.2v0M741.5 109.4v0M741.5 113.9v0M741.5 118.8v0M741.5 124.2v0M741.5 130.2v0M741.5 144.4v0M741.5 158.6v0M741.5 164.6v0M741.5 170v0M741.5 174.9v0M741.5 179.4v0M741.5 183.6v0M741.5 187.5v0M741.5 191.2v0M741.5 194.7v33.3M746.7 54.1v33.1M746.7 90.6v0M746.7 94.3v0M746.7 98.2v0M746.7 102.4v0M746.7 106.9v0M746.7 111.8v0M746.7 117.2v0M746.7 123.1v0M746.7 129.7v0M746.7 144.4v0M746.7 159.1v0M746.7 165.7v0M746.7 171.6v0M746.7 177v0M746.7 181.9v0M746.7 186.4v0M746.7 190.6v0M746.7 194.5v0M746.7 198.2v0M746.7 201.6v33.1M751.9 47.2v33.1M751.9 83.7v0M751.9 87.4v0M751.9 91.3v0M751.9 95.5v0M751.9 100v0M751.9 104.9v0M751.9 110.2v0M751.9 116.1v0M751.9 122.7v0M751.9 130.2v0M751.9 144.4v0M751.9 158.6v0M751.9 166.1v0M751.9 172.7v0M751.9 178.6v0M751.9 183.9v0M751.9 188.8v0M751.9 193.3v0M751.9 197.5v0M751.9 201.4v0M751.9 205.1v0M751.9 208.5v33.1" fill="none" stroke="#fff" stroke-width="3.76" stroke-linecap="round"/></mask>
<filter id="blb" x="-10%" y="-10%" width="120%" height="120%"><feGaussianBlur stdDeviation="5"/></filter></defs>
<g mask="url(#mb)">
<rect x="486.9" y="9.8" width="269" height="269.2" fill="#b80909"/>
<g filter="url(#blb)" fill="#7a0000">
<polygon points="482.9,80.3 490.9,80.3 496.1,84.8 501.3,89.2 506.6,93.6 511.8,98.3 517,103.1 522.2,108.3 527.4,113.5 532.7,118.6 537.9,124.3 543.1,130.5 548.3,138.7 548.3,150.1 543.1,158.3 537.9,164.5 532.7,170.2 527.4,175.3 522.2,180.5 517,185.7 511.8,190.5 506.6,195.2 501.3,199.6 496.1,204 490.9,208.5 482.9,208.5"/>
<polygon points="759.9,80.3 751.9,80.3 746.7,84.8 741.5,89.2 736.2,93.6 731,98.3 725.8,103.1 720.6,108.3 715.4,113.5 710.1,118.6 704.9,124.3 699.7,130.5 694.5,138.7 694.5,150.1 699.7,158.3 704.9,164.5 710.1,170.2 715.4,175.3 720.6,180.5 725.8,185.7 731,190.5 736.2,195.2 741.5,199.6 746.7,204 751.9,208.5 759.9,208.5"/>
<polygon points="486.9,137.4 755.9,137.4 755.9,151.4 486.9,151.4"/>
</g>
<rect x="545.8" y="9.8" width="5" height="269.2" fill="#dc1010"/>
<rect x="692" y="9.8" width="5" height="269.2" fill="#dc1010"/>
</g>
<defs>
<mask id="mc" maskUnits="userSpaceOnUse" x="62.4" y="430" width="317" height="173.4"><g fill="none" stroke="#fff" stroke-linecap="round"><path d="M66.4 434v28.4M66.4 507.5v1.2M66.4 514.3v4.8M66.4 524.7v1.2M66.4 571v28.4M72.6 434v31.7M72.6 507.5v1.2M72.6 514.3v4.8M72.6 524.7v1.2M72.6 567.7v31.7M78.8 434v36.7M78.8 507.5v1.2M78.8 514.3v4.8M78.8 524.7v1.2M78.8 562.7v36.7M84.9 434v40.7M84.9 507.5v1.2M84.9 514.3v4.8M84.9 524.7v1.2M84.9 558.7v40.7M91.1 434v45.5M91.1 507.5v1.2M91.1 514.3v4.8M91.1 524.7v1.2M91.1 553.9v45.5M97.3 434v48.2M97.3 507.5v1.2M97.3 514.3v4.8M97.3 524.7v1.2M97.3 551.2v48.2M103.5 434v45.7M103.5 507.5v1.2M103.5 514.3v4.8M103.5 524.7v1.2M103.5 553.7v45.7M109.7 434v48.2M109.7 507.5v1.2M109.7 514.3v4.8M109.7 524.7v1.2M109.7 551.2v48.2M115.8 434v50.1M115.8 507.5v1.2M115.8 514.3v4.8M115.8 524.7v1.2M115.8 549.3v50.1M122 434v49.7M122 507.5v1.2M122 514.3v4.8M122 524.7v1.2M122 549.7v49.7M128.2 434v52.7M128.2 507.5v1.2M128.2 514.3v4.8M128.2 524.7v1.2M128.2 546.7v52.7M134.4 434v55.7M134.4 507.5v1.2M134.4 514.3v4.8M134.4 524.7v1.2M134.4 543.7v55.7M140.6 434v61.4M140.6 507.5v1.2M140.6 514.3v4.8M140.6 524.7v1.2M140.6 538v61.4M146.7 434v67.9M146.7 507.5v1.2M146.7 514.3v4.8M146.7 524.7v1.2M146.7 531.5v67.9M152.9 434v165.4M159.1 434v165.4M165.3 434v59.3M165.3 540.1v59.3M171.5 434v52.8M171.5 546.6v52.8M177.6 434v48M177.6 551.4v48M183.8 434v44.4M183.8 555v44.4M190 434v41.5M190 557.9v41.5M196.2 434v39.4M196.2 560v39.4M202.4 434v37.7M202.4 561.7v37.7M208.5 434v36.6M208.5 562.8v36.6M214.7 434v35.9M214.7 563.5v35.9M220.9 434v35.7M220.9 563.7v35.7M227.1 434v35.9M227.1 563.5v35.9M233.3 434v36.6M233.3 562.8v36.6M239.4 434v37.7M239.4 561.7v37.7M245.6 434v39.4M245.6 560v39.4M251.8 434v41.5M251.8 557.9v41.5M258 434v44.4M258 555v44.4M264.2 434v48M264.2 551.4v48M270.3 434v52.8M270.3 546.6v52.8M276.5 434v59.3M276.5 540.1v59.3M282.7 434v165.4M288.9 434v165.4M295.1 434v67.9M295.1 507.5v1.2M295.1 514.3v4.8M295.1 524.7v1.2M295.1 531.5v67.9M301.2 434v61.4M301.2 507.5v1.2M301.2 514.3v4.8M301.2 524.7v1.2M301.2 538v61.4M307.4 434v55.7M307.4 507.5v1.2M307.4 514.3v4.8M307.4 524.7v1.2M307.4 543.7v55.7M313.6 434v52.7M313.6 507.5v1.2M313.6 514.3v4.8M313.6 524.7v1.2M313.6 546.7v52.7M319.8 434v49.7M319.8 507.5v1.2M319.8 514.3v4.8M319.8 524.7v1.2M319.8 549.7v49.7M326 434v50.1M326 507.5v1.2M326 514.3v4.8M326 524.7v1.2M326 549.3v50.1M332.1 434v48.2M332.1 507.5v1.2M332.1 514.3v4.8M332.1 524.7v1.2M332.1 551.2v48.2M338.3 434v45.7M338.3 507.5v1.2M338.3 514.3v4.8M338.3 524.7v1.2M338.3 553.7v45.7M344.5 434v48.2M344.5 507.5v1.2M344.5 514.3v4.8M344.5 524.7v1.2M344.5 551.2v48.2M350.7 434v45.5M350.7 507.5v1.2M350.7 514.3v4.8M350.7 524.7v1.2M350.7 553.9v45.5M356.9 434v40.7M356.9 507.5v1.2M356.9 514.3v4.8M356.9 524.7v1.2M356.9 558.7v40.7M363 434v36.7M363 507.5v1.2M363 514.3v4.8M363 524.7v1.2M363 562.7v36.7M369.2 434v31.7M369.2 507.5v1.2M369.2 514.3v4.8M369.2 524.7v1.2M369.2 567.7v31.7M375.4 434v28.4M375.4 507.5v1.2M375.4 514.3v4.8M375.4 524.7v1.2M375.4 571v28.4" stroke-width="3.9"/><path d="M66.4 466.5v0M66.4 470.7v0M66.4 475v0M66.4 479.5v0M66.4 484.1v0M66.4 488.9v0M66.4 493.8v0M66.4 498.9v0M66.4 504.1v0M66.4 529.3v0M66.4 534.5v0M66.4 539.6v0M66.4 544.5v0M66.4 549.3v0M66.4 553.9v0M66.4 558.4v0M66.4 562.7v0M66.4 566.9v0M72.6 468.9v0M72.6 473.2v0M72.6 477.6v0M72.6 482.2v0M72.6 486.9v0M72.6 491.7v0M72.6 501.9v0M72.6 531.5v0M72.6 541.7v0M72.6 546.5v0M72.6 551.2v0M72.6 555.8v0M72.6 560.2v0M72.6 564.5v0M78.8 475v0M78.8 479.5v0M78.8 484.1v0M78.8 488.9v0M78.8 544.5v0M78.8 549.3v0M78.8 553.9v0M78.8 558.4v0M84.9 477.6v0M84.9 482.2v0M84.9 486.9v0M84.9 491.7v0M84.9 541.7v0M84.9 546.5v0M84.9 551.2v0M84.9 555.8v0M91.1 484.1v0M91.1 488.9v0M91.1 493.8v0M91.1 504.1v0M91.1 529.3v0M91.1 539.6v0M91.1 544.5v0M91.1 549.3v0M97.3 486.9v0M97.3 491.7v0M97.3 496.7v0M97.3 501.9v0M97.3 531.5v0M97.3 536.7v0M97.3 541.7v0M97.3 546.5v0M103.5 484.1v0M103.5 488.9v0M103.5 493.8v0M103.5 498.9v0M103.5 504.1v0M103.5 529.3v0M103.5 534.5v0M103.5 539.6v0M103.5 544.5v0M103.5 549.3v0M109.7 486.9v0M109.7 491.7v0M109.7 501.9v0M109.7 531.5v0M109.7 541.7v0M109.7 546.5v0M115.8 488.9v0M115.8 544.5v0M122 486.9v0M122 491.7v0M122 541.7v0M122 546.5v0M128.2 491.2v0M128.2 495.4v0M128.2 504.1v0M128.2 529.3v0M128.2 538v0M128.2 542.2v0M134.4 493.3v0M134.4 497.5v0M134.4 501.9v0M134.4 531.5v0M134.4 535.9v0M134.4 540.1v0M140.6 499.7v0M140.6 504.1v0M140.6 529.3v0M140.6 533.7v0M301.2 499.7v0M301.2 504.1v0M301.2 529.3v0M301.2 533.7v0M307.4 493.3v0M307.4 497.5v0M307.4 501.9v0M307.4 531.5v0M307.4 535.9v0M307.4 540.1v0M313.6 491.2v0M313.6 495.4v0M313.6 504.1v0M313.6 529.3v0M313.6 538v0M313.6 542.2v0M319.8 486.9v0M319.8 491.7v0M319.8 541.7v0M319.8 546.5v0M326 488.9v0M326 544.5v0M332.1 486.9v0M332.1 491.7v0M332.1 501.9v0M332.1 531.5v0M332.1 541.7v0M332.1 546.5v0M338.3 484.1v0M338.3 488.9v0M338.3 493.8v0M338.3 498.9v0M338.3 504.1v0M338.3 529.3v0M338.3 534.5v0M338.3 539.6v0M338.3 544.5v0M338.3 549.3v0M344.5 486.9v0M344.5 491.7v0M344.5 496.7v0M344.5 501.9v0M344.5 531.5v0M344.5 536.7v0M344.5 541.7v0M344.5 546.5v0M350.7 484.1v0M350.7 488.9v0M350.7 493.8v0M350.7 504.1v0M350.7 529.3v0M350.7 539.6v0M350.7 544.5v0M350.7 549.3v0M356.9 477.6v0M356.9 482.2v0M356.9 486.9v0M356.9 491.7v0M356.9 541.7v0M356.9 546.5v0M356.9 551.2v0M356.9 555.8v0M363 475v0M363 479.5v0M363 484.1v0M363 488.9v0M363 544.5v0M363 549.3v0M363 553.9v0M363 558.4v0M369.2 468.9v0M369.2 473.2v0M369.2 477.6v0M369.2 482.2v0M369.2 486.9v0M369.2 491.7v0M369.2 501.9v0M369.2 531.5v0M369.2 541.7v0M369.2 546.5v0M369.2 551.2v0M369.2 555.8v0M369.2 560.2v0M369.2 564.5v0M375.4 466.5v0M375.4 470.7v0M375.4 475v0M375.4 479.5v0M375.4 484.1v0M375.4 488.9v0M375.4 493.8v0M375.4 498.9v0M375.4 504.1v0M375.4 529.3v0M375.4 534.5v0M375.4 539.6v0M375.4 544.5v0M375.4 549.3v0M375.4 553.9v0M375.4 558.4v0M375.4 562.7v0M375.4 566.9v0" stroke-width="3.8"/></g></mask>
<linearGradient id="gc1" gradientUnits="userSpaceOnUse" x1="0" y1="432" x2="0" y2="466.9"><stop offset="0" stop-color="#800000" stop-opacity="0"/><stop offset="1" stop-color="#800000" stop-opacity="0.5"/></linearGradient>
<linearGradient id="gc2" gradientUnits="userSpaceOnUse" x1="0" y1="530.7" x2="0" y2="552.7"><stop offset="0" stop-color="#7c0000" stop-opacity="1"/><stop offset="1" stop-color="#7c0000" stop-opacity="0"/></linearGradient>
<linearGradient id="gc3" gradientUnits="userSpaceOnUse" x1="0" y1="566.5" x2="0" y2="601.4"><stop offset="0" stop-color="#800000" stop-opacity="0.8"/><stop offset="0.25" stop-color="#800000" stop-opacity="0.4"/><stop offset="0.55" stop-color="#800000" stop-opacity="0.1"/><stop offset="1" stop-color="#800000" stop-opacity="0"/></linearGradient>
</defs>
<g mask="url(#mc)">
<rect x="62.4" y="430" width="317" height="173.4" fill="#cf0808"/>
<rect x="62.4" y="430" width="317" height="36.9" fill="url(#gc1)"/>
<rect x="62.4" y="466.9" width="317" height="49.8" fill="#7c0000"/>
<rect x="62.4" y="516.7" width="317" height="49.8" fill="url(#gc2)"/>
<rect x="62.4" y="566.5" width="317" height="36.9" fill="url(#gc3)"/>
<rect x="156.3" y="472.9" width="5.6" height="59.8" fill="#d80a0a"/>
<rect x="279.9" y="472.9" width="5.6" height="59.8" fill="#d80a0a"/>
</g>
<circle cx="165.3" cy="516.7" r="1.75" fill="#0a30c8"/>
<circle cx="171.5" cy="516.7" r="1.75" fill="#2878e0"/>
<circle cx="177.6" cy="516.7" r="1.75" fill="#0838d0"/>
<circle cx="183.8" cy="516.7" r="1.75" fill="#0838d0"/>
<circle cx="190" cy="516.7" r="1.75" fill="#1e6be0"/>
<circle cx="196.2" cy="516.7" r="1.75" fill="#0838d0"/>
<circle cx="202.4" cy="516.7" r="1.75" fill="#0838d0"/>
<circle cx="208.5" cy="516.7" r="1.75" fill="#0838d0"/>
<circle cx="214.7" cy="516.7" r="1.75" fill="#0838d0"/>
<circle cx="220.9" cy="516.7" r="1.75" fill="#0838d0"/>
<circle cx="227.1" cy="516.7" r="1.75" fill="#0838d0"/>
<circle cx="233.3" cy="516.7" r="1.75" fill="#0838d0"/>
<circle cx="239.4" cy="516.7" r="1.75" fill="#0838d0"/>
<circle cx="245.6" cy="516.7" r="1.75" fill="#30b0e0"/>
<circle cx="251.8" cy="516.7" r="1.75" fill="#0838d0"/>
<circle cx="258" cy="516.7" r="1.75" fill="#0838d0"/>
<circle cx="264.2" cy="516.7" r="1.75" fill="#28a0e0"/>
<circle cx="270.3" cy="516.7" r="1.75" fill="#2090e0"/>
<circle cx="276.5" cy="516.7" r="1.75" fill="#30b8e0"/>
<defs><mask id="md" maskUnits="userSpaceOnUse" x="486.9" y="382" width="269" height="269.4"><path d="M490.9 397.1v44.7M490.9 445.7v0M490.9 449.1v0M490.9 452.7v0M490.9 456.5v0M490.9 460.7v0M490.9 465.1v0M490.9 469.8v0M490.9 474.9v0M490.9 480.4v0M490.9 486.2v0M490.9 492.5v0M490.9 499.2v0M490.9 506.4v0M490.9 512.1v9.2M490.9 527v0M490.9 534.2v0M490.9 540.9v0M490.9 547.2v0M490.9 553v0M490.9 558.5v0M490.9 563.6v0M490.9 568.3v0M490.9 572.7v0M490.9 576.9v0M490.9 580.7v0M490.9 584.3v0M490.9 587.7v0M490.9 591.6v44.7M496.1 402.9v45M496.1 451.5v0M496.1 455.3v0M496.1 459.4v0M496.1 463.8v0M496.1 468.5v0M496.1 473.6v0M496.1 479v0M496.1 484.8v0M496.1 491v0M496.1 497.6v0M496.1 504.7v0M496.1 512.1v9.2M496.1 528.7v0M496.1 535.8v0M496.1 542.4v0M496.1 548.6v0M496.1 554.4v0M496.1 559.8v0M496.1 564.9v0M496.1 569.6v0M496.1 574v0M496.1 578.1v0M496.1 581.9v0M496.1 585.5v45M501.3 408.7v41.9M501.3 454.3v0M501.3 458.4v0M501.3 462.8v0M501.3 467.5v0M501.3 472.5v0M501.3 477.9v0M501.3 483.7v0M501.3 489.8v0M501.3 496.4v0M501.3 503.4v0M501.3 512.1v9.2M501.3 530v0M501.3 537v0M501.3 543.6v0M501.3 549.7v0M501.3 555.5v0M501.3 560.9v0M501.3 565.9v0M501.3 570.6v0M501.3 575v0M501.3 579.1v0M501.3 582.7v41.9M506.6 414.7v43.6M506.6 462.7v0M506.6 467.4v0M506.6 472.4v0M506.6 477.8v0M506.6 483.6v0M506.6 489.8v0M506.6 496.4v0M506.6 503.4v0M506.6 512.1v9.2M506.6 530v0M506.6 537v0M506.6 543.6v0M506.6 549.8v0M506.6 555.6v0M506.6 561v0M506.6 566v0M506.6 570.7v0M506.6 575.2v43.6M511.8 420.7v39M511.8 462.9v0M511.8 467.7v0M511.8 472.8v0M511.8 478.2v0M511.8 484.1v0M511.8 490.3v0M511.8 496.9v0M511.8 504v0M511.8 512.1v9.2M511.8 529.4v0M511.8 536.5v0M511.8 543.1v0M511.8 549.3v0M511.8 555.2v0M511.8 560.6v0M511.8 565.7v0M511.8 570.5v0M511.8 573.7v39M517 426.8v37.6M517 469.2v0M517 474.5v0M517 480v0M517 486v0M517 492.4v0M517 499.2v0M517 506.4v0M517 512.1v9.2M517 527v0M517 534.2v0M517 541v0M517 547.4v0M517 553.4v0M517 558.9v0M517 564.2v0M517 569.1v37.6M522.2 432.9v37.5M522.2 475.7v0M522.2 481.4v0M522.2 487.5v0M522.2 493.9v0M522.2 500.8v0M522.2 508.2v0M522.2 512.1v9.2M522.2 525.2v0M522.2 532.6v0M522.2 539.5v0M522.2 545.9v0M522.2 552v0M522.2 557.7v0M522.2 563v37.5M527.4 439.2v34.6M527.4 478.2v0M527.4 484v0M527.4 490.3v0M527.4 496.9v0M527.4 504v0M527.4 512.1v9.2M527.4 529.4v0M527.4 536.5v0M527.4 543.1v0M527.4 549.4v0M527.4 555.2v0M527.4 559.6v34.6M532.7 445.7v35.4M532.7 487.1v0M532.7 493.5v0M532.7 500.4v0M532.7 507.7v0M532.7 512.1v9.2M532.7 525.7v0M532.7 533v0M532.7 539.9v0M532.7 546.3v0M532.7 552.3v35.4M537.9 452.4v31.4M537.9 490.9v0M537.9 497.6v0M537.9 504.7v0M537.9 512.1v9.2M537.9 528.7v0M537.9 535.8v0M537.9 542.5v0M537.9 549.6v31.4M543.1 459.3v29.8M543.1 493.6v0M543.1 500.4v0M543.1 507.7v0M543.1 512.1v9.2M543.1 525.7v0M543.1 533v0M543.1 539.8v0M543.1 544.3v29.8M548.3 466.7v28M548.3 498.6v0M548.3 505.7v0M548.3 512.1v9.2M548.3 527.7v0M548.3 534.8v0M548.3 538.7v28M553.5 474.6v26.1M553.5 507.7v0M553.5 512.1v9.2M553.5 525.7v0M553.5 532.7v26.1M558.8 483.5v25.2M558.8 512.1v9.2M558.8 524.7v25.2M564 494.4v44.7M569.2 516.7v0M574.4 516.7v0M579.6 516.7v0M584.9 516.7v0M590.1 516.7v0M595.3 516.7v0M600.5 516.7v0M605.7 516.7v0M611 516.7v0M616.2 516.7v0M621.4 516.7v0M626.6 516.7v0M631.8 516.7v0M637.1 516.7v0M642.3 516.7v0M647.5 516.7v0M652.7 516.7v0M657.9 516.7v0M663.2 516.7v0M668.4 516.7v0M673.6 516.7v0M678.8 494.4v44.7M684 483.5v25.2M684 512.1v9.2M684 524.7v25.2M689.3 474.6v26.1M689.3 507.7v0M689.3 512.1v9.2M689.3 525.7v0M689.3 532.7v26.1M694.5 466.7v28M694.5 498.6v0M694.5 505.7v0M694.5 512.1v9.2M694.5 527.7v0M694.5 534.8v0M694.5 538.7v28M699.7 459.3v29.8M699.7 493.6v0M699.7 500.4v0M699.7 507.7v0M699.7 512.1v9.2M699.7 525.7v0M699.7 533v0M699.7 539.8v0M699.7 544.3v29.8M704.9 452.4v31.4M704.9 490.9v0M704.9 497.6v0M704.9 504.7v0M704.9 512.1v9.2M704.9 528.7v0M704.9 535.8v0M704.9 542.5v0M704.9 549.6v31.4M710.1 445.7v35.4M710.1 487.1v0M710.1 493.5v0M710.1 500.4v0M710.1 507.7v0M710.1 512.1v9.2M710.1 525.7v0M710.1 533v0M710.1 539.9v0M710.1 546.3v0M710.1 552.3v35.4M715.4 439.2v34.6M715.4 478.2v0M715.4 484v0M715.4 490.3v0M715.4 496.9v0M715.4 504v0M715.4 512.1v9.2M715.4 529.4v0M715.4 536.5v0M715.4 543.1v0M715.4 549.4v0M715.4 555.2v0M715.4 559.6v34.6M720.6 432.9v37.5M720.6 475.7v0M720.6 481.4v0M720.6 487.5v0M720.6 493.9v0M720.6 500.8v0M720.6 508.2v0M720.6 512.1v9.2M720.6 525.2v0M720.6 532.6v0M720.6 539.5v0M720.6 545.9v0M720.6 552v0M720.6 557.7v0M720.6 563v37.5M725.8 426.8v37.6M725.8 469.2v0M725.8 474.5v0M725.8 480v0M725.8 486v0M725.8 492.4v0M725.8 499.2v0M725.8 506.4v0M725.8 512.1v9.2M725.8 527v0M725.8 534.2v0M725.8 541v0M725.8 547.4v0M725.8 553.4v0M725.8 558.9v0M725.8 564.2v0M725.8 569.1v37.6M731 420.7v39M731 462.9v0M731 467.7v0M731 472.8v0M731 478.2v0M731 484.1v0M731 490.3v0M731 496.9v0M731 504v0M731 512.1v9.2M731 529.4v0M731 536.5v0M731 543.1v0M731 549.3v0M731 555.2v0M731 560.6v0M731 565.7v0M731 570.5v0M731 573.7v39M736.2 414.7v43.6M736.2 462.7v0M736.2 467.4v0M736.2 472.4v0M736.2 477.8v0M736.2 483.6v0M736.2 489.8v0M736.2 496.4v0M736.2 503.4v0M736.2 512.1v9.2M736.2 530v0M736.2 537v0M736.2 543.6v0M736.2 549.8v0M736.2 555.6v0M736.2 561v0M736.2 566v0M736.2 570.7v0M736.2 575.2v43.6M741.5 408.7v41.9M741.5 454.3v0M741.5 458.4v0M741.5 462.8v0M741.5 467.5v0M741.5 472.5v0M741.5 477.9v0M741.5 483.7v0M741.5 489.8v0M741.5 496.4v0M741.5 503.4v0M741.5 512.1v9.2M741.5 530v0M741.5 537v0M741.5 543.6v0M741.5 549.7v0M741.5 555.5v0M741.5 560.9v0M741.5 565.9v0M741.5 570.6v0M741.5 575v0M741.5 579.1v0M741.5 582.7v41.9M746.7 402.9v45M746.7 451.5v0M746.7 455.3v0M746.7 459.4v0M746.7 463.8v0M746.7 468.5v0M746.7 473.6v0M746.7 479v0M746.7 484.8v0M746.7 491v0M746.7 497.6v0M746.7 504.7v0M746.7 512.1v9.2M746.7 528.7v0M746.7 535.8v0M746.7 542.4v0M746.7 548.6v0M746.7 554.4v0M746.7 559.8v0M746.7 564.9v0M746.7 569.6v0M746.7 574v0M746.7 578.1v0M746.7 581.9v0M746.7 585.5v45M751.9 397.1v44.7M751.9 445.7v0M751.9 449.1v0M751.9 452.7v0M751.9 456.5v0M751.9 460.7v0M751.9 465.1v0M751.9 469.8v0M751.9 474.9v0M751.9 480.4v0M751.9 486.2v0M751.9 492.5v0M751.9 499.2v0M751.9 506.4v0M751.9 512.1v9.2M751.9 527v0M751.9 534.2v0M751.9 540.9v0M751.9 547.2v0M751.9 553v0M751.9 558.5v0M751.9 563.6v0M751.9 568.3v0M751.9 572.7v0M751.9 576.9v0M751.9 580.7v0M751.9 584.3v0M751.9 587.7v0M751.9 591.6v44.7" fill="none" stroke="#fff" stroke-width="3.76" stroke-linecap="round"/></mask>
<filter id="bld" x="-10%" y="-10%" width="120%" height="120%"><feGaussianBlur stdDeviation="5"/></filter></defs>
<g mask="url(#md)">
<rect x="486.9" y="382" width="269" height="269.4" fill="#b80909"/>
<g filter="url(#bld)" fill="#7a0000">
<polygon points="482.9,440.1 490.9,440.1 496.1,443.9 501.3,447.6 506.6,451.4 511.8,455.2 517,459.1 522.2,463.1 527.4,467.1 532.7,471.3 537.9,475.5 543.1,480 548.3,484.7 553.5,489.8 558.8,495.4 564,502.4 564,531 558.8,538 553.5,543.6 548.3,548.7 543.1,553.4 537.9,557.9 532.7,562.1 527.4,566.3 522.2,570.3 517,574.3 511.8,578.2 506.6,582 501.3,585.8 496.1,589.5 490.9,593.3 482.9,593.3"/>
<polygon points="759.9,440.1 751.9,440.1 746.7,443.9 741.5,447.6 736.2,451.4 731,455.2 725.8,459.1 720.6,463.1 715.4,467.1 710.1,471.3 704.9,475.5 699.7,480 694.5,484.7 689.3,489.8 684,495.4 678.8,502.4 678.8,531 684,538 689.3,543.6 694.5,548.7 699.7,553.4 704.9,557.9 710.1,562.1 715.4,566.3 720.6,570.3 725.8,574.3 731,578.2 736.2,582 741.5,585.8 746.7,589.5 751.9,593.3 759.9,593.3"/>
<polygon points="486.9,508.7 755.9,508.7 755.9,524.7 486.9,524.7"/>
</g>
<rect x="561.5" y="382" width="5" height="269.4" fill="#dc1010"/>
<rect x="676.3" y="382" width="5" height="269.4" fill="#dc1010"/>
</g>
<text x="65.8" y="309" font-size="27.5" text-anchor="middle">-2</text>
<text x="143.1" y="309" font-size="27.5" text-anchor="middle">-1</text>
<text x="220.9" y="309" font-size="27.5" text-anchor="middle">0</text>
<text x="298.1" y="309" font-size="27.5" text-anchor="middle">1</text>
<text x="375.4" y="309" font-size="27.5" text-anchor="middle">2</text>
<text x="490.3" y="309" font-size="27.5" text-anchor="middle">-2</text>
<text x="555.5" y="309" font-size="27.5" text-anchor="middle">-1</text>
<text x="621.4" y="309" font-size="27.5" text-anchor="middle">0</text>
<text x="686.6" y="309" font-size="27.5" text-anchor="middle">1</text>
<text x="751.9" y="309" font-size="27.5" text-anchor="middle">2</text>
<text x="65.8" y="681.1" font-size="27.5" text-anchor="middle">-2</text>
<text x="143.1" y="681.1" font-size="27.5" text-anchor="middle">-1</text>
<text x="220.9" y="681.1" font-size="27.5" text-anchor="middle">0</text>
<text x="298.1" y="681.1" font-size="27.5" text-anchor="middle">1</text>
<text x="375.4" y="681.1" font-size="27.5" text-anchor="middle">2</text>
<text x="490.3" y="681.1" font-size="27.5" text-anchor="middle">-2</text>
<text x="555.5" y="681.1" font-size="27.5" text-anchor="middle">-1</text>
<text x="621.4" y="681.1" font-size="27.5" text-anchor="middle">0</text>
<text x="686.6" y="681.1" font-size="27.5" text-anchor="middle">1</text>
<text x="751.9" y="681.1" font-size="27.5" text-anchor="middle">2</text>
<text x="65.4" y="1052.9" font-size="27.5" text-anchor="middle">-4</text>
<text x="142.8" y="1052.9" font-size="27.5" text-anchor="middle">-2</text>
<text x="220.7" y="1052.9" font-size="27.5" text-anchor="middle">0</text>
<text x="298" y="1052.9" font-size="27.5" text-anchor="middle">2</text>
<text x="375.4" y="1052.9" font-size="27.5" text-anchor="middle">4</text>
<text x="490.4" y="1052.9" font-size="27.5" text-anchor="middle">-4</text>
<text x="555.6" y="1052.9" font-size="27.5" text-anchor="middle">-2</text>
<text x="621.5" y="1052.9" font-size="27.5" text-anchor="middle">0</text>
<text x="686.7" y="1052.9" font-size="27.5" text-anchor="middle">2</text>
<text x="751.9" y="1052.9" font-size="27.5" text-anchor="middle">4</text>
<text x="57.4" y="26.6" font-size="27.5" text-anchor="end">3</text>
<text x="58.4" y="156.5" font-size="27.5" text-anchor="end">0</text>
<text x="57.4" y="287" font-size="27.5" text-anchor="end">-3</text>
<text x="482" y="22" font-size="27.5" text-anchor="end">2</text>
<text x="483" y="154.7" font-size="27.5" text-anchor="end">0</text>
<text x="482" y="287" font-size="27.5" text-anchor="end">-2</text>
<text x="57.4" y="394.6" font-size="27.5" text-anchor="end">2</text>
<text x="58.4" y="527" font-size="27.5" text-anchor="end">0</text>
<text x="57.4" y="659.3" font-size="27.5" text-anchor="end">-2</text>
<text x="482" y="394.6" font-size="27.5" text-anchor="end">2</text>
<text x="483" y="527" font-size="27.5" text-anchor="end">0</text>
<text x="482" y="659.3" font-size="27.5" text-anchor="end">-2</text>
<text x="57.4" y="766.1" font-size="27.5" text-anchor="end">2</text>
<text x="57.4" y="832.5" font-size="27.5" text-anchor="end">1</text>
<text x="58.4" y="899" font-size="27.5" text-anchor="end">0</text>
<text x="57.4" y="965.4" font-size="27.5" text-anchor="end">-1</text>
<text x="57.4" y="1031.9" font-size="27.5" text-anchor="end">-2</text>
<text x="482" y="766.1" font-size="27.5" text-anchor="end">2</text>
<text x="482" y="832.5" font-size="27.5" text-anchor="end">1</text>
<text x="483" y="899" font-size="27.5" text-anchor="end">0</text>
<text x="482" y="965.4" font-size="27.5" text-anchor="end">-1</text>
<text x="482" y="1031.9" font-size="27.5" text-anchor="end">-2</text>
<text transform="translate(22.5 146.3) rotate(-90)" font-size="27.3" text-anchor="middle" letter-spacing="0.6">Re(E)</text>
<text transform="translate(446.6 146) rotate(-90)" font-size="27.3" text-anchor="middle" letter-spacing="0.6">Im(E)</text>
<text transform="translate(22.5 518.9) rotate(-90)" font-size="27.3" text-anchor="middle" letter-spacing="0.6">Re(E)</text>
<text transform="translate(446.6 518.3) rotate(-90)" font-size="27.3" text-anchor="middle" letter-spacing="0.6">Im(E)</text>
<text transform="translate(24.2 890.8) rotate(-90) scale(1.15 1) skewX(-10)" font-size="23" text-anchor="middle" style="font-family:'DejaVu Sans','Liberation Sans',sans-serif;font-weight:200;stroke:#1a1a1a;stroke-width:0.4px">γ</text>
<text transform="translate(449 890.8) rotate(-90) scale(1.15 1) skewX(-10)" font-size="23" text-anchor="middle" style="font-family:'DejaVu Sans','Liberation Sans',sans-serif;font-weight:200;stroke:#1a1a1a;stroke-width:0.4px">γ</text>
<text transform="translate(218.3 343.4) scale(1.2 1) skewX(-10)" font-size="27" text-anchor="middle" style="font-family:'DejaVu Sans','Liberation Sans',sans-serif;font-weight:200;stroke:#1a1a1a;stroke-width:0.4px">γ</text>
<text transform="translate(618.8 343.4) scale(1.2 1) skewX(-10)" font-size="27" text-anchor="middle" style="font-family:'DejaVu Sans','Liberation Sans',sans-serif;font-weight:200;stroke:#1a1a1a;stroke-width:0.4px">γ</text>
<text transform="translate(218.3 715.6) scale(1.2 1) skewX(-10)" font-size="27" text-anchor="middle" style="font-family:'DejaVu Sans','Liberation Sans',sans-serif;font-weight:200;stroke:#1a1a1a;stroke-width:0.4px">γ</text>
<text transform="translate(618.8 715.6) scale(1.2 1) skewX(-10)" font-size="27" text-anchor="middle" style="font-family:'DejaVu Sans','Liberation Sans',sans-serif;font-weight:200;stroke:#1a1a1a;stroke-width:0.4px">γ</text>
<text x="220.5" y="1086.6" font-size="32" text-anchor="middle" font-style="italic">μ</text>
<text x="621" y="1086.6" font-size="32" text-anchor="middle" font-style="italic">μ</text>
<text x="220" y="32.1" font-size="30.5" text-anchor="middle">(a)</text>
<text x="620.5" y="32.1" font-size="30.5" text-anchor="middle">(b)</text>
<text x="220" y="405.4" font-size="30.5" text-anchor="middle">(c)</text>
<text x="620.5" y="405.4" font-size="30.5" text-anchor="middle">(d)</text>
<text x="221.3" y="777.5" font-size="30.5" text-anchor="middle" style="fill:#fff">(e)</text>
<text x="619.3" y="777.5" font-size="30.5" text-anchor="middle" style="fill:#fff">(f)</text>
<defs><linearGradient id="jet" x1="0" y1="1" x2="0" y2="0"><stop offset="0" stop-color="#000084"/><stop offset="0.125" stop-color="#0000ff"/><stop offset="0.375" stop-color="#00ffff"/><stop offset="0.625" stop-color="#ffff00"/><stop offset="0.875" stop-color="#ff0000"/><stop offset="1" stop-color="#840000"/></linearGradient></defs>
<rect x="767.7" y="11.3" width="17.1" height="266.3" fill="url(#jet)"/>
<text x="792.3" y="287" font-size="23.8" text-anchor="start">0</text>
<text x="792.3" y="233.7" font-size="23.8" text-anchor="start">0.2</text>
<text x="792.3" y="180.5" font-size="23.8" text-anchor="start">0.4</text>
<text x="792.3" y="127.2" font-size="23.8" text-anchor="start">0.6</text>
<text x="792.3" y="74" font-size="23.8" text-anchor="start">0.8</text>
<text x="792.3" y="20.7" font-size="23.8" text-anchor="start">1</text>
<path d="M784.8 224.3h-2.5M784.8 171.1h-2.5M784.8 117.8h-2.5M784.8 64.6h-2.5" stroke="#333" stroke-width="0.7" fill="none"/>
<rect x="767.7" y="383.5" width="17.1" height="266.3" fill="url(#jet)"/>
<text x="792.3" y="659.2" font-size="23.8" text-anchor="start">0</text>
<text x="792.3" y="605.9" font-size="23.8" text-anchor="start">0.2</text>
<text x="792.3" y="552.7" font-size="23.8" text-anchor="start">0.4</text>
<text x="792.3" y="499.4" font-size="23.8" text-anchor="start">0.6</text>
<text x="792.3" y="446.2" font-size="23.8" text-anchor="start">0.8</text>
<text x="792.3" y="392.9" font-size="23.8" text-anchor="start">1</text>
<path d="M784.8 596.5h-2.5M784.8 543.3h-2.5M784.8 490h-2.5M784.8 436.8h-2.5" stroke="#333" stroke-width="0.7" fill="none"/>
<rect x="767.7" y="755.8" width="17.1" height="265.8" fill="url(#jet)"/>
<text x="792.3" y="1031" font-size="23.8" text-anchor="start">0</text>
<text x="792.3" y="964.5" font-size="23.8" text-anchor="start">0.5</text>
<text x="792.3" y="898.1" font-size="23.8" text-anchor="start">1</text>
<text x="792.3" y="831.6" font-size="23.8" text-anchor="start">1.5</text>
<text x="792.3" y="765.2" font-size="23.8" text-anchor="start">2</text>
<path d="M784.8 955.1h-2.5M784.8 888.7h-2.5M784.8 822.2h-2.5" stroke="#333" stroke-width="0.7" fill="none"/>
</svg></body></html>
